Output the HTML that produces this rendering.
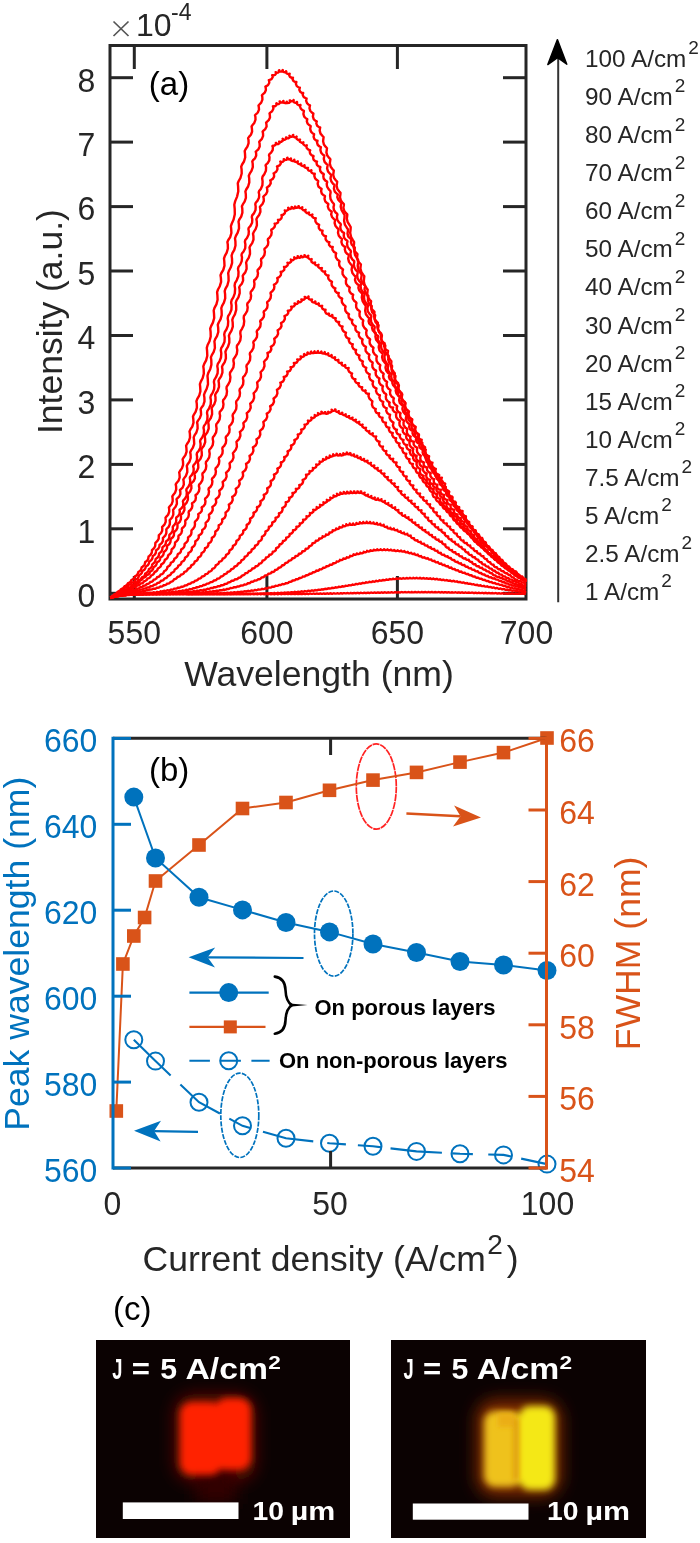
<!DOCTYPE html>
<html><head><meta charset="utf-8"><style>
html,body{margin:0;padding:0;background:#fff;}
svg{display:block;font-family:"Liberation Sans", sans-serif;filter:blur(0.5px);}
</style></head><body>
<svg width="700" height="1543" viewBox="0 0 700 1543">
<rect width="700" height="1543" fill="#fff"/>
<g stroke="#262626" stroke-width="3" fill="none">
<path d="M110,45.6 H526 V599 H110 Z"/>
<path d="M134.3,45.6 V69"/><path d="M134.3,599 V576"/>
<path d="M266.9,45.6 V69"/><path d="M266.9,599 V576"/>
<path d="M397.4,45.6 V69"/><path d="M397.4,599 V576"/>
<path d="M110,593.3 H133"/><path d="M526,593.3 H503"/>
<path d="M110,528.8 H133"/><path d="M526,528.8 H503"/>
<path d="M110,464.4 H133"/><path d="M526,464.4 H503"/>
<path d="M110,399.9 H133"/><path d="M526,399.9 H503"/>
<path d="M110,335.5 H133"/><path d="M526,335.5 H503"/>
<path d="M110,271.0 H133"/><path d="M526,271.0 H503"/>
<path d="M110,206.6 H133"/><path d="M526,206.6 H503"/>
<path d="M110,142.1 H133"/><path d="M526,142.1 H503"/>
<path d="M110,77.7 H133"/><path d="M526,77.7 H503"/>
</g>
<g fill="none" stroke="#FF0000" stroke-width="2.4" stroke-linejoin="round">
<path d="M110.5,597.3 L110.9,596.8 L111.7,596.6 L112.6,596.1 L113.4,595.4 L113.9,594.7 L114.4,594.3 L115.1,594.1 L116.1,593.6 L116.9,592.8 L117.4,592.1 L117.8,591.7 L118.5,591.4 L119.5,590.9 L120.4,590.1 L120.8,589.4 L121.2,589.0 L122.0,588.7 L123.0,588.2 L123.8,587.4 L124.3,586.6 L124.6,586.2 L125.4,585.9 L126.4,585.4 L127.3,584.5 L127.7,583.6 L128.1,583.2 L128.8,582.9 L129.9,582.3 L130.8,581.3 L131.2,580.4 L131.5,579.9 L132.2,579.6 L133.4,579.0 L134.2,577.9 L134.6,576.9 L134.9,576.3 L135.7,575.9 L136.8,575.2 L137.7,573.9 L138.1,572.7 L138.3,572.0 L139.1,571.5 L140.3,570.6 L141.2,569.3 L141.5,568.0 L141.7,567.2 L142.5,566.7 L143.7,565.8 L144.7,564.3 L145.0,562.9 L145.2,562.1 L145.9,561.6 L147.2,560.6 L148.2,559.0 L148.4,557.5 L148.6,556.5 L149.4,555.9 L150.7,554.7 L151.7,552.9 L151.9,551.2 L152.0,550.1 L152.8,549.3 L154.2,548.0 L155.2,546.0 L155.3,544.1 L155.4,542.9 L156.2,542.1 L157.6,540.7 L158.7,538.6 L158.8,536.6 L158.8,535.4 L159.6,534.5 L161.1,533.0 L162.2,530.7 L162.3,528.4 L162.1,527.1 L163.0,526.1 L164.6,524.4 L165.7,521.8 L165.7,519.3 L165.5,517.7 L166.4,516.6 L168.1,514.7 L169.2,511.8 L169.2,509.1 L168.9,507.5 L169.8,506.3 L171.6,504.3 L172.7,501.2 L172.6,498.2 L172.3,496.4 L173.2,495.0 L175.0,492.8 L176.2,489.4 L176.1,486.3 L175.7,484.4 L176.6,483.0 L178.5,480.8 L179.7,477.4 L179.5,474.2 L179.2,472.3 L180.1,470.8 L181.9,468.4 L183.1,464.9 L183.0,461.5 L182.6,459.4 L183.5,457.7 L185.4,455.1 L186.6,451.5 L186.4,448.0 L186.1,445.7 L187.0,444.0 L188.8,441.3 L190.0,437.5 L189.9,433.8 L189.5,431.4 L190.4,429.4 L192.3,426.6 L193.5,422.7 L193.3,419.0 L193.0,416.6 L193.9,414.6 L195.7,411.7 L196.9,407.7 L196.8,403.9 L196.4,401.2 L197.3,398.9 L199.2,395.7 L200.4,391.3 L200.2,387.1 L199.9,384.1 L200.8,381.6 L202.6,378.2 L203.8,373.7 L203.7,369.4 L203.3,366.4 L204.2,363.9 L206.1,360.4 L207.3,355.7 L207.1,351.2 L206.8,347.8 L207.6,345.0 L209.5,341.3 L210.7,336.5 L210.6,331.9 L210.2,328.7 L211.1,326.1 L212.9,322.6 L214.2,318.0 L214.0,313.6 L213.7,310.5 L214.5,307.9 L216.4,304.4 L217.6,299.8 L217.4,295.3 L217.1,292.1 L218.0,289.5 L219.8,286.2 L221.1,281.9 L220.9,277.9 L220.5,275.2 L221.4,273.0 L223.3,269.9 L224.5,265.7 L224.3,261.5 L224.0,258.5 L224.9,255.9 L226.7,252.7 L227.9,248.5 L227.8,244.6 L227.4,242.0 L228.3,240.0 L230.2,237.1 L231.4,233.0 L231.2,229.1 L230.9,226.2 L231.8,223.5 L233.6,219.6 L234.8,214.3 L234.7,208.9 L234.3,204.7 L235.2,201.1 L237.1,196.6 L238.3,191.2 L238.1,186.4 L237.8,183.3 L238.7,181.0 L240.5,177.8 L241.7,173.5 L241.6,169.5 L241.2,166.7 L242.1,164.5 L244.0,161.5 L245.2,157.4 L245.0,153.6 L244.7,151.0 L245.6,149.2 L247.4,146.6 L248.6,143.1 L248.5,140.0 L248.1,138.1 L249.0,136.9 L250.9,134.8 L252.1,131.5 L251.9,128.5 L251.6,126.5 L252.5,125.1 L254.3,122.9 L255.5,119.7 L255.4,116.8 L255.0,115.3 L255.9,114.3 L257.8,112.5 L259.0,109.6 L258.8,106.9 L258.5,105.5 L259.4,104.5 L261.2,102.6 L262.4,99.6 L262.3,96.8 L261.9,95.3 L262.8,94.4 L264.7,92.7 L265.9,90.0 L265.7,87.6 L265.4,86.6 L266.3,86.2 L268.1,85.0 L269.3,82.8 L269.1,80.8 L268.8,80.1 L269.6,80.0 L271.5,79.1 L272.7,77.2 L272.5,75.5 L272.2,75.2 L273.0,75.5 L274.9,74.9 L276.1,73.4 L275.9,72.1 L275.6,72.1 L276.4,72.7 L278.3,72.5 L279.5,71.2 L279.3,70.2 L278.9,70.5 L279.8,71.5 L281.7,71.6 L282.9,70.5 L282.7,70.0 L282.3,70.6 L283.2,71.9 L285.1,72.3 L286.3,71.7 L286.1,71.2 L285.7,72.0 L286.6,73.4 L288.5,74.1 L289.7,73.8 L289.5,73.8 L289.1,75.0 L290.0,76.9 L291.8,77.9 L293.0,77.8 L292.9,77.9 L292.5,79.1 L293.4,80.9 L295.2,82.0 L296.4,82.0 L296.3,82.3 L295.9,83.9 L296.8,86.1 L298.6,87.4 L299.8,87.7 L299.7,88.1 L299.3,89.7 L300.2,91.8 L302.0,93.0 L303.2,93.0 L303.1,93.3 L302.7,94.8 L303.6,96.9 L305.4,98.1 L306.6,98.4 L306.5,98.9 L306.1,100.7 L307.0,103.2 L308.8,104.8 L310.0,105.4 L309.8,106.2 L309.5,108.3 L310.4,111.0 L312.2,112.8 L313.4,113.6 L313.2,114.5 L312.9,116.7 L313.8,119.4 L315.6,120.9 L316.8,121.3 L316.6,121.8 L316.3,123.4 L317.2,125.7 L319.0,127.1 L320.2,127.5 L320.0,128.3 L319.7,130.6 L320.5,133.6 L322.4,135.8 L323.6,137.0 L323.4,138.5 L323.1,141.2 L323.9,144.5 L325.8,146.9 L327.0,148.2 L326.8,149.7 L326.4,152.4 L327.3,155.6 L329.2,157.9 L330.4,159.2 L330.2,160.7 L329.8,163.4 L330.7,166.7 L332.6,169.2 L333.8,170.5 L333.6,172.0 L333.2,174.8 L334.1,178.1 L336.0,180.5 L337.2,181.7 L337.0,183.2 L336.6,185.9 L337.5,189.2 L339.4,191.6 L340.5,192.9 L340.4,194.4 L340.0,197.2 L340.9,200.6 L342.7,202.9 L343.9,204.1 L343.8,205.4 L343.4,207.9 L344.3,211.0 L346.1,213.2 L347.3,214.4 L347.2,215.8 L346.8,218.6 L347.7,222.2 L349.5,225.0 L350.7,227.0 L350.6,229.3 L350.2,232.9 L351.1,237.0 L352.9,240.2 L354.1,242.2 L354.0,244.2 L353.6,247.3 L354.5,250.6 L356.3,253.0 L357.5,254.1 L357.3,255.4 L357.0,257.9 L357.9,261.0 L359.7,263.2 L360.9,264.3 L360.7,265.7 L360.4,268.5 L361.3,271.9 L363.1,274.6 L364.3,276.3 L364.1,278.2 L363.8,281.4 L364.7,285.2 L366.5,288.0 L367.7,289.7 L367.5,291.4 L367.2,294.3 L368.0,297.6 L369.9,300.0 L371.1,301.2 L370.9,302.6 L370.6,305.3 L371.4,308.4 L373.3,310.7 L374.5,311.9 L374.3,313.3 L374.0,316.0 L374.8,319.3 L376.7,321.6 L377.9,322.8 L377.7,324.2 L377.3,326.9 L378.2,330.1 L380.1,332.4 L381.3,333.6 L381.1,335.0 L380.7,337.6 L381.6,340.6 L383.5,342.6 L384.7,343.3 L384.5,344.1 L384.1,346.1 L385.0,348.6 L386.9,350.3 L388.0,350.9 L387.9,351.9 L387.5,354.3 L388.4,357.4 L390.2,359.8 L391.4,361.2 L391.3,362.9 L390.9,365.8 L391.8,369.3 L393.6,371.8 L394.8,373.2 L394.7,374.6 L394.3,377.1 L395.2,380.1 L397.0,382.2 L398.2,383.2 L398.1,384.4 L397.7,386.8 L398.6,389.8 L400.4,391.9 L401.6,392.9 L401.4,394.0 L401.0,396.3 L401.9,399.1 L403.8,401.1 L404.9,401.9 L404.8,403.0 L404.4,405.3 L405.3,408.2 L407.1,410.1 L408.3,410.9 L408.1,411.9 L407.8,414.1 L408.6,416.8 L410.5,418.5 L411.7,419.1 L411.5,419.9 L411.1,421.9 L412.0,424.4 L413.8,426.1 L415.0,426.6 L414.8,427.4 L414.5,429.4 L415.3,431.9 L417.2,433.5 L418.4,433.8 L418.2,434.2 L417.8,435.9 L418.7,438.1 L420.5,439.4 L421.7,439.7 L421.6,440.2 L421.2,442.1 L422.1,444.6 L423.9,446.4 L425.1,447.3 L424.9,448.3 L424.5,450.7 L425.4,453.6 L427.3,455.5 L428.4,456.3 L428.3,457.2 L427.9,459.1 L428.8,461.5 L430.6,462.9 L431.8,463.2 L431.6,463.7 L431.3,465.4 L432.1,467.7 L434.0,469.0 L435.2,469.3 L435.0,469.7 L434.6,471.5 L435.5,473.7 L437.3,474.8 L438.5,474.6 L438.3,474.5 L438.0,475.6 L438.8,477.3 L440.7,478.0 L441.9,477.8 L441.7,477.9 L441.3,479.5 L442.2,481.7 L444.0,483.2 L445.2,483.7 L445.0,484.4 L444.7,486.3 L445.6,488.8 L447.4,490.4 L448.6,490.8 L448.4,491.4 L448.0,493.0 L448.9,495.2 L450.7,496.4 L451.9,496.5 L451.8,496.9 L451.4,498.4 L452.3,500.5 L454.1,501.7 L455.2,501.8 L455.1,502.1 L454.8,503.6 L455.7,505.6 L457.4,506.8 L458.6,507.0 L458.5,507.4 L458.2,508.9 L459.1,510.9 L460.8,512.1 L461.9,512.3 L461.8,512.7 L461.6,514.1 L462.4,515.9 L464.1,517.0 L465.2,517.2 L465.2,517.6 L465.0,519.0 L465.8,520.9 L467.4,521.9 L468.5,522.1 L468.5,522.5 L468.4,523.8 L469.2,525.5 L470.8,526.4 L471.8,526.5 L471.9,526.8 L471.8,528.0 L472.6,529.6 L474.1,530.5 L475.2,530.6 L475.2,530.9 L475.1,532.1 L476.0,533.6 L477.5,534.5 L478.5,534.6 L478.6,534.9 L478.5,536.0 L479.3,537.5 L480.8,538.4 L481.8,538.5 L481.9,538.8 L481.9,539.9 L482.7,541.4 L484.1,542.3 L485.2,542.5 L485.3,542.9 L485.3,544.1 L486.1,545.6 L487.5,546.5 L488.5,546.7 L488.6,547.1 L488.7,548.1 L489.5,549.5 L490.8,550.3 L491.8,550.6 L492.0,550.9 L492.1,552.0 L492.8,553.3 L494.2,554.2 L495.1,554.4 L495.3,554.7 L495.4,555.7 L496.2,556.9 L497.5,557.7 L498.5,557.9 L498.7,558.2 L498.8,559.2 L499.6,560.4 L500.9,561.1 L501.8,561.3 L502.0,561.6 L502.2,562.5 L503.0,563.6 L504.2,564.3 L505.1,564.4 L505.4,564.6 L505.6,565.3 L506.3,566.3 L507.6,566.9 L508.5,567.0 L508.7,567.2 L509.0,568.0 L509.7,569.0 L510.9,569.6 L511.8,569.8 L512.1,570.0 L512.3,570.7 L513.1,571.7 L514.3,572.2 L515.1,572.4 L515.5,572.6 L515.7,573.3 L516.5,574.2 L517.6,574.7 L518.5,574.7 L518.8,574.8 L519.1,575.3 L519.8,576.0 L520.9,576.4 L521.8,576.4 L522.2,576.5 L522.5,577.1 L523.2,578.0 L524.3,578.6 L525.1,578.8 L525.5,579.1 L525.8,579.8"/>
<path d="M110.6,597.5 L111.2,596.9 L111.6,596.6 L112.3,596.3 L113.3,596.0 L114.1,595.3 L114.6,594.7 L115.0,594.4 L115.8,594.2 L116.7,593.8 L117.6,593.1 L118.1,592.5 L118.5,592.2 L119.2,592.0 L120.2,591.6 L121.0,590.9 L121.5,590.2 L121.9,589.9 L122.6,589.7 L123.7,589.3 L124.5,588.6 L125.0,587.9 L125.3,587.5 L126.1,587.3 L127.1,586.9 L128.0,586.1 L128.4,585.3 L128.8,584.9 L129.5,584.7 L130.6,584.3 L131.4,583.5 L131.9,582.8 L132.2,582.5 L132.9,582.4 L134.0,581.9 L134.9,581.0 L135.3,580.2 L135.6,579.7 L136.4,579.3 L137.5,578.6 L138.4,577.3 L138.8,576.1 L139.1,575.4 L139.8,574.8 L140.9,574.0 L141.9,572.7 L142.2,571.5 L142.5,570.9 L143.2,570.5 L144.4,569.7 L145.3,568.4 L145.7,567.2 L145.9,566.5 L146.6,566.0 L147.9,565.2 L148.8,563.7 L149.1,562.4 L149.3,561.5 L150.1,561.0 L151.3,560.1 L152.3,558.5 L152.6,557.0 L152.7,556.2 L153.5,555.6 L154.8,554.6 L155.8,552.8 L156.0,551.2 L156.1,550.2 L156.9,549.7 L158.3,548.7 L159.3,547.0 L159.5,545.5 L159.5,544.7 L160.3,544.2 L161.7,543.1 L162.8,541.2 L163.0,539.3 L162.9,538.1 L163.7,537.2 L165.2,535.7 L166.3,533.3 L166.4,531.0 L166.3,529.5 L167.1,528.4 L168.7,526.8 L169.8,524.2 L169.9,521.8 L169.7,520.3 L170.5,519.3 L172.2,517.4 L173.3,514.6 L173.3,511.8 L173.1,510.0 L173.9,508.8 L175.6,506.8 L176.9,503.7 L176.8,500.9 L176.5,499.3 L177.3,498.4 L179.1,496.7 L180.4,494.0 L180.3,491.4 L179.9,490.1 L180.7,489.3 L182.6,487.6 L183.8,484.6 L183.7,481.6 L183.3,479.6 L184.2,478.1 L186.0,475.7 L187.3,472.0 L187.2,468.5 L186.8,466.1 L187.6,464.3 L189.5,461.7 L190.7,458.0 L190.6,454.5 L190.2,452.2 L191.1,450.4 L192.9,447.7 L194.2,443.8 L194.0,440.0 L193.7,437.4 L194.5,435.4 L196.4,432.5 L197.6,428.5 L197.5,424.7 L197.1,422.3 L198.0,420.6 L199.8,418.1 L201.1,414.6 L200.9,411.3 L200.6,409.2 L201.4,407.7 L203.3,405.2 L204.5,401.4 L204.4,397.6 L204.0,394.8 L204.9,392.4 L206.7,388.8 L208.0,384.1 L207.8,379.4 L207.5,375.8 L208.3,372.9 L210.2,369.2 L211.4,364.6 L211.3,360.2 L210.9,357.4 L211.8,355.1 L213.6,352.1 L214.9,348.0 L214.7,344.1 L214.4,341.4 L215.2,339.2 L217.0,336.2 L218.3,332.0 L218.2,327.8 L217.8,324.8 L218.7,322.5 L220.5,319.3 L221.7,315.1 L221.6,311.0 L221.3,308.1 L222.1,305.9 L223.9,302.7 L225.2,298.4 L225.1,294.2 L224.7,291.2 L225.5,288.7 L227.4,285.3 L228.6,280.7 L228.5,276.4 L228.2,273.2 L229.0,270.7 L230.8,267.3 L232.1,262.8 L232.0,258.6 L231.6,255.6 L232.4,253.2 L234.3,249.9 L235.5,245.5 L235.4,241.3 L235.0,238.3 L235.9,235.9 L237.7,232.7 L239.0,228.4 L238.9,224.3 L238.5,221.6 L239.3,219.5 L241.2,216.6 L242.4,212.6 L242.3,208.8 L241.9,206.3 L242.8,204.4 L244.6,201.7 L245.9,197.8 L245.8,194.1 L245.4,191.5 L246.2,189.5 L248.1,186.5 L249.3,182.4 L249.2,178.4 L248.8,175.7 L249.7,173.7 L251.5,170.9 L252.8,167.1 L252.7,163.6 L252.3,161.5 L253.1,160.2 L255.0,158.4 L256.2,155.5 L256.1,152.9 L255.7,151.6 L256.6,150.9 L258.4,149.3 L259.7,146.4 L259.6,143.6 L259.2,141.9 L260.0,140.8 L261.9,138.9 L263.1,135.9 L263.0,133.1 L262.6,131.6 L263.5,130.7 L265.3,129.1 L266.6,126.4 L266.4,123.9 L266.1,122.7 L266.9,121.9 L268.7,120.2 L270.0,117.4 L269.8,114.7 L269.5,113.3 L270.3,112.6 L272.1,111.2 L273.4,108.8 L273.2,106.8 L272.9,106.2 L273.7,106.5 L275.5,106.0 L276.8,104.5 L276.6,103.3 L276.3,103.4 L277.1,104.1 L278.9,104.0 L280.2,102.7 L280.0,101.5 L279.6,101.5 L280.5,102.4 L282.3,102.5 L283.6,101.6 L283.4,100.9 L283.0,101.5 L283.9,102.8 L285.7,103.2 L286.9,102.4 L286.8,101.7 L286.4,102.2 L287.3,103.0 L289.1,102.9 L290.3,101.6 L290.2,100.4 L289.8,100.5 L290.7,101.2 L292.5,101.3 L293.7,100.4 L293.6,99.9 L293.2,100.8 L294.0,102.3 L295.9,102.9 L297.1,102.4 L297.0,102.0 L296.6,103.0 L297.4,104.5 L299.3,105.3 L300.5,105.0 L300.4,105.0 L300.0,106.4 L300.8,108.7 L302.7,110.3 L303.9,110.9 L303.8,111.8 L303.4,113.9 L304.2,116.7 L306.1,118.5 L307.3,119.0 L307.2,119.6 L306.8,121.2 L307.6,123.7 L309.5,125.3 L310.7,126.0 L310.6,126.8 L310.2,128.9 L311.0,131.6 L312.8,133.5 L314.1,134.1 L314.0,134.9 L313.6,136.8 L314.4,139.1 L316.2,140.5 L317.5,140.7 L317.4,141.1 L317.0,142.7 L317.8,145.0 L319.6,146.5 L320.9,147.0 L320.7,147.8 L320.4,150.0 L321.2,152.8 L323.0,154.8 L324.3,155.6 L324.1,156.7 L323.8,159.0 L324.6,161.9 L326.4,163.9 L327.7,164.9 L327.5,166.0 L327.1,168.4 L328.0,171.4 L329.8,173.6 L331.1,174.7 L330.9,176.0 L330.5,178.5 L331.4,181.6 L333.2,183.9 L334.4,185.0 L334.3,186.3 L333.9,188.7 L334.8,191.6 L336.6,193.5 L337.8,194.2 L337.7,195.0 L337.3,197.0 L338.2,199.7 L340.0,201.6 L341.2,202.6 L341.1,203.8 L340.7,206.6 L341.6,210.2 L343.4,213.1 L344.6,215.1 L344.5,217.3 L344.1,220.7 L344.9,224.7 L346.8,227.7 L348.0,229.4 L347.9,231.0 L347.5,233.6 L348.3,236.6 L350.2,238.5 L351.4,239.2 L351.3,239.9 L350.9,241.9 L351.7,244.6 L353.6,246.5 L354.8,247.4 L354.7,248.8 L354.3,251.6 L355.1,255.2 L357.0,258.2 L358.2,260.2 L358.1,262.4 L357.7,265.9 L358.5,269.9 L360.4,272.9 L361.6,274.6 L361.5,276.2 L361.1,278.9 L361.9,282.1 L363.7,284.4 L365.0,285.6 L364.9,286.9 L364.5,289.4 L365.3,292.5 L367.1,294.8 L368.4,296.0 L368.2,297.4 L367.9,300.0 L368.7,303.0 L370.5,305.1 L371.8,306.0 L371.6,307.0 L371.3,309.2 L372.1,312.1 L373.9,314.1 L375.2,315.1 L375.0,316.4 L374.6,319.0 L375.5,322.1 L377.3,324.3 L378.6,325.3 L378.4,326.5 L378.0,328.9 L378.9,332.0 L380.7,334.1 L381.9,335.2 L381.8,336.5 L381.4,339.0 L382.3,342.1 L384.1,344.4 L385.3,345.5 L385.2,346.8 L384.8,349.4 L385.7,352.5 L387.5,354.7 L388.7,355.8 L388.6,357.0 L388.2,359.4 L389.1,362.5 L390.9,364.7 L392.1,365.8 L392.0,367.1 L391.6,369.6 L392.4,372.6 L394.3,374.8 L395.5,375.8 L395.4,376.9 L395.0,379.3 L395.8,382.2 L397.7,384.2 L398.9,385.2 L398.8,386.3 L398.4,388.6 L399.2,391.4 L401.0,393.4 L402.3,394.3 L402.1,395.3 L401.7,397.5 L402.6,400.3 L404.4,402.2 L405.6,403.0 L405.5,403.9 L405.1,406.1 L405.9,408.8 L407.7,410.6 L409.0,411.4 L408.8,412.3 L408.4,414.3 L409.3,417.0 L411.1,418.7 L412.3,419.3 L412.2,420.0 L411.8,422.0 L412.6,424.5 L414.5,426.2 L415.7,426.8 L415.6,427.6 L415.2,429.6 L416.0,432.2 L417.8,434.0 L419.0,434.7 L418.9,435.6 L418.5,437.7 L419.3,440.4 L421.2,442.1 L422.4,442.7 L422.3,443.5 L421.9,445.3 L422.7,447.7 L424.5,449.3 L425.8,449.7 L425.6,450.2 L425.2,452.0 L426.1,454.3 L427.9,455.8 L429.1,456.1 L429.0,456.7 L428.6,458.5 L429.4,460.8 L431.2,462.3 L432.5,462.6 L432.3,463.1 L431.9,464.8 L432.8,467.0 L434.6,468.5 L435.8,468.8 L435.7,469.2 L435.3,470.9 L436.1,473.3 L438.0,474.8 L439.2,475.1 L439.0,475.7 L438.7,477.4 L439.5,479.7 L441.3,481.2 L442.5,481.5 L442.4,481.9 L442.0,483.5 L442.8,485.6 L444.7,486.9 L445.9,486.9 L445.8,487.2 L445.4,488.6 L446.2,490.6 L448.0,491.8 L449.3,491.9 L449.1,492.2 L448.7,493.7 L449.6,495.9 L451.4,497.2 L452.6,497.3 L452.5,497.6 L452.1,499.2 L452.9,501.2 L454.7,502.5 L455.9,502.6 L455.8,502.9 L455.5,504.3 L456.3,506.2 L458.1,507.2 L459.2,507.1 L459.2,507.2 L458.9,508.4 L459.7,510.1 L461.4,511.0 L462.6,511.0 L462.5,511.3 L462.3,512.7 L463.1,514.6 L464.7,515.9 L465.9,516.2 L465.9,516.8 L465.7,518.3 L466.5,520.3 L468.1,521.5 L469.2,521.8 L469.2,522.1 L469.1,523.4 L469.9,525.1 L471.4,526.2 L472.5,526.4 L472.6,526.8 L472.4,528.1 L473.2,529.8 L474.8,530.9 L475.8,531.1 L475.9,531.4 L475.8,532.6 L476.6,534.1 L478.1,535.1 L479.2,535.2 L479.3,535.5 L479.2,536.6 L480.0,538.1 L481.5,539.0 L482.5,539.2 L482.6,539.4 L482.6,540.5 L483.4,542.0 L484.8,542.8 L485.8,543.0 L486.0,543.2 L486.0,544.2 L486.7,545.6 L488.1,546.4 L489.2,546.6 L489.3,546.8 L489.4,547.8 L490.1,549.1 L491.5,549.9 L492.5,550.0 L492.7,550.2 L492.7,551.1 L493.5,552.3 L494.8,553.0 L495.8,553.1 L496.0,553.4 L496.1,554.4 L496.9,555.7 L498.2,556.6 L499.1,556.9 L499.4,557.3 L499.5,558.3 L500.3,559.6 L501.5,560.4 L502.5,560.7 L502.7,561.0 L502.9,561.8 L503.6,563.0 L504.9,563.6 L505.8,563.7 L506.1,563.9 L506.3,564.7 L507.0,565.8 L508.2,566.4 L509.1,566.5 L509.4,566.8 L509.6,567.5 L510.4,568.5 L511.6,569.1 L512.5,569.2 L512.8,569.3 L513.0,569.9 L513.7,570.8 L514.9,571.3 L515.8,571.4 L516.1,571.6 L516.4,572.4 L517.1,573.5 L518.3,574.3 L519.1,574.7 L519.5,575.2 L519.8,576.1 L520.5,577.3 L521.6,578.0 L522.5,578.3 L522.8,578.5 L523.1,579.1 L523.9,579.9 L525.0,580.3 L525.8,580.3 L526.2,580.3"/>
<path d="M110.5,597.5 L111.0,597.1 L111.6,596.9 L112.5,596.7 L113.4,596.1 L114.0,595.5 L114.4,595.2 L115.0,595.1 L116.0,594.8 L116.9,594.3 L117.5,593.7 L117.9,593.4 L118.5,593.2 L119.4,593.0 L120.3,592.5 L120.9,591.9 L121.3,591.5 L121.9,591.4 L122.9,591.2 L123.8,590.7 L124.4,590.1 L124.7,589.7 L125.3,589.7 L126.3,589.5 L127.3,588.9 L127.8,588.3 L128.2,587.9 L128.8,587.8 L129.8,587.5 L130.7,586.8 L131.3,586.0 L131.6,585.5 L132.2,585.3 L133.2,584.9 L134.2,584.2 L134.7,583.3 L135.0,582.8 L135.6,582.6 L136.7,582.3 L137.7,581.5 L138.2,580.7 L138.5,580.2 L139.1,580.0 L140.1,579.7 L141.1,578.9 L141.6,577.9 L141.9,577.3 L142.5,577.0 L143.6,576.5 L144.6,575.5 L145.1,574.3 L145.3,573.6 L145.9,573.2 L147.0,572.5 L148.1,571.4 L148.6,570.1 L148.8,569.3 L149.3,568.9 L150.5,568.3 L151.6,567.0 L152.0,565.5 L152.2,564.5 L152.7,563.9 L153.9,563.1 L155.0,561.7 L155.5,560.1 L155.6,559.1 L156.2,558.6 L157.4,557.8 L158.5,556.3 L159.0,554.7 L159.0,553.6 L159.6,553.0 L160.8,552.1 L162.0,550.5 L162.4,548.7 L162.4,547.5 L163.0,546.8 L164.3,546.0 L165.5,544.4 L165.9,542.6 L165.9,541.6 L166.4,541.1 L167.7,540.2 L169.0,538.5 L169.4,536.6 L169.3,535.2 L169.8,534.4 L171.2,533.2 L172.5,531.1 L172.9,528.7 L172.7,527.0 L173.2,526.1 L174.6,524.7 L176.0,522.4 L176.3,519.8 L176.1,518.1 L176.5,517.3 L178.1,516.1 L179.5,513.9 L179.8,511.5 L179.5,510.0 L179.9,509.4 L181.5,508.3 L183.1,506.0 L183.3,503.2 L182.9,501.4 L183.3,500.4 L185.0,498.7 L186.6,495.8 L186.8,492.4 L186.3,490.1 L186.7,488.7 L188.4,486.8 L190.0,483.6 L190.2,480.2 L189.8,477.9 L190.2,476.7 L191.9,474.9 L193.5,471.9 L193.7,468.7 L193.2,466.4 L193.6,465.1 L195.3,463.3 L196.9,460.2 L197.1,456.8 L196.7,454.3 L197.1,452.8 L198.8,450.8 L200.4,447.5 L200.6,443.9 L200.1,441.3 L200.5,439.7 L202.2,437.6 L203.8,434.1 L204.0,430.4 L203.5,427.7 L204.0,425.9 L205.7,423.6 L207.3,419.9 L207.5,415.9 L207.0,412.9 L207.4,410.8 L209.1,408.3 L210.7,404.5 L210.9,400.4 L210.4,397.5 L210.9,395.5 L212.6,392.9 L214.1,389.1 L214.4,385.0 L213.9,382.0 L214.3,379.8 L216.0,377.2 L217.6,373.3 L217.8,369.1 L217.3,366.1 L217.8,363.9 L219.5,361.3 L221.0,357.5 L221.3,353.4 L220.8,350.3 L221.2,348.2 L222.9,345.5 L224.5,341.7 L224.7,337.5 L224.2,334.4 L224.7,332.2 L226.4,329.5 L227.9,325.6 L228.2,321.5 L227.7,318.4 L228.1,316.2 L229.8,313.6 L231.4,309.7 L231.6,305.5 L231.1,302.4 L231.6,300.2 L233.3,297.4 L234.8,293.3 L235.1,288.9 L234.6,285.6 L235.0,283.2 L236.7,280.3 L238.3,276.3 L238.5,272.0 L238.0,268.9 L238.5,266.9 L240.2,264.6 L241.7,261.1 L242.0,257.5 L241.5,255.0 L241.9,253.5 L243.6,251.5 L245.2,248.2 L245.4,244.5 L244.9,241.8 L245.3,240.0 L247.0,237.9 L248.6,234.6 L248.8,231.2 L248.4,229.0 L248.8,227.7 L250.5,225.9 L252.1,222.8 L252.3,219.4 L251.8,217.0 L252.2,215.4 L253.9,213.4 L255.5,210.1 L255.7,206.6 L255.3,204.2 L255.7,202.8 L257.4,200.9 L259.0,197.8 L259.2,194.5 L258.7,192.3 L259.1,191.0 L260.8,188.9 L262.4,185.3 L262.6,181.4 L262.2,178.5 L262.6,176.5 L264.3,174.2 L265.9,170.8 L266.1,167.4 L265.6,165.4 L266.0,164.6 L267.7,163.1 L269.3,160.3 L269.5,157.2 L269.0,155.2 L269.4,154.1 L271.1,152.6 L272.7,150.0 L272.9,147.3 L272.4,146.0 L272.8,145.8 L274.5,145.5 L276.1,144.3 L276.3,143.0 L275.8,142.9 L276.2,143.8 L277.9,144.2 L279.5,143.3 L279.7,142.0 L279.2,141.6 L279.6,141.9 L281.3,141.8 L282.9,140.5 L283.1,139.1 L282.6,138.8 L283.0,139.4 L284.7,139.7 L286.3,138.7 L286.5,137.5 L286.0,137.4 L286.4,138.2 L288.1,138.4 L289.6,137.4 L289.9,136.1 L289.4,135.8 L289.8,136.6 L291.5,136.9 L293.0,136.0 L293.2,135.0 L292.8,135.3 L293.2,136.5 L294.9,137.4 L296.4,137.1 L296.6,136.6 L296.2,137.3 L296.6,138.8 L298.3,140.0 L299.8,139.9 L300.0,139.5 L299.5,140.2 L300.0,141.8 L301.7,142.8 L303.2,142.6 L303.4,142.2 L302.9,142.8 L303.4,144.4 L305.0,145.6 L306.6,145.6 L306.8,145.3 L306.3,146.3 L306.8,148.2 L308.4,149.7 L310.0,150.1 L310.2,150.2 L309.7,151.4 L310.1,153.6 L311.8,155.3 L313.4,155.8 L313.6,156.1 L313.1,157.4 L313.5,159.6 L315.2,161.2 L316.8,161.5 L317.0,161.6 L316.5,162.7 L316.9,164.8 L318.6,166.4 L320.2,166.9 L320.4,167.1 L319.9,168.6 L320.3,171.1 L322.0,173.1 L323.6,173.9 L323.8,174.4 L323.3,176.0 L323.7,178.6 L325.4,180.6 L327.0,181.5 L327.2,182.2 L326.7,183.9 L327.1,186.7 L328.8,189.4 L330.4,191.0 L330.6,192.5 L330.1,195.2 L330.5,198.9 L332.2,202.0 L333.8,203.7 L334.0,205.0 L333.5,207.1 L333.9,210.0 L335.6,212.5 L337.1,213.7 L337.4,214.7 L336.9,216.8 L337.3,219.8 L339.0,222.4 L340.5,223.7 L340.8,224.7 L340.3,226.8 L340.7,229.7 L342.4,232.0 L343.9,232.9 L344.1,233.5 L343.7,235.1 L344.1,237.7 L345.8,239.8 L347.3,240.7 L347.5,241.5 L347.0,243.5 L347.5,246.6 L349.2,249.2 L350.7,250.6 L350.9,251.7 L350.4,253.8 L350.9,257.0 L352.5,259.6 L354.1,261.0 L354.3,262.1 L353.8,264.3 L354.3,267.4 L355.9,270.1 L357.5,271.6 L357.7,272.8 L357.2,275.2 L357.6,278.4 L359.3,281.2 L360.9,282.7 L361.1,283.9 L360.6,286.1 L361.0,289.2 L362.7,292.0 L364.3,293.5 L364.5,294.8 L364.0,297.1 L364.4,300.5 L366.1,303.2 L367.7,304.8 L367.9,306.0 L367.4,308.2 L367.8,311.3 L369.5,313.9 L371.1,315.4 L371.3,316.6 L370.8,319.0 L371.2,322.2 L372.9,324.9 L374.5,326.4 L374.7,327.5 L374.2,329.6 L374.6,332.6 L376.3,334.9 L377.9,335.8 L378.1,336.3 L377.6,337.8 L378.0,340.2 L379.7,342.2 L381.3,343.1 L381.5,343.8 L381.0,345.7 L381.4,348.7 L383.1,351.4 L384.6,353.0 L384.9,354.4 L384.4,356.8 L384.8,360.2 L386.5,363.1 L388.0,364.7 L388.3,365.8 L387.8,367.9 L388.2,370.7 L389.9,373.0 L391.4,374.0 L391.6,374.6 L391.2,376.3 L391.6,378.9 L393.3,381.0 L394.8,381.9 L395.0,382.6 L394.5,384.4 L395.0,387.2 L396.7,389.4 L398.2,390.4 L398.4,391.0 L397.9,392.7 L398.3,395.3 L400.0,397.4 L401.6,398.3 L401.8,398.9 L401.3,400.6 L401.7,403.3 L403.4,405.5 L404.9,406.5 L405.1,407.1 L404.6,408.8 L405.1,411.5 L406.7,413.6 L408.3,414.5 L408.5,415.1 L408.0,416.8 L408.4,419.4 L410.1,421.6 L411.6,422.6 L411.9,423.4 L411.4,425.3 L411.8,428.1 L413.4,430.3 L415.0,431.3 L415.2,431.9 L414.7,433.6 L415.1,436.0 L416.8,437.9 L418.4,438.4 L418.6,438.6 L418.1,439.8 L418.5,441.9 L420.2,443.6 L421.7,444.0 L421.9,444.3 L421.4,445.7 L421.8,448.2 L423.5,450.4 L425.1,451.5 L425.3,452.5 L424.8,454.5 L425.2,457.5 L426.9,460.0 L428.4,461.1 L428.6,461.7 L428.1,463.3 L428.6,465.5 L430.2,467.2 L431.8,467.5 L432.0,467.5 L431.5,468.6 L431.9,470.5 L433.6,472.0 L435.1,472.3 L435.3,472.4 L434.8,473.6 L435.3,475.8 L436.9,477.4 L438.5,477.7 L438.7,477.7 L438.2,478.7 L438.6,480.7 L440.3,482.2 L441.9,482.4 L442.1,482.5 L441.6,483.6 L442.0,485.8 L443.7,487.4 L445.2,487.7 L445.4,487.7 L444.9,488.7 L445.3,490.7 L447.0,492.2 L448.6,492.4 L448.8,492.5 L448.3,493.6 L448.7,495.7 L450.4,497.4 L451.9,498.0 L452.1,498.4 L451.7,499.8 L452.1,502.1 L453.7,503.9 L455.2,504.5 L455.5,504.7 L455.0,505.9 L455.5,507.8 L457.1,509.2 L458.5,509.4 L458.8,509.4 L458.4,510.3 L458.9,512.1 L460.4,513.4 L461.9,513.6 L462.1,513.7 L461.8,514.7 L462.3,516.4 L463.8,517.8 L465.2,518.1 L465.5,518.2 L465.2,519.1 L465.6,520.8 L467.1,522.1 L468.5,522.4 L468.8,522.5 L468.6,523.4 L469.0,525.1 L470.5,526.3 L471.8,526.5 L472.1,526.6 L471.9,527.4 L472.4,528.9 L473.8,530.0 L475.2,530.3 L475.5,530.3 L475.3,531.2 L475.8,532.8 L477.2,533.9 L478.5,534.2 L478.8,534.3 L478.7,535.1 L479.2,536.5 L480.6,537.6 L481.8,537.9 L482.2,538.0 L482.1,538.8 L482.6,540.3 L483.9,541.5 L485.1,542.0 L485.5,542.3 L485.4,543.2 L486.0,544.8 L487.3,546.1 L488.5,546.5 L488.9,546.7 L488.8,547.6 L489.3,548.9 L490.6,550.0 L491.8,550.3 L492.2,550.6 L492.2,551.4 L492.7,552.8 L494.0,553.8 L495.1,554.2 L495.5,554.4 L495.6,555.1 L496.1,556.3 L497.3,557.2 L498.5,557.4 L498.9,557.4 L498.9,557.9 L499.5,559.0 L500.7,559.7 L501.8,559.9 L502.2,560.0 L502.3,560.6 L502.9,561.8 L504.0,562.9 L505.1,563.4 L505.6,563.8 L505.7,564.8 L506.2,566.2 L507.4,567.3 L508.5,567.8 L508.9,568.1 L509.1,568.8 L509.6,569.8 L510.7,570.5 L511.8,570.6 L512.3,570.6 L512.4,571.1 L513.0,571.9 L514.1,572.5 L515.1,572.6 L515.6,572.7 L515.8,573.2 L516.4,574.1 L517.4,574.8 L518.5,575.1 L519.0,575.2 L519.2,575.7 L519.7,576.6 L520.8,577.3 L521.8,577.5 L522.3,577.6 L522.5,578.0 L523.1,578.9 L524.2,579.5 L525.1,579.6 L525.6,579.7 L525.9,580.1"/>
<path d="M110.5,597.9 L111.3,597.3 L111.9,596.7 L112.3,596.5 L113.0,596.4 L114.0,596.1 L114.8,595.5 L115.3,595.0 L115.7,594.7 L116.5,594.7 L117.4,594.4 L118.3,593.9 L118.8,593.3 L119.2,593.1 L119.9,593.1 L120.9,592.9 L121.7,592.4 L122.2,591.9 L122.6,591.7 L123.3,591.7 L124.3,591.4 L125.2,590.8 L125.7,590.2 L126.1,590.0 L126.8,589.9 L127.8,589.6 L128.6,589.0 L129.1,588.4 L129.5,588.1 L130.2,588.1 L131.2,587.8 L132.1,587.2 L132.6,586.5 L132.9,586.3 L133.6,586.2 L134.7,585.9 L135.6,585.2 L136.0,584.4 L136.4,584.0 L137.1,583.8 L138.1,583.3 L139.0,582.3 L139.5,581.3 L139.8,580.8 L140.5,580.5 L141.6,579.9 L142.5,579.0 L142.9,578.1 L143.2,577.7 L143.9,577.6 L145.1,577.1 L146.0,576.3 L146.4,575.5 L146.6,575.1 L147.4,574.9 L148.5,574.4 L149.5,573.4 L149.8,572.3 L150.1,571.7 L150.8,571.3 L152.0,570.5 L152.9,569.3 L153.3,568.0 L153.5,567.2 L154.2,566.8 L155.4,566.0 L156.4,564.6 L156.7,563.3 L156.9,562.6 L157.6,562.1 L158.9,561.3 L159.9,559.8 L160.2,558.4 L160.3,557.6 L161.1,557.1 L162.4,556.2 L163.4,554.6 L163.7,553.0 L163.7,552.1 L164.5,551.5 L165.8,550.4 L166.9,548.7 L167.1,546.9 L167.1,545.9 L167.9,545.2 L169.3,544.1 L170.4,542.2 L170.6,540.3 L170.5,539.2 L171.3,538.5 L172.8,537.3 L173.9,535.3 L174.0,533.3 L173.9,532.2 L174.7,531.5 L176.2,530.2 L177.4,527.9 L177.5,525.7 L177.3,524.3 L178.1,523.4 L179.7,521.9 L180.9,519.3 L181.0,516.8 L180.7,515.3 L181.5,514.3 L183.2,512.6 L184.4,509.9 L184.4,507.3 L184.1,505.7 L184.9,504.6 L186.6,502.7 L187.9,499.6 L187.9,496.5 L187.5,494.7 L188.3,493.5 L190.1,491.5 L191.4,488.4 L191.3,485.5 L190.9,483.8 L191.7,482.9 L193.6,481.2 L194.9,478.3 L194.8,475.5 L194.4,473.9 L195.2,472.9 L197.0,470.9 L198.3,467.7 L198.2,464.5 L197.8,462.5 L198.6,461.0 L200.5,458.7 L201.8,455.3 L201.7,451.9 L201.3,449.6 L202.1,448.1 L203.9,445.7 L205.2,442.1 L205.1,438.7 L204.7,436.4 L205.5,434.7 L207.4,432.2 L208.7,428.5 L208.6,424.8 L208.2,422.4 L209.0,420.6 L210.8,418.0 L212.1,414.2 L212.0,410.6 L211.6,408.3 L212.4,406.7 L214.2,404.3 L215.5,400.7 L215.5,397.3 L215.1,395.0 L215.9,393.3 L217.7,390.7 L219.0,386.9 L218.9,383.2 L218.5,380.7 L219.3,379.0 L221.1,376.4 L222.4,372.7 L222.4,369.2 L222.0,366.8 L222.8,365.0 L224.6,362.3 L225.9,358.4 L225.8,354.6 L225.4,351.8 L226.2,349.7 L228.0,346.7 L229.3,342.6 L229.3,338.5 L228.9,335.7 L229.7,333.6 L231.5,330.6 L232.8,326.6 L232.7,322.7 L232.3,319.8 L233.1,317.5 L234.9,314.3 L236.2,309.9 L236.2,305.7 L235.8,302.6 L236.5,300.3 L238.4,297.3 L239.7,293.2 L239.6,289.5 L239.2,287.3 L240.0,285.8 L241.8,283.8 L243.1,280.6 L243.0,277.7 L242.7,275.8 L243.4,274.6 L245.3,272.4 L246.6,268.8 L246.5,265.1 L246.1,262.6 L246.9,260.6 L248.7,257.9 L250.0,253.9 L249.9,250.1 L249.5,247.5 L250.3,245.7 L252.2,243.1 L253.5,239.5 L253.4,236.0 L253.0,233.7 L253.8,231.9 L255.6,229.2 L256.9,225.3 L256.8,221.6 L256.4,219.2 L257.2,217.5 L259.1,215.1 L260.4,211.8 L260.3,208.7 L259.9,207.0 L260.7,205.9 L262.5,204.0 L263.8,201.1 L263.7,198.3 L263.3,196.7 L264.1,195.8 L266.0,194.2 L267.3,191.4 L267.2,188.8 L266.8,187.5 L267.6,187.0 L269.4,185.7 L270.7,183.4 L270.6,181.2 L270.2,180.3 L270.9,180.0 L272.8,178.9 L274.1,176.6 L274.0,174.4 L273.6,173.4 L274.3,173.0 L276.2,171.8 L277.4,169.5 L277.4,167.3 L277.0,166.4 L277.7,166.2 L279.6,165.4 L280.8,163.5 L280.8,161.9 L280.3,161.6 L281.1,162.0 L282.9,161.7 L284.2,160.4 L284.1,159.2 L283.7,159.2 L284.5,160.0 L286.3,159.9 L287.6,158.6 L287.5,157.6 L287.1,157.9 L287.9,159.0 L289.7,159.5 L291.0,158.9 L290.9,158.4 L290.5,159.2 L291.3,160.6 L293.1,161.1 L294.4,160.4 L294.3,159.7 L293.9,160.3 L294.7,161.6 L296.5,162.2 L297.8,161.7 L297.7,161.3 L297.3,162.1 L298.1,163.7 L299.9,164.3 L301.2,163.9 L301.1,163.5 L300.7,164.3 L301.5,165.6 L303.3,166.2 L304.6,165.5 L304.5,165.1 L304.1,165.9 L304.9,167.4 L306.7,168.2 L308.0,167.9 L307.9,167.8 L307.5,168.8 L308.3,170.3 L310.1,171.0 L311.4,170.5 L311.3,170.2 L310.9,171.1 L311.7,172.7 L313.5,173.7 L314.8,173.7 L314.7,174.1 L314.3,175.8 L315.1,178.3 L316.9,180.1 L318.2,180.9 L318.1,181.7 L317.7,183.8 L318.4,186.5 L320.3,188.2 L321.6,188.8 L321.5,189.3 L321.1,191.1 L321.8,193.6 L323.7,195.3 L325.0,196.0 L324.9,196.7 L324.5,198.7 L325.2,201.3 L327.1,203.1 L328.3,203.7 L328.3,204.5 L327.8,206.4 L328.6,209.0 L330.4,210.8 L331.7,211.5 L331.6,212.3 L331.2,214.3 L332.0,217.0 L333.8,218.9 L335.1,219.7 L335.0,220.6 L334.6,222.9 L335.4,225.8 L337.2,228.0 L338.5,229.1 L338.4,230.3 L338.0,232.7 L338.8,235.8 L340.6,237.9 L341.9,238.9 L341.8,239.9 L341.4,242.0 L342.2,244.6 L344.0,246.3 L345.3,246.9 L345.2,247.6 L344.8,249.5 L345.6,252.2 L347.4,254.1 L348.7,255.0 L348.6,256.2 L348.2,258.7 L349.0,261.9 L350.8,264.3 L352.1,265.7 L352.0,267.1 L351.6,269.8 L352.4,273.0 L354.2,275.4 L355.5,276.5 L355.4,277.6 L355.0,279.8 L355.8,282.5 L357.6,284.4 L358.9,285.0 L358.8,285.8 L358.4,287.8 L359.2,290.5 L361.0,292.5 L362.3,293.5 L362.2,294.8 L361.8,297.5 L362.6,301.1 L364.4,304.0 L365.7,305.7 L365.6,307.6 L365.2,310.7 L365.9,314.2 L367.8,316.8 L369.1,318.1 L369.0,319.1 L368.6,321.2 L369.3,323.7 L371.2,325.3 L372.5,325.6 L372.4,326.1 L372.0,327.8 L372.7,330.3 L374.6,332.1 L375.8,333.0 L375.8,334.2 L375.4,336.6 L376.1,339.8 L378.0,342.1 L379.2,343.4 L379.1,344.7 L378.7,347.2 L379.5,350.4 L381.3,352.6 L382.6,353.6 L382.5,354.7 L382.1,357.2 L382.9,360.3 L384.7,362.6 L386.0,363.9 L385.9,365.2 L385.5,367.7 L386.3,370.8 L388.1,373.0 L389.4,374.0 L389.3,374.9 L388.9,376.8 L389.7,379.2 L391.5,380.7 L392.8,380.9 L392.7,381.3 L392.3,382.9 L393.1,385.2 L394.9,386.9 L396.2,387.6 L396.1,388.5 L395.7,390.7 L396.5,393.6 L398.3,395.8 L399.6,396.8 L399.5,397.9 L399.1,400.1 L399.8,403.0 L401.7,405.0 L402.9,405.8 L402.8,406.7 L402.4,408.9 L403.2,411.8 L405.0,414.0 L406.3,415.1 L406.2,416.3 L405.8,418.6 L406.6,421.5 L408.4,423.5 L409.7,424.3 L409.6,425.0 L409.1,426.7 L409.9,429.1 L411.7,430.6 L413.0,430.9 L412.9,431.3 L412.5,433.0 L413.3,435.3 L415.1,436.8 L416.4,437.3 L416.3,437.9 L415.9,439.6 L416.6,442.0 L418.4,443.4 L419.7,443.7 L419.6,444.1 L419.2,445.7 L420.0,447.9 L421.8,449.4 L423.1,449.8 L423.0,450.4 L422.6,452.2 L423.3,454.7 L425.2,456.4 L426.4,456.9 L426.3,457.5 L425.9,459.4 L426.7,461.8 L428.5,463.4 L429.8,463.8 L429.7,464.2 L429.3,465.8 L430.1,467.9 L431.9,469.2 L433.2,469.3 L433.1,469.5 L432.6,470.9 L433.4,473.0 L435.2,474.4 L436.5,474.6 L436.4,475.0 L436.0,476.6 L436.8,478.8 L438.6,480.2 L439.9,480.4 L439.8,480.8 L439.4,482.3 L440.1,484.5 L441.9,485.9 L443.2,486.1 L443.1,486.4 L442.7,487.9 L443.5,490.0 L445.3,491.4 L446.6,491.5 L446.5,491.8 L446.1,493.3 L446.8,495.4 L448.7,496.7 L449.9,496.8 L449.8,497.1 L449.4,498.5 L450.2,500.6 L452.0,501.9 L453.2,502.0 L453.2,502.3 L452.8,503.7 L453.6,505.7 L455.3,507.0 L456.6,507.1 L456.5,507.3 L456.2,508.6 L457.0,510.4 L458.7,511.4 L459.9,511.4 L459.9,511.5 L459.6,512.6 L460.4,514.4 L462.0,515.4 L463.2,515.5 L463.2,515.8 L463.0,517.0 L463.8,518.9 L465.4,520.0 L466.5,520.3 L466.6,520.6 L466.4,521.9 L467.1,523.6 L468.7,524.7 L469.8,524.9 L469.9,525.1 L469.8,526.3 L470.5,528.0 L472.1,529.0 L473.2,529.2 L473.3,529.4 L473.2,530.6 L473.9,532.2 L475.4,533.2 L476.5,533.3 L476.6,533.6 L476.5,534.8 L477.3,536.5 L478.7,537.8 L479.8,538.2 L480.0,538.7 L479.9,540.0 L480.7,541.7 L482.1,542.8 L483.2,543.0 L483.3,543.2 L483.3,544.0 L484.0,545.2 L485.4,545.8 L486.5,545.6 L486.7,545.6 L486.7,546.3 L487.4,547.4 L488.8,548.1 L489.8,548.2 L490.0,548.4 L490.1,549.3 L490.8,550.6 L492.1,551.4 L493.1,551.6 L493.4,551.8 L493.4,552.7 L494.2,553.9 L495.5,554.7 L496.5,554.9 L496.7,555.2 L496.8,556.1 L497.5,557.4 L498.8,558.4 L499.8,558.7 L500.1,559.1 L500.2,560.0 L500.9,561.3 L502.2,562.1 L503.1,562.4 L503.4,562.6 L503.6,563.4 L504.3,564.5 L505.5,565.3 L506.5,565.4 L506.8,565.7 L506.9,566.5 L507.7,567.5 L508.9,568.2 L509.8,568.4 L510.1,568.6 L510.3,569.2 L511.0,570.1 L512.2,570.6 L513.1,570.6 L513.5,570.6 L513.7,571.1 L514.4,572.0 L515.6,572.5 L516.5,572.6 L516.8,572.8 L517.1,573.6 L517.8,574.7 L518.9,575.5 L519.8,575.9 L520.2,576.3 L520.4,577.1 L521.2,578.1 L522.3,578.7 L523.1,578.9 L523.5,579.0 L523.8,579.5 L524.5,580.2 L525.6,580.6 L526.5,580.5"/>
<path d="M110.2,597.8 L111.1,597.6 L112.0,597.2 L112.7,596.6 L113.1,596.3 L113.7,596.2 L114.5,596.0 L115.5,595.6 L116.1,595.1 L116.5,594.8 L117.1,594.7 L118.0,594.6 L118.9,594.2 L119.6,593.7 L120.0,593.4 L120.5,593.4 L121.4,593.2 L122.4,592.8 L123.0,592.2 L123.4,591.9 L124.0,591.9 L124.9,591.8 L125.8,591.4 L126.5,590.9 L126.9,590.6 L127.4,590.6 L128.3,590.5 L129.3,590.1 L129.9,589.5 L130.3,589.1 L130.8,589.0 L131.8,588.9 L132.8,588.4 L133.4,587.8 L133.7,587.4 L134.3,587.3 L135.2,587.1 L136.2,586.6 L136.8,585.9 L137.2,585.5 L137.7,585.4 L138.7,585.3 L139.7,584.7 L140.3,584.0 L140.6,583.5 L141.1,583.4 L142.1,583.2 L143.1,582.6 L143.8,581.8 L144.1,581.2 L144.6,581.1 L145.5,580.8 L146.6,580.1 L147.2,579.2 L147.5,578.6 L148.0,578.4 L149.0,578.1 L150.1,577.3 L150.7,576.3 L150.9,575.6 L151.4,575.4 L152.4,575.0 L153.5,574.1 L154.2,573.0 L154.4,572.3 L154.8,571.9 L155.9,571.5 L157.0,570.6 L157.6,569.4 L157.8,568.6 L158.3,568.2 L159.3,567.7 L160.5,566.7 L161.1,565.4 L161.2,564.5 L161.7,564.1 L162.8,563.5 L164.0,562.4 L164.6,561.0 L164.7,560.0 L165.1,559.6 L166.2,559.1 L167.4,557.9 L168.0,556.5 L168.1,555.4 L168.5,554.9 L169.7,554.3 L170.9,552.9 L171.5,551.1 L171.5,549.8 L171.9,549.0 L173.1,548.2 L174.4,546.5 L175.0,544.5 L175.0,543.0 L175.3,542.3 L176.5,541.4 L177.9,539.8 L178.5,537.8 L178.4,536.3 L178.7,535.5 L180.0,534.7 L181.4,532.9 L182.0,530.7 L181.8,529.1 L182.1,528.3 L183.4,527.3 L184.9,525.4 L185.4,522.9 L185.2,521.2 L185.5,520.2 L186.9,519.1 L188.4,516.9 L188.9,514.2 L188.6,512.3 L188.9,511.3 L190.3,510.2 L191.9,508.0 L192.4,505.4 L192.0,503.7 L192.2,503.0 L193.7,502.2 L195.4,500.2 L195.9,497.6 L195.5,495.8 L195.6,495.0 L197.2,493.9 L198.9,491.4 L199.4,488.2 L198.9,485.9 L199.1,484.7 L200.6,483.2 L202.3,480.4 L202.8,477.1 L202.4,474.7 L202.5,473.4 L204.1,471.9 L205.8,469.1 L206.3,465.8 L205.8,463.3 L206.0,461.9 L207.5,460.2 L209.2,457.3 L209.7,453.8 L209.3,451.2 L209.4,449.7 L211.0,448.0 L212.7,445.1 L213.2,441.6 L212.7,438.9 L212.9,437.3 L214.4,435.4 L216.1,432.3 L216.6,428.6 L216.2,425.8 L216.3,424.2 L217.9,422.3 L219.6,419.3 L220.1,415.8 L219.6,413.3 L219.8,411.9 L221.3,410.3 L223.0,407.6 L223.5,404.2 L223.0,401.7 L223.2,400.1 L224.8,398.3 L226.5,395.1 L227.0,391.3 L226.5,388.4 L226.7,386.6 L228.2,384.5 L229.9,381.2 L230.4,377.3 L229.9,374.4 L230.1,372.5 L231.6,370.5 L233.4,367.3 L233.9,363.5 L233.4,360.7 L233.6,359.0 L235.1,357.0 L236.8,353.9 L237.3,350.2 L236.8,347.4 L237.0,345.6 L238.5,343.7 L240.3,340.4 L240.8,336.5 L240.3,333.3 L240.5,331.2 L242.0,328.8 L243.7,325.2 L244.2,321.1 L243.7,318.0 L243.9,316.0 L245.4,314.0 L247.2,310.9 L247.7,307.4 L247.2,304.8 L247.4,303.4 L248.9,301.8 L250.6,299.0 L251.1,295.7 L250.6,293.2 L250.8,291.8 L252.3,290.1 L254.1,287.2 L254.5,283.9 L254.1,281.5 L254.2,280.3 L255.8,279.0 L257.5,276.4 L258.0,273.3 L257.5,271.1 L257.7,269.9 L259.2,268.5 L261.0,265.9 L261.4,262.6 L261.0,260.3 L261.1,259.0 L262.7,257.6 L264.4,255.0 L264.9,251.8 L264.4,249.6 L264.6,248.6 L266.1,247.4 L267.9,245.1 L268.3,242.1 L267.8,240.0 L268.0,238.9 L269.5,237.7 L271.2,235.2 L271.7,232.3 L271.2,230.3 L271.4,229.6 L272.9,228.8 L274.6,226.9 L275.1,224.7 L274.6,223.6 L274.8,223.7 L276.3,223.6 L278.0,222.5 L278.5,220.7 L278.0,219.8 L278.2,220.0 L279.7,219.8 L281.4,218.3 L281.9,216.2 L281.4,215.0 L281.6,215.0 L283.1,214.7 L284.8,213.3 L285.3,211.3 L284.8,210.4 L285.0,210.6 L286.5,210.7 L288.2,209.7 L288.7,208.2 L288.2,207.8 L288.4,208.5 L289.9,209.0 L291.6,208.4 L292.1,207.2 L291.6,207.0 L291.8,207.9 L293.3,208.5 L295.0,208.0 L295.5,206.8 L295.0,206.5 L295.1,207.3 L296.7,207.9 L298.4,207.4 L298.9,206.3 L298.4,206.2 L298.5,207.2 L300.1,208.1 L301.8,207.9 L302.3,207.2 L301.8,207.5 L301.9,208.9 L303.5,210.2 L305.2,210.3 L305.6,209.8 L305.2,210.2 L305.3,211.7 L306.8,213.0 L308.6,213.0 L309.0,212.4 L308.6,212.7 L308.7,214.0 L310.2,215.1 L312.0,215.1 L312.4,214.5 L312.0,214.8 L312.1,216.4 L313.6,217.9 L315.4,218.3 L315.8,218.3 L315.3,219.3 L315.5,221.6 L317.0,223.7 L318.7,224.5 L319.2,224.9 L318.7,226.1 L318.9,228.3 L320.4,230.2 L322.1,230.7 L322.6,230.8 L322.1,231.7 L322.3,233.7 L323.8,235.6 L325.5,236.2 L326.0,236.3 L325.5,237.4 L325.7,239.5 L327.2,241.5 L328.9,242.2 L329.4,242.3 L328.9,243.1 L329.1,245.0 L330.6,246.6 L332.3,247.0 L332.8,246.9 L332.3,247.8 L332.5,249.9 L334.0,252.0 L335.7,252.9 L336.2,253.4 L335.7,254.8 L335.9,257.4 L337.4,259.7 L339.1,260.8 L339.6,261.4 L339.1,262.9 L339.3,265.5 L340.8,267.8 L342.5,269.0 L343.0,269.6 L342.5,271.3 L342.6,274.1 L344.2,276.7 L345.9,278.2 L346.4,279.0 L345.9,280.7 L346.0,283.5 L347.6,286.0 L349.3,287.1 L349.8,287.6 L349.3,288.9 L349.4,291.3 L351.0,293.5 L352.7,294.4 L353.2,294.8 L352.7,296.1 L352.8,298.7 L354.4,301.1 L356.1,302.3 L356.5,303.0 L356.1,304.6 L356.2,307.3 L357.7,309.8 L359.5,311.0 L359.9,311.7 L359.5,313.3 L359.6,316.1 L361.1,318.6 L362.9,319.9 L363.3,320.7 L362.8,322.4 L363.0,325.3 L364.5,328.0 L366.2,329.5 L366.7,330.4 L366.2,332.2 L366.4,335.0 L367.9,337.6 L369.6,338.8 L370.1,339.5 L369.6,341.0 L369.8,343.6 L371.3,346.0 L373.0,347.2 L373.5,347.8 L373.0,349.3 L373.2,352.0 L374.7,354.4 L376.4,355.7 L376.9,356.4 L376.4,358.0 L376.6,360.8 L378.1,363.3 L379.8,364.6 L380.3,365.3 L379.8,366.9 L380.0,369.6 L381.5,372.1 L383.2,373.3 L383.7,373.9 L383.2,375.4 L383.4,378.0 L384.9,380.4 L386.6,381.5 L387.1,382.1 L386.6,383.6 L386.8,386.2 L388.3,388.6 L390.0,389.7 L390.5,390.3 L390.0,391.8 L390.2,394.3 L391.7,396.7 L393.4,397.8 L393.9,398.4 L393.4,399.8 L393.5,402.3 L395.1,404.6 L396.8,405.7 L397.3,406.1 L396.8,407.5 L396.9,409.9 L398.4,412.0 L400.2,412.9 L400.6,413.3 L400.1,414.6 L400.3,417.0 L401.8,419.2 L403.5,420.2 L404.0,420.8 L403.5,422.3 L403.6,425.0 L405.2,427.4 L406.9,428.6 L407.3,429.3 L406.8,430.7 L407.0,433.3 L408.5,435.5 L410.2,436.3 L410.7,436.5 L410.2,437.5 L410.4,439.4 L411.9,441.2 L413.6,441.7 L414.1,441.6 L413.6,442.5 L413.7,444.6 L415.2,446.6 L416.9,447.5 L417.4,447.9 L416.9,449.3 L417.1,451.8 L418.6,454.2 L420.3,455.3 L420.8,455.8 L420.3,457.2 L420.4,459.6 L421.9,461.6 L423.7,462.4 L424.1,462.4 L423.6,463.3 L423.8,465.3 L425.3,467.0 L427.0,467.5 L427.5,467.4 L427.0,468.3 L427.1,470.3 L428.7,472.2 L430.4,472.8 L430.8,473.0 L430.3,474.1 L430.5,476.3 L432.0,478.3 L433.7,479.0 L434.2,479.2 L433.7,480.3 L433.9,482.4 L435.4,484.2 L437.1,484.8 L437.5,484.8 L437.1,485.7 L437.2,487.7 L438.7,489.4 L440.4,489.9 L440.9,489.8 L440.4,490.7 L440.6,492.6 L442.1,494.4 L443.8,494.9 L444.3,494.9 L443.8,495.7 L443.9,497.7 L445.4,499.4 L447.1,499.9 L447.6,499.9 L447.1,500.8 L447.3,502.6 L448.8,504.3 L450.4,504.8 L450.9,504.8 L450.5,505.7 L450.7,507.6 L452.2,509.2 L453.8,509.8 L454.3,509.8 L453.9,510.7 L454.1,512.5 L455.5,514.0 L457.1,514.5 L457.6,514.4 L457.3,515.0 L457.5,516.5 L458.9,517.8 L460.4,518.0 L460.9,517.9 L460.6,518.4 L460.9,520.0 L462.2,521.4 L463.8,521.8 L464.3,521.9 L464.0,522.8 L464.3,524.5 L465.6,526.0 L467.1,526.6 L467.6,526.8 L467.4,527.6 L467.7,529.2 L469.0,530.6 L470.4,531.0 L470.9,531.1 L470.8,531.8 L471.1,533.4 L472.3,534.7 L473.7,535.2 L474.3,535.3 L474.1,536.1 L474.4,537.5 L475.7,538.8 L477.1,539.2 L477.6,539.2 L477.5,539.8 L477.8,541.1 L479.1,542.3 L480.4,542.6 L480.9,542.6 L480.9,543.2 L481.2,544.5 L482.4,545.6 L483.7,546.1 L484.3,546.2 L484.2,547.0 L484.6,548.4 L485.8,549.7 L487.1,550.3 L487.6,550.6 L487.6,551.3 L488.0,552.6 L489.1,553.8 L490.4,554.1 L490.9,554.0 L491.0,554.4 L491.4,555.4 L492.5,556.2 L493.7,556.3 L494.3,556.2 L494.3,556.5 L494.7,557.5 L495.9,558.5 L497.1,558.9 L497.6,558.9 L497.7,559.4 L498.1,560.4 L499.2,561.3 L500.4,561.6 L501.0,561.6 L501.1,562.0 L501.5,563.0 L502.6,564.0 L503.7,564.3 L504.3,564.4 L504.4,564.9 L504.9,566.0 L505.9,566.9 L507.1,567.2 L507.7,567.4 L507.8,567.9 L508.3,568.8 L509.3,569.7 L510.4,570.0 L511.0,570.2 L511.2,570.8 L511.6,571.8 L512.7,572.8 L513.7,573.2 L514.3,573.4 L514.5,573.9 L515.0,574.9 L516.0,575.7 L517.1,575.9 L517.7,575.9 L517.9,576.2 L518.4,577.0 L519.4,577.6 L520.4,577.7 L521.0,577.7 L521.3,578.0 L521.8,578.7 L522.7,579.4 L523.8,579.6 L524.4,579.6 L524.6,580.0 L525.1,580.7 L526.1,581.3"/>
<path d="M110.4,598.0 L111.3,597.6 L111.9,597.1 L112.4,596.8 L113.0,596.7 L113.9,596.6 L114.8,596.2 L115.4,595.7 L115.8,595.5 L116.4,595.5 L117.3,595.4 L118.2,595.1 L118.9,594.6 L119.3,594.4 L119.9,594.4 L120.8,594.4 L121.7,594.0 L122.3,593.6 L122.7,593.3 L123.3,593.4 L124.2,593.3 L125.1,593.0 L125.8,592.5 L126.1,592.3 L126.7,592.3 L127.7,592.3 L128.6,591.9 L129.2,591.4 L129.6,591.2 L130.2,591.2 L131.1,591.2 L132.1,590.9 L132.7,590.4 L133.0,590.2 L133.6,590.2 L134.6,590.2 L135.5,589.8 L136.1,589.2 L136.5,588.9 L137.0,588.9 L138.0,588.8 L139.0,588.3 L139.6,587.7 L139.9,587.4 L140.5,587.3 L141.5,587.2 L142.4,586.7 L143.0,586.1 L143.4,585.7 L143.9,585.7 L144.9,585.6 L145.9,585.0 L146.5,584.4 L146.8,584.0 L147.4,584.0 L148.3,583.8 L149.4,583.2 L149.9,582.5 L150.2,582.0 L150.8,581.9 L151.8,581.7 L152.8,581.0 L153.4,580.2 L153.7,579.7 L154.2,579.6 L155.2,579.3 L156.3,578.6 L156.9,577.7 L157.1,577.2 L157.6,577.0 L158.7,576.8 L159.7,576.0 L160.3,575.1 L160.5,574.6 L161.1,574.4 L162.1,574.1 L163.2,573.3 L163.8,572.2 L164.0,571.4 L164.5,571.0 L165.6,570.5 L166.7,569.3 L167.2,568.0 L167.4,567.0 L167.9,566.6 L169.0,566.0 L170.2,564.9 L170.7,563.6 L170.8,562.8 L171.3,562.5 L172.5,562.0 L173.6,561.0 L174.2,559.7 L174.3,558.8 L174.8,558.5 L175.9,557.9 L177.1,556.7 L177.6,555.2 L177.7,554.2 L178.2,553.9 L179.4,553.3 L180.6,552.1 L181.1,550.5 L181.1,549.6 L181.6,549.1 L182.8,548.5 L184.1,547.0 L184.6,545.3 L184.5,544.0 L185.0,543.5 L186.3,542.6 L187.6,541.0 L188.1,539.0 L188.0,537.7 L188.4,537.1 L189.7,536.2 L191.1,534.5 L191.5,532.3 L191.4,530.8 L191.8,529.9 L193.1,528.8 L194.6,526.6 L195.0,524.1 L194.8,522.3 L195.2,521.4 L196.6,520.2 L198.1,518.1 L198.5,515.7 L198.2,514.2 L198.6,513.7 L200.0,513.0 L201.6,511.2 L202.0,509.0 L201.6,507.6 L201.9,507.1 L203.5,506.2 L205.1,504.0 L205.5,501.2 L205.0,499.3 L205.3,498.4 L206.9,497.1 L208.6,494.5 L209.0,491.4 L208.5,489.4 L208.8,488.3 L210.4,487.0 L212.0,484.4 L212.4,481.4 L211.9,479.4 L212.2,478.4 L213.8,477.0 L215.5,474.4 L215.9,471.3 L215.4,469.2 L215.7,468.1 L217.3,466.7 L218.9,463.9 L219.3,460.8 L218.8,458.7 L219.1,457.7 L220.7,456.3 L222.4,453.7 L222.7,450.6 L222.3,448.5 L222.6,447.4 L224.2,445.9 L225.8,443.1 L226.2,439.9 L225.7,437.7 L226.0,436.6 L227.6,435.1 L229.3,432.4 L229.6,429.3 L229.2,427.1 L229.4,426.0 L231.1,424.4 L232.7,421.6 L233.1,418.2 L232.6,415.7 L232.9,414.2 L234.5,412.2 L236.2,409.0 L236.5,405.4 L236.1,402.8 L236.3,401.2 L238.0,399.3 L239.6,396.3 L240.0,392.9 L239.5,390.4 L239.8,389.0 L241.4,387.3 L243.1,384.3 L243.4,380.8 L242.9,378.4 L243.2,377.0 L244.9,375.3 L246.5,372.3 L246.9,368.9 L246.4,366.4 L246.7,365.0 L248.3,363.2 L250.0,360.1 L250.3,356.6 L249.8,354.1 L250.1,352.7 L251.8,350.9 L253.4,348.0 L253.8,344.7 L253.3,342.5 L253.6,341.3 L255.2,339.8 L256.9,337.1 L257.2,333.9 L256.7,331.8 L257.0,330.7 L258.6,329.2 L260.3,326.5 L260.7,323.4 L260.2,321.4 L260.5,320.5 L262.1,319.2 L263.8,316.8 L264.1,314.0 L263.6,312.1 L263.9,311.3 L265.5,310.1 L267.2,307.7 L267.6,304.8 L267.1,302.8 L267.3,301.9 L269.0,300.6 L270.6,298.0 L271.0,295.1 L270.5,293.2 L270.7,292.4 L272.3,291.3 L274.0,289.0 L274.4,286.4 L273.9,284.9 L274.1,284.5 L275.7,283.7 L277.4,281.7 L277.7,279.4 L277.2,278.1 L277.5,277.8 L279.1,277.2 L280.8,275.3 L281.1,273.1 L280.6,271.9 L280.9,271.8 L282.5,271.5 L284.2,269.9 L284.5,267.9 L284.0,266.9 L284.3,267.1 L285.9,266.8 L287.6,265.4 L287.9,263.5 L287.4,262.7 L287.7,263.0 L289.3,263.0 L291.0,261.7 L291.3,260.1 L290.8,259.5 L291.1,260.0 L292.7,260.2 L294.4,259.1 L294.7,257.7 L294.2,257.3 L294.5,258.0 L296.1,258.4 L297.8,257.6 L298.1,256.4 L297.6,256.3 L297.9,257.2 L299.5,257.8 L301.1,257.1 L301.5,256.1 L301.0,255.9 L301.3,256.8 L302.9,257.3 L304.5,256.5 L304.9,255.4 L304.4,255.3 L304.7,256.2 L306.3,257.0 L307.9,256.5 L308.3,255.8 L307.8,256.2 L308.1,257.8 L309.7,259.2 L311.3,259.4 L311.7,259.1 L311.2,259.9 L311.5,261.7 L313.1,263.0 L314.7,263.0 L315.1,262.4 L314.6,262.9 L314.9,264.3 L316.5,265.4 L318.1,265.3 L318.5,264.8 L318.0,265.3 L318.2,266.9 L319.8,268.2 L321.5,268.3 L321.9,268.0 L321.4,268.6 L321.6,270.3 L323.2,271.6 L324.9,271.6 L325.2,271.3 L324.8,272.0 L325.0,273.7 L326.6,275.2 L328.3,275.5 L328.6,275.5 L328.1,276.5 L328.4,278.8 L330.0,280.7 L331.7,281.5 L332.0,281.9 L331.5,283.2 L331.8,285.5 L333.4,287.5 L335.1,288.1 L335.4,288.1 L334.9,289.1 L335.2,291.1 L336.8,292.7 L338.5,293.0 L338.8,293.0 L338.3,293.9 L338.6,295.9 L340.2,297.7 L341.9,298.3 L342.2,298.6 L341.7,300.0 L342.0,302.5 L343.6,304.8 L345.3,305.9 L345.6,306.6 L345.1,308.2 L345.4,310.8 L347.0,313.0 L348.6,313.9 L349.0,314.2 L348.5,315.4 L348.8,317.6 L350.4,319.4 L352.0,319.9 L352.4,320.0 L351.9,321.1 L352.2,323.3 L353.8,325.2 L355.4,326.0 L355.8,326.4 L355.3,327.7 L355.6,330.0 L357.2,331.9 L358.8,332.5 L359.2,332.7 L358.7,333.9 L359.0,336.2 L360.6,338.2 L362.2,339.0 L362.6,339.5 L362.1,341.0 L362.4,343.5 L364.0,345.7 L365.6,346.6 L366.0,347.1 L365.5,348.6 L365.7,351.1 L367.4,353.3 L369.0,354.3 L369.4,354.8 L368.9,356.4 L369.1,359.0 L370.7,361.3 L372.4,362.3 L372.7,363.0 L372.3,364.6 L372.5,367.2 L374.1,369.5 L375.8,370.4 L376.1,371.0 L375.6,372.5 L375.9,375.0 L377.5,377.2 L379.2,378.2 L379.5,378.7 L379.0,380.2 L379.3,382.8 L380.9,385.0 L382.6,385.9 L382.9,386.4 L382.4,388.0 L382.7,390.6 L384.3,393.0 L386.0,394.1 L386.3,394.8 L385.8,396.4 L386.1,399.1 L387.7,401.3 L389.4,402.3 L389.7,402.6 L389.2,403.8 L389.5,405.8 L391.1,407.3 L392.8,407.6 L393.1,407.4 L392.6,408.3 L392.9,410.3 L394.5,412.0 L396.1,412.7 L396.5,413.2 L396.0,414.7 L396.3,417.2 L397.9,419.5 L399.5,420.5 L399.9,421.1 L399.4,422.7 L399.6,425.3 L401.2,427.4 L402.9,428.3 L403.2,428.6 L402.7,429.9 L403.0,432.1 L404.6,434.0 L406.2,434.7 L406.6,434.9 L406.1,436.1 L406.4,438.3 L408.0,440.2 L409.6,440.9 L409.9,441.3 L409.4,442.7 L409.7,445.2 L411.3,447.4 L413.0,448.4 L413.3,449.0 L412.8,450.5 L413.1,453.0 L414.7,455.0 L416.3,455.7 L416.7,455.9 L416.2,457.0 L416.4,459.2 L418.0,460.9 L419.7,461.4 L420.0,461.5 L419.5,462.5 L419.8,464.6 L421.4,466.4 L423.0,466.9 L423.4,467.1 L422.9,468.3 L423.1,470.6 L424.7,472.6 L426.4,473.4 L426.7,473.7 L426.2,475.0 L426.5,477.3 L428.1,479.2 L429.7,479.7 L430.1,479.8 L429.6,480.6 L429.9,482.4 L431.4,483.8 L433.1,483.9 L433.4,483.6 L432.9,484.2 L433.2,486.0 L434.8,487.5 L436.5,487.8 L436.8,487.8 L436.3,488.8 L436.6,490.8 L438.2,492.4 L439.8,492.8 L440.2,492.7 L439.6,493.7 L439.9,495.6 L441.5,497.2 L443.2,497.6 L443.5,497.6 L443.0,498.7 L443.3,500.9 L444.9,502.8 L446.5,503.5 L446.8,503.8 L446.4,505.1 L446.7,507.2 L448.2,508.9 L449.8,509.3 L450.2,509.2 L449.8,510.0 L450.1,511.6 L451.6,512.9 L453.1,513.0 L453.5,512.7 L453.1,513.4 L453.5,514.9 L455.0,516.2 L456.4,516.5 L456.8,516.4 L456.5,517.2 L456.9,518.8 L458.3,520.1 L459.8,520.4 L460.2,520.3 L459.9,521.0 L460.3,522.5 L461.7,523.8 L463.1,524.1 L463.5,524.2 L463.3,525.1 L463.6,526.8 L465.0,528.3 L466.4,528.9 L466.9,529.2 L466.6,530.1 L467.0,531.8 L468.4,533.2 L469.8,533.6 L470.2,533.6 L470.0,534.3 L470.4,535.8 L471.7,537.0 L473.1,537.3 L473.5,537.3 L473.4,538.0 L473.8,539.4 L475.1,540.5 L476.4,540.9 L476.9,540.9 L476.8,541.5 L477.2,542.8 L478.5,543.9 L479.7,544.1 L480.2,544.1 L480.1,544.7 L480.6,545.9 L481.8,546.9 L483.1,547.2 L483.5,547.3 L483.5,547.9 L483.9,549.1 L485.2,550.1 L486.4,550.4 L486.9,550.4 L486.9,551.0 L487.3,552.2 L488.5,553.2 L489.7,553.5 L490.2,553.6 L490.2,554.2 L490.7,555.4 L491.9,556.5 L493.1,556.8 L493.6,557.0 L493.6,557.6 L494.1,558.8 L495.2,559.8 L496.4,560.1 L496.9,560.2 L497.0,560.7 L497.5,561.7 L498.6,562.5 L499.7,562.7 L500.3,562.7 L500.4,563.1 L500.8,564.1 L502.0,564.9 L503.1,565.2 L503.6,565.2 L503.7,565.8 L504.2,566.8 L505.3,567.6 L506.4,567.9 L506.9,567.9 L507.1,568.4 L507.6,569.4 L508.7,570.2 L509.8,570.5 L510.3,570.5 L510.5,571.0 L511.0,571.9 L512.0,572.7 L513.1,572.9 L513.6,572.9 L513.8,573.4 L514.3,574.2 L515.4,574.9 L516.4,575.2 L517.0,575.2 L517.2,575.7 L517.7,576.5 L518.7,577.2 L519.8,577.4 L520.3,577.4 L520.6,577.8 L521.1,578.6 L522.1,579.2 L523.1,579.4 L523.7,579.5 L523.9,579.8 L524.5,580.5 L525.5,581.1 L526.5,581.2"/>
<path d="M110.3,598.0 L111.2,597.8 L112.0,597.3 L112.5,596.9 L113.0,596.7 L113.7,596.7 L114.7,596.5 L115.5,596.1 L116.0,595.7 L116.4,595.6 L117.2,595.7 L118.1,595.5 L118.9,595.1 L119.4,594.8 L119.9,594.7 L120.6,594.8 L121.6,594.7 L122.4,594.3 L122.9,593.9 L123.3,593.9 L124.1,594.0 L125.0,593.9 L125.8,593.5 L126.3,593.2 L126.8,593.1 L127.5,593.2 L128.5,593.1 L129.3,592.7 L129.8,592.4 L130.2,592.4 L130.9,592.5 L131.9,592.4 L132.8,592.0 L133.2,591.6 L133.6,591.6 L134.4,591.7 L135.4,591.6 L136.2,591.2 L136.7,590.8 L137.1,590.7 L137.8,590.8 L138.8,590.6 L139.7,590.1 L140.1,589.7 L140.5,589.6 L141.3,589.6 L142.3,589.4 L143.1,589.0 L143.6,588.5 L144.0,588.5 L144.7,588.6 L145.7,588.4 L146.6,587.9 L147.0,587.5 L147.4,587.4 L148.2,587.5 L149.2,587.3 L150.0,586.7 L150.5,586.2 L150.8,586.1 L151.6,586.2 L152.6,585.9 L153.5,585.3 L153.9,584.8 L154.3,584.7 L155.0,584.7 L156.1,584.4 L156.9,583.7 L157.4,583.1 L157.7,582.9 L158.5,582.8 L159.6,582.5 L160.4,581.7 L160.8,581.0 L161.1,580.8 L161.9,580.7 L163.0,580.3 L163.9,579.5 L164.3,578.8 L164.6,578.5 L165.3,578.4 L166.5,577.9 L167.3,577.0 L167.7,576.2 L168.0,575.9 L168.8,575.7 L169.9,575.2 L170.8,574.3 L171.2,573.4 L171.4,572.9 L172.2,572.6 L173.4,572.0 L174.3,570.9 L174.6,569.8 L174.9,569.3 L175.6,569.0 L176.8,568.3 L177.8,567.2 L178.1,566.2 L178.3,565.7 L179.1,565.4 L180.3,564.7 L181.2,563.5 L181.5,562.3 L181.7,561.8 L182.5,561.5 L183.8,560.7 L184.7,559.4 L185.0,558.1 L185.1,557.5 L185.9,557.2 L187.2,556.3 L188.2,554.9 L188.4,553.6 L188.5,552.9 L189.3,552.5 L190.7,551.6 L191.7,550.0 L191.9,548.4 L191.9,547.6 L192.8,547.0 L194.2,545.8 L195.2,544.0 L195.3,542.3 L195.3,541.3 L196.2,540.7 L197.6,539.6 L198.7,537.8 L198.8,536.1 L198.7,535.4 L199.6,535.0 L201.1,534.0 L202.2,532.3 L202.2,530.6 L202.2,529.9 L203.0,529.4 L204.6,528.2 L205.7,526.1 L205.7,524.0 L205.6,522.9 L206.4,522.2 L208.1,520.6 L209.2,518.2 L209.1,515.9 L208.9,514.7 L209.8,514.0 L211.5,512.5 L212.7,510.1 L212.6,507.9 L212.3,506.9 L213.2,506.3 L215.0,504.9 L216.2,502.5 L216.0,500.2 L215.7,499.2 L216.6,498.5 L218.5,497.0 L219.7,494.3 L219.5,491.9 L219.2,490.7 L220.1,490.0 L221.9,488.4 L223.1,485.7 L222.9,483.2 L222.6,481.9 L223.5,481.2 L225.4,479.5 L226.6,476.6 L226.4,474.1 L226.0,472.7 L227.0,471.9 L228.8,470.1 L230.0,467.3 L229.8,464.7 L229.5,463.3 L230.4,462.4 L232.3,460.6 L233.5,457.6 L233.3,454.8 L232.9,453.2 L233.9,452.0 L235.7,449.8 L236.9,446.6 L236.7,443.6 L236.4,441.9 L237.3,440.8 L239.2,438.8 L240.4,435.8 L240.2,433.2 L239.8,431.9 L240.8,431.2 L242.6,429.5 L243.8,426.8 L243.6,424.4 L243.3,423.1 L244.2,422.2 L246.1,420.4 L247.2,417.4 L247.1,414.7 L246.7,413.2 L247.7,412.4 L249.5,410.6 L250.7,407.7 L250.5,405.1 L250.2,403.7 L251.1,402.8 L253.0,400.9 L254.1,397.9 L254.0,395.0 L253.6,393.4 L254.6,392.3 L256.4,390.2 L257.6,387.0 L257.4,384.2 L257.1,382.6 L258.0,381.5 L259.9,379.6 L261.0,376.7 L260.9,373.9 L260.5,372.3 L261.5,371.2 L263.3,369.2 L264.5,366.0 L264.3,363.2 L264.0,361.7 L264.9,360.7 L266.8,358.9 L267.9,356.2 L267.7,354.0 L267.4,353.0 L268.3,352.7 L270.2,351.6 L271.3,349.4 L271.1,347.4 L270.8,346.6 L271.7,346.3 L273.6,344.9 L274.7,342.3 L274.5,339.9 L274.2,338.7 L275.1,338.0 L276.9,336.4 L278.1,333.7 L277.9,331.3 L277.6,330.2 L278.5,329.7 L280.3,328.4 L281.5,326.1 L281.3,324.0 L281.0,323.1 L281.9,322.6 L283.7,321.3 L284.9,318.9 L284.7,316.7 L284.4,316.0 L285.3,315.8 L287.1,314.8 L288.3,312.8 L288.1,311.1 L287.8,310.7 L288.7,310.8 L290.5,310.1 L291.7,308.3 L291.5,306.8 L291.1,306.6 L292.1,306.9 L293.9,306.3 L295.1,304.7 L294.9,303.4 L294.5,303.4 L295.5,304.0 L297.3,303.7 L298.5,302.3 L298.3,301.3 L297.9,301.5 L298.9,302.2 L300.7,302.0 L301.9,300.7 L301.7,299.5 L301.3,299.5 L302.2,300.0 L304.1,299.5 L305.3,298.1 L305.1,296.9 L304.7,297.0 L305.6,297.8 L307.5,297.8 L308.6,296.9 L308.5,296.5 L308.1,297.5 L309.0,299.1 L310.9,299.8 L312.0,299.5 L311.8,299.4 L311.5,300.6 L312.4,302.1 L314.3,302.5 L315.4,301.8 L315.2,301.4 L314.9,302.2 L315.8,303.6 L317.7,304.1 L318.8,303.5 L318.6,303.3 L318.3,304.2 L319.2,305.7 L321.1,306.2 L322.2,305.8 L322.0,305.7 L321.7,307.0 L322.6,308.9 L324.5,309.9 L325.6,309.8 L325.4,310.0 L325.1,311.4 L326.0,313.3 L327.8,314.1 L329.0,313.7 L328.8,313.5 L328.5,314.3 L329.4,315.6 L331.2,316.0 L332.4,315.3 L332.2,314.9 L331.9,315.8 L332.8,317.4 L334.6,318.2 L335.8,318.1 L335.6,318.1 L335.3,319.4 L336.2,321.2 L338.0,322.1 L339.2,321.9 L339.0,322.0 L338.7,323.4 L339.6,325.3 L341.4,326.4 L342.6,326.4 L342.4,326.8 L342.0,328.5 L343.0,330.8 L344.8,332.2 L346.0,332.6 L345.8,333.2 L345.4,335.0 L346.4,337.2 L348.2,338.5 L349.4,338.6 L349.2,339.0 L348.8,340.6 L349.7,342.8 L351.6,344.0 L352.8,344.1 L352.6,344.6 L352.2,346.2 L353.1,348.4 L355.0,349.7 L356.1,349.9 L356.0,350.3 L355.6,352.0 L356.5,354.1 L358.4,355.3 L359.5,355.4 L359.3,355.8 L359.0,357.4 L359.9,359.7 L361.8,361.0 L362.9,361.3 L362.7,361.8 L362.4,363.6 L363.3,366.0 L365.2,367.4 L366.3,367.7 L366.1,368.3 L365.8,370.1 L366.7,372.4 L368.6,373.8 L369.7,374.2 L369.5,374.9 L369.2,376.8 L370.1,379.3 L372.0,380.9 L373.1,381.4 L372.9,382.2 L372.6,384.1 L373.5,386.6 L375.3,388.0 L376.5,388.4 L376.3,389.0 L376.0,390.9 L376.9,393.3 L378.7,394.8 L379.9,395.2 L379.7,395.8 L379.4,397.7 L380.3,400.1 L382.1,401.5 L383.3,401.8 L383.1,402.4 L382.8,404.2 L383.7,406.5 L385.5,407.9 L386.7,408.2 L386.5,408.8 L386.2,410.6 L387.1,412.9 L388.9,414.3 L390.1,414.7 L389.9,415.4 L389.5,417.5 L390.5,420.2 L392.3,421.9 L393.5,422.6 L393.3,423.5 L392.9,425.5 L393.9,428.0 L395.7,429.5 L396.9,429.7 L396.7,430.1 L396.3,431.7 L397.2,433.6 L399.1,434.7 L400.2,434.6 L400.0,434.8 L399.7,436.3 L400.6,438.4 L402.4,439.7 L403.6,439.9 L403.4,440.3 L403.0,441.8 L404.0,443.8 L405.8,444.9 L407.0,444.9 L406.8,445.2 L406.4,446.7 L407.3,448.8 L409.2,450.0 L410.3,450.2 L410.1,450.7 L409.8,452.3 L410.7,454.5 L412.5,455.8 L413.7,455.9 L413.5,456.4 L413.1,458.0 L414.0,460.2 L415.9,461.4 L417.0,461.6 L416.8,462.3 L416.5,464.3 L417.4,466.8 L419.2,468.5 L420.4,469.1 L420.2,470.0 L419.8,471.9 L420.7,474.3 L422.6,475.6 L423.7,475.7 L423.5,475.9 L423.2,477.2 L424.1,479.1 L425.9,479.9 L427.1,479.7 L426.9,479.8 L426.5,481.2 L427.5,483.1 L429.3,484.1 L430.4,484.2 L430.2,484.4 L429.9,486.0 L430.8,488.0 L432.7,489.1 L433.8,489.1 L433.6,489.4 L433.3,490.9 L434.2,492.9 L436.0,494.0 L437.2,494.0 L437.0,494.2 L436.6,495.7 L437.5,497.7 L439.4,498.8 L440.5,498.8 L440.3,499.1 L440.0,500.6 L440.9,502.5 L442.7,503.5 L443.8,503.5 L443.7,503.6 L443.4,504.8 L444.3,506.5 L446.0,507.3 L447.1,507.1 L447.0,507.1 L446.8,508.3 L447.7,510.0 L449.4,510.9 L450.5,510.9 L450.4,511.2 L450.2,512.6 L451.0,514.5 L452.7,515.6 L453.8,515.8 L453.7,516.2 L453.5,517.6 L454.4,519.3 L456.1,520.3 L457.1,520.2 L457.1,520.4 L456.9,521.6 L457.8,523.1 L459.4,523.9 L460.5,523.8 L460.4,523.9 L460.3,525.1 L461.2,526.6 L462.7,527.4 L463.8,527.4 L463.8,527.6 L463.7,528.8 L464.5,530.3 L466.1,531.1 L467.1,531.1 L467.1,531.4 L467.1,532.5 L467.9,533.9 L469.4,534.7 L470.4,534.8 L470.5,535.0 L470.5,536.2 L471.3,537.7 L472.8,538.6 L473.8,538.7 L473.8,539.0 L473.8,540.1 L474.7,541.6 L476.1,542.3 L477.1,542.4 L477.2,542.5 L477.2,543.5 L478.0,544.7 L479.5,545.3 L480.4,545.3 L480.6,545.4 L480.6,546.3 L481.4,547.5 L482.8,548.2 L483.8,548.3 L483.9,548.5 L484.0,549.5 L484.8,550.7 L486.1,551.5 L487.1,551.5 L487.3,551.8 L487.4,552.7 L488.2,553.9 L489.5,554.6 L490.4,554.7 L490.6,554.9 L490.7,555.7 L491.5,556.9 L492.8,557.5 L493.8,557.5 L494.0,557.7 L494.1,558.5 L494.9,559.6 L496.2,560.2 L497.1,560.3 L497.3,560.6 L497.5,561.5 L498.3,562.6 L499.5,563.3 L500.4,563.5 L500.7,563.8 L500.9,564.6 L501.7,565.7 L502.9,566.3 L503.8,566.4 L504.0,566.6 L504.2,567.3 L505.0,568.2 L506.2,568.7 L507.1,568.7 L507.4,568.9 L507.6,569.5 L508.4,570.5 L509.6,571.0 L510.4,571.1 L510.7,571.3 L511.0,572.0 L511.8,573.0 L512.9,573.5 L513.8,573.7 L514.1,573.9 L514.4,574.6 L515.1,575.5 L516.3,576.0 L517.1,576.0 L517.5,576.2 L517.7,576.8 L518.5,577.7 L519.6,578.1 L520.5,578.2 L520.8,578.3 L521.1,578.9 L521.9,579.7 L523.0,580.1 L523.8,580.1 L524.2,580.3 L524.5,580.8 L525.2,581.5 L526.3,581.9"/>
<path d="M110.5,598.1 L111.3,597.6 L111.8,597.2 L112.3,597.1 L113.0,597.1 L114.0,596.9 L114.8,596.5 L115.3,596.1 L115.7,596.1 L116.5,596.1 L117.4,596.0 L118.2,595.6 L118.7,595.3 L119.2,595.3 L119.9,595.4 L120.9,595.2 L121.7,594.9 L122.2,594.6 L122.6,594.6 L123.4,594.7 L124.4,594.6 L125.1,594.3 L125.6,594.0 L126.1,594.0 L126.8,594.1 L127.8,594.1 L128.6,593.7 L129.1,593.4 L129.5,593.5 L130.3,593.6 L131.3,593.5 L132.1,593.2 L132.5,592.9 L133.0,593.0 L133.7,593.2 L134.7,593.1 L135.5,592.7 L136.0,592.5 L136.4,592.5 L137.2,592.6 L138.1,592.5 L139.0,592.1 L139.4,591.7 L139.8,591.7 L140.6,591.8 L141.6,591.6 L142.4,591.2 L142.9,590.9 L143.3,590.9 L144.0,591.0 L145.1,590.9 L145.9,590.5 L146.3,590.2 L146.7,590.2 L147.5,590.3 L148.5,590.2 L149.3,589.7 L149.8,589.4 L150.2,589.4 L150.9,589.5 L152.0,589.4 L152.8,589.0 L153.2,588.6 L153.6,588.7 L154.4,588.8 L155.4,588.7 L156.2,588.2 L156.7,587.8 L157.0,587.7 L157.8,587.8 L158.9,587.6 L159.7,587.0 L160.1,586.6 L160.5,586.5 L161.3,586.6 L162.3,586.3 L163.1,585.8 L163.5,585.3 L163.9,585.1 L164.7,585.2 L165.8,584.9 L166.6,584.3 L167.0,583.7 L167.4,583.6 L168.1,583.6 L169.2,583.3 L170.1,582.6 L170.4,582.0 L170.8,581.8 L171.6,581.6 L172.7,581.2 L173.5,580.3 L173.9,579.5 L174.2,579.2 L175.0,579.0 L176.1,578.6 L177.0,577.7 L177.3,577.0 L177.7,576.8 L178.5,576.7 L179.6,576.3 L180.4,575.5 L180.8,574.8 L181.1,574.6 L181.9,574.5 L183.0,574.0 L183.9,573.1 L184.2,572.2 L184.5,571.9 L185.3,571.7 L186.5,571.1 L187.4,570.0 L187.7,569.1 L187.9,568.7 L188.8,568.5 L190.0,567.8 L190.9,566.7 L191.1,565.7 L191.4,565.2 L192.2,565.0 L193.4,564.3 L194.3,563.1 L194.6,562.0 L194.8,561.5 L195.6,561.3 L196.9,560.5 L197.8,559.2 L198.0,558.0 L198.2,557.5 L199.0,557.2 L200.4,556.3 L201.3,554.9 L201.5,553.6 L201.6,553.0 L202.5,552.6 L203.8,551.7 L204.8,550.2 L204.9,548.8 L205.0,548.2 L205.9,547.9 L207.3,547.0 L208.3,545.4 L208.4,544.0 L208.4,543.4 L209.3,543.0 L210.8,542.0 L211.7,540.3 L211.8,538.7 L211.8,537.9 L212.7,537.4 L214.2,536.2 L215.2,534.3 L215.3,532.5 L215.3,531.6 L216.1,531.1 L217.7,529.8 L218.7,527.8 L218.7,526.0 L218.7,525.2 L219.6,524.9 L221.2,523.7 L222.2,521.8 L222.2,520.0 L222.1,519.3 L223.0,518.9 L224.7,517.7 L225.7,515.5 L225.6,513.5 L225.5,512.5 L226.4,511.9 L228.1,510.4 L229.2,507.9 L229.1,505.7 L228.8,504.6 L229.8,504.0 L231.6,502.5 L232.7,500.0 L232.5,497.8 L232.2,496.8 L233.2,496.2 L235.1,494.7 L236.2,492.1 L236.0,489.8 L235.7,488.7 L236.7,488.1 L238.5,486.6 L239.7,484.0 L239.4,481.7 L239.1,480.6 L240.1,480.0 L242.0,478.4 L243.1,475.7 L242.9,473.4 L242.6,472.2 L243.6,471.6 L245.4,470.0 L246.5,467.3 L246.3,464.9 L246.0,463.8 L247.0,463.2 L248.9,461.7 L250.0,459.1 L249.8,456.8 L249.5,455.8 L250.5,455.2 L252.3,453.6 L253.4,450.9 L253.2,448.5 L252.9,447.4 L253.9,446.8 L255.8,445.3 L256.9,442.7 L256.7,440.4 L256.4,439.3 L257.3,438.7 L259.2,437.2 L260.3,434.5 L260.1,432.1 L259.8,431.0 L260.8,430.2 L262.7,428.5 L263.8,425.7 L263.6,423.2 L263.3,421.9 L264.2,421.2 L266.1,419.5 L267.2,416.9 L267.0,414.6 L266.7,413.6 L267.7,413.1 L269.5,411.6 L270.6,409.2 L270.4,407.0 L270.1,406.1 L271.1,405.7 L272.9,404.3 L274.0,401.8 L273.8,399.6 L273.5,398.5 L274.5,397.9 L276.3,396.2 L277.4,393.4 L277.2,391.0 L276.9,389.8 L277.8,389.2 L279.7,387.7 L280.8,385.3 L280.6,383.3 L280.3,382.6 L281.2,382.4 L283.1,381.4 L284.2,379.3 L284.0,377.5 L283.7,376.9 L284.6,376.9 L286.5,375.9 L287.6,373.8 L287.4,372.0 L287.1,371.5 L288.0,371.6 L289.9,370.8 L291.0,368.9 L290.8,367.4 L290.5,367.1 L291.4,367.3 L293.3,366.5 L294.4,364.7 L294.2,363.2 L293.8,362.9 L294.8,363.2 L296.7,362.5 L297.8,360.8 L297.6,359.5 L297.2,359.4 L298.2,359.8 L300.1,359.3 L301.2,357.7 L301.0,356.4 L300.6,356.5 L301.6,357.0 L303.4,356.6 L304.6,355.2 L304.3,354.1 L304.0,354.3 L305.0,355.0 L306.8,354.7 L308.0,353.4 L307.7,352.4 L307.4,352.8 L308.4,353.6 L310.2,353.5 L311.4,352.4 L311.1,351.6 L310.8,352.0 L311.8,353.0 L313.6,353.0 L314.7,352.0 L314.5,351.3 L314.2,351.8 L315.2,352.8 L317.0,352.8 L318.1,351.8 L317.9,351.1 L317.6,351.7 L318.6,352.7 L320.4,352.9 L321.5,352.0 L321.3,351.5 L321.0,352.2 L322.0,353.3 L323.8,353.5 L324.9,352.6 L324.7,352.1 L324.4,352.8 L325.3,354.0 L327.2,354.3 L328.3,353.7 L328.1,353.3 L327.8,354.2 L328.7,355.6 L330.6,356.0 L331.7,355.3 L331.5,355.0 L331.2,356.0 L332.1,357.4 L334.0,357.9 L335.1,357.4 L334.9,357.2 L334.6,358.3 L335.5,359.8 L337.4,360.4 L338.5,360.0 L338.3,359.8 L338.0,361.0 L338.9,362.6 L340.8,363.2 L341.9,362.9 L341.7,362.8 L341.3,363.9 L342.3,365.4 L344.2,365.9 L345.3,365.3 L345.1,365.0 L344.7,366.1 L345.7,367.6 L347.6,368.3 L348.7,368.0 L348.5,368.1 L348.1,369.6 L349.1,371.8 L351.0,373.1 L352.1,373.4 L351.8,374.0 L351.5,375.8 L352.5,378.0 L354.3,379.2 L355.5,379.1 L355.2,379.3 L354.9,380.6 L355.9,382.5 L357.7,383.3 L358.9,383.1 L358.6,383.2 L358.3,384.5 L359.3,386.4 L361.1,387.3 L362.2,387.2 L362.0,387.4 L361.7,388.7 L362.7,390.3 L364.5,390.9 L365.6,390.5 L365.4,390.3 L365.1,391.4 L366.1,393.1 L367.9,393.9 L369.0,393.8 L368.8,394.2 L368.5,396.1 L369.5,398.7 L371.3,400.4 L372.4,401.2 L372.2,402.3 L371.9,404.5 L372.8,407.1 L374.7,408.6 L375.8,408.9 L375.6,409.2 L375.3,410.7 L376.2,412.6 L378.1,413.5 L379.2,413.3 L379.0,413.5 L378.7,414.9 L379.6,416.8 L381.5,417.8 L382.6,417.8 L382.4,418.2 L382.1,419.7 L383.0,421.8 L384.9,422.8 L386.0,422.8 L385.8,423.0 L385.5,424.5 L386.4,426.6 L388.3,427.6 L389.4,427.7 L389.2,428.1 L388.9,429.7 L389.8,431.8 L391.7,432.9 L392.8,433.0 L392.6,433.3 L392.2,435.0 L393.2,437.0 L395.1,438.2 L396.2,438.2 L396.0,438.6 L395.6,440.2 L396.6,442.2 L398.4,443.3 L399.6,443.4 L399.3,443.7 L399.0,445.2 L400.0,447.3 L401.8,448.4 L402.9,448.4 L402.7,448.8 L402.4,450.4 L403.3,452.5 L405.2,453.7 L406.3,453.8 L406.0,454.3 L405.7,455.9 L406.7,458.0 L408.5,459.2 L409.6,459.2 L409.4,459.5 L409.1,461.0 L410.0,463.0 L411.9,464.0 L413.0,463.9 L412.8,464.2 L412.4,465.6 L413.4,467.6 L415.2,468.6 L416.3,468.6 L416.1,468.9 L415.8,470.4 L416.7,472.4 L418.6,473.5 L419.7,473.5 L419.5,473.8 L419.1,475.4 L420.1,477.4 L421.9,478.4 L423.1,478.4 L422.8,478.6 L422.5,480.1 L423.5,482.0 L425.3,482.9 L426.4,482.7 L426.2,482.9 L425.9,484.3 L426.8,486.1 L428.7,487.1 L429.8,487.0 L429.5,487.2 L429.2,488.8 L430.2,490.9 L432.0,492.2 L433.1,492.4 L432.9,492.9 L432.6,494.6 L433.5,496.7 L435.4,497.8 L436.5,497.7 L436.3,497.9 L435.9,499.3 L436.9,501.0 L438.7,501.8 L439.8,501.6 L439.6,501.7 L439.3,502.9 L440.3,504.6 L442.1,505.4 L443.1,505.3 L443.0,505.5 L442.7,506.8 L443.6,508.4 L445.4,509.2 L446.5,509.0 L446.3,509.1 L446.1,510.3 L447.0,511.9 L448.7,512.7 L449.8,512.6 L449.7,512.8 L449.5,514.1 L450.4,515.9 L452.1,516.8 L453.1,516.8 L453.0,517.1 L452.9,518.4 L453.8,520.1 L455.4,520.9 L456.4,520.9 L456.4,521.1 L456.2,522.3 L457.2,523.8 L458.8,524.6 L459.8,524.5 L459.7,524.7 L459.6,525.9 L460.5,527.4 L462.1,528.1 L463.1,528.1 L463.1,528.3 L463.0,529.3 L463.9,530.7 L465.4,531.3 L466.4,531.1 L466.4,531.1 L466.4,532.1 L467.3,533.4 L468.8,534.0 L469.8,534.0 L469.8,534.2 L469.8,535.3 L470.6,536.8 L472.1,537.6 L473.1,537.7 L473.2,538.0 L473.2,539.2 L474.0,540.6 L475.5,541.3 L476.4,541.4 L476.5,541.6 L476.5,542.5 L477.4,543.7 L478.8,544.3 L479.8,544.3 L479.9,544.4 L479.9,545.3 L480.8,546.4 L482.2,547.1 L483.1,547.1 L483.2,547.3 L483.3,548.2 L484.1,549.5 L485.5,550.1 L486.4,550.2 L486.6,550.4 L486.7,551.3 L487.5,552.5 L488.8,553.1 L489.8,553.2 L489.9,553.4 L490.1,554.3 L490.9,555.5 L492.2,556.2 L493.1,556.3 L493.3,556.5 L493.4,557.4 L494.3,558.6 L495.5,559.2 L496.4,559.3 L496.6,559.5 L496.8,560.4 L497.6,561.4 L498.9,562.0 L499.8,562.1 L500.0,562.3 L500.2,563.1 L501.0,564.2 L502.2,564.7 L503.1,564.8 L503.3,565.0 L503.6,565.9 L504.4,566.9 L505.6,567.5 L506.4,567.6 L506.7,567.9 L506.9,568.7 L507.7,569.6 L508.9,570.2 L509.8,570.3 L510.1,570.5 L510.3,571.3 L511.1,572.2 L512.3,572.8 L513.1,572.9 L513.4,573.2 L513.7,574.0 L514.5,574.9 L515.6,575.4 L516.4,575.5 L516.8,575.6 L517.1,576.3 L517.8,577.0 L519.0,577.4 L519.8,577.4 L520.1,577.5 L520.4,578.1 L521.2,578.8 L522.3,579.2 L523.1,579.2 L523.5,579.4 L523.8,579.9 L524.6,580.7 L525.7,581.0 L526.5,581.0"/>
<path d="M110.4,598.1 L111.3,597.8 L112.0,597.3 L112.4,597.1 L113.0,597.1 L113.9,597.0 L114.8,596.7 L115.4,596.3 L115.8,596.1 L116.4,596.2 L117.3,596.2 L118.2,596.0 L118.9,595.6 L119.3,595.4 L119.9,595.5 L120.7,595.6 L121.7,595.4 L122.3,595.0 L122.7,594.9 L123.3,595.1 L124.2,595.1 L125.1,594.9 L125.8,594.6 L126.2,594.5 L126.7,594.7 L127.6,594.8 L128.6,594.6 L129.2,594.3 L129.6,594.2 L130.2,594.3 L131.1,594.5 L132.0,594.3 L132.7,594.0 L133.1,593.9 L133.6,594.1 L134.5,594.2 L135.5,594.0 L136.1,593.7 L136.5,593.6 L137.1,593.8 L138.0,593.9 L138.9,593.8 L139.6,593.5 L140.0,593.4 L140.5,593.6 L141.4,593.7 L142.4,593.5 L143.0,593.2 L143.4,593.1 L144.0,593.3 L144.9,593.4 L145.8,593.2 L146.5,592.9 L146.9,592.8 L147.4,593.0 L148.3,593.2 L149.3,593.0 L149.9,592.6 L150.3,592.6 L150.9,592.7 L151.8,592.9 L152.7,592.7 L153.4,592.4 L153.7,592.3 L154.3,592.4 L155.2,592.6 L156.2,592.4 L156.8,592.0 L157.2,591.9 L157.8,592.0 L158.7,592.1 L159.6,591.9 L160.3,591.5 L160.6,591.3 L161.2,591.4 L162.1,591.5 L163.1,591.3 L163.7,590.9 L164.1,590.7 L164.6,590.9 L165.6,591.0 L166.5,590.7 L167.2,590.4 L167.5,590.2 L168.1,590.4 L169.0,590.4 L170.0,590.2 L170.6,589.7 L171.0,589.5 L171.5,589.6 L172.5,589.6 L173.4,589.3 L174.1,588.8 L174.4,588.6 L175.0,588.6 L175.9,588.6 L176.9,588.3 L177.5,587.8 L177.9,587.6 L178.4,587.7 L179.3,587.7 L180.3,587.4 L181.0,586.9 L181.3,586.6 L181.8,586.7 L182.8,586.7 L183.8,586.3 L184.4,585.8 L184.8,585.5 L185.3,585.5 L186.2,585.4 L187.3,585.0 L187.9,584.3 L188.2,584.0 L188.7,584.0 L189.7,583.9 L190.7,583.4 L191.3,582.8 L191.6,582.4 L192.2,582.4 L193.1,582.3 L194.2,581.8 L194.8,581.1 L195.1,580.7 L195.6,580.6 L196.6,580.5 L197.6,579.9 L198.2,579.2 L198.5,578.7 L199.0,578.6 L200.0,578.5 L201.1,577.9 L201.7,577.0 L202.0,576.5 L202.5,576.4 L203.5,576.2 L204.6,575.6 L205.2,574.7 L205.4,574.2 L205.9,574.1 L206.9,573.9 L208.0,573.2 L208.6,572.3 L208.8,571.7 L209.3,571.6 L210.4,571.4 L211.5,570.6 L212.1,569.6 L212.3,568.9 L212.7,568.6 L213.8,568.3 L215.0,567.3 L215.6,566.1 L215.7,565.3 L216.2,565.0 L217.2,564.6 L218.4,563.7 L219.0,562.5 L219.1,561.8 L219.6,561.6 L220.7,561.4 L221.9,560.5 L222.5,559.4 L222.6,558.6 L223.0,558.5 L224.1,558.2 L225.4,557.1 L226.0,555.8 L226.0,554.9 L226.4,554.6 L227.6,554.1 L228.9,553.0 L229.4,551.5 L229.4,550.5 L229.8,550.2 L231.0,549.7 L232.3,548.5 L232.9,547.0 L232.9,546.0 L233.2,545.6 L234.5,545.1 L235.8,543.8 L236.4,542.1 L236.3,541.0 L236.7,540.6 L237.9,540.1 L239.3,538.7 L239.8,537.0 L239.7,535.9 L240.1,535.5 L241.3,535.0 L242.8,533.7 L243.3,531.9 L243.2,530.8 L243.5,530.4 L244.8,529.9 L246.3,528.4 L246.8,526.5 L246.6,525.2 L246.9,524.7 L248.2,524.1 L249.7,522.4 L250.3,520.3 L250.0,518.9 L250.3,518.4 L251.7,517.8 L253.2,516.1 L253.8,514.1 L253.4,512.8 L253.7,512.5 L255.1,512.1 L256.7,510.5 L257.2,508.5 L256.9,507.3 L257.1,507.0 L258.6,506.6 L260.2,504.9 L260.7,502.7 L260.3,501.3 L260.5,501.0 L262.0,500.4 L263.7,498.7 L264.2,496.4 L263.7,495.0 L263.9,494.7 L265.4,494.2 L267.2,492.4 L267.6,490.1 L267.2,488.6 L267.3,488.1 L268.9,487.4 L270.6,485.5 L271.0,483.0 L270.5,481.4 L270.7,480.9 L272.2,480.3 L274.0,478.4 L274.4,476.1 L273.9,474.7 L274.1,474.4 L275.6,473.9 L277.4,472.2 L277.8,469.9 L277.3,468.6 L277.5,468.3 L279.0,467.8 L280.7,466.1 L281.2,463.8 L280.7,462.5 L280.9,462.3 L282.4,462.0 L284.1,460.4 L284.6,458.3 L284.1,457.1 L284.3,457.0 L285.8,456.6 L287.5,454.9 L288.0,452.7 L287.5,451.4 L287.7,451.1 L289.2,450.7 L290.9,449.0 L291.4,446.8 L290.9,445.5 L291.1,445.3 L292.6,444.9 L294.3,443.3 L294.8,441.2 L294.3,440.0 L294.5,439.8 L296.0,439.4 L297.7,437.8 L298.2,435.7 L297.7,434.5 L297.9,434.4 L299.4,434.1 L301.1,432.7 L301.6,430.7 L301.1,429.6 L301.3,429.5 L302.8,429.3 L304.5,427.8 L305.0,425.7 L304.5,424.6 L304.6,424.7 L306.2,424.5 L307.9,423.2 L308.4,421.5 L307.9,420.6 L308.0,420.9 L309.6,421.0 L311.3,419.9 L311.8,418.3 L311.3,417.6 L311.4,418.0 L313.0,418.1 L314.7,417.1 L315.1,415.5 L314.7,414.9 L314.8,415.4 L316.4,415.8 L318.1,414.9 L318.5,413.5 L318.0,413.1 L318.2,413.7 L319.8,414.1 L321.5,413.3 L321.9,412.0 L321.4,411.7 L321.6,412.6 L323.1,413.4 L324.9,413.0 L325.3,412.1 L324.8,412.1 L325.0,413.1 L326.5,413.9 L328.2,413.3 L328.7,412.1 L328.2,411.7 L328.4,412.3 L329.9,412.6 L331.6,411.7 L332.1,410.2 L331.6,409.7 L331.8,410.4 L333.3,410.9 L335.0,410.4 L335.5,409.5 L335.0,409.5 L335.2,410.8 L336.7,411.9 L338.4,411.7 L338.9,411.1 L338.4,411.4 L338.6,412.7 L340.1,413.8 L341.8,413.5 L342.3,412.7 L341.8,412.9 L342.0,414.1 L343.5,415.1 L345.2,415.0 L345.7,414.3 L345.2,414.5 L345.4,415.8 L346.9,416.9 L348.6,416.8 L349.1,416.1 L348.6,416.2 L348.8,417.5 L350.3,418.5 L352.0,418.3 L352.5,417.6 L352.0,417.8 L352.2,419.1 L353.7,420.2 L355.4,420.2 L355.9,419.6 L355.4,419.9 L355.5,421.3 L357.1,422.5 L358.8,422.4 L359.3,421.8 L358.8,422.1 L358.9,423.6 L360.5,424.8 L362.2,424.9 L362.6,424.5 L362.2,424.9 L362.3,426.5 L363.9,427.9 L365.6,428.0 L366.0,427.7 L365.6,428.2 L365.7,429.8 L367.3,431.2 L369.0,431.4 L369.4,431.0 L368.9,431.4 L369.1,432.9 L370.6,434.0 L372.4,434.0 L372.8,433.3 L372.3,433.7 L372.5,435.1 L374.0,436.4 L375.8,436.6 L376.2,436.4 L375.7,437.2 L375.9,439.2 L377.4,441.0 L379.1,441.6 L379.6,441.7 L379.1,442.7 L379.3,444.7 L380.8,446.4 L382.5,446.8 L383.0,446.6 L382.5,447.3 L382.7,449.2 L384.2,450.8 L385.9,451.2 L386.4,451.0 L385.9,451.8 L386.1,453.6 L387.6,455.2 L389.3,455.6 L389.8,455.4 L389.3,456.0 L389.5,457.6 L391.0,459.0 L392.7,459.1 L393.2,458.7 L392.7,459.2 L392.9,460.9 L394.4,462.3 L396.1,462.6 L396.6,462.5 L396.1,463.3 L396.3,465.2 L397.8,466.9 L399.5,467.3 L399.9,467.3 L399.5,468.1 L399.6,470.0 L401.1,471.7 L402.8,472.1 L403.3,471.9 L402.8,472.7 L403.0,474.5 L404.5,476.2 L406.2,476.6 L406.7,476.5 L406.2,477.3 L406.3,479.1 L407.9,480.8 L409.6,481.1 L410.0,481.0 L409.5,481.7 L409.7,483.5 L411.2,485.2 L412.9,485.5 L413.4,485.4 L412.9,486.1 L413.0,488.0 L414.6,489.6 L416.3,489.9 L416.7,489.7 L416.2,490.3 L416.4,492.1 L417.9,493.5 L419.6,493.8 L420.1,493.5 L419.6,494.1 L419.8,495.8 L421.3,497.3 L423.0,497.5 L423.4,497.3 L423.0,497.9 L423.1,499.5 L424.6,500.9 L426.3,501.1 L426.8,500.7 L426.3,501.2 L426.5,502.8 L428.0,504.2 L429.6,504.5 L430.1,504.3 L429.7,505.0 L429.9,506.7 L431.4,508.2 L433.0,508.6 L433.4,508.5 L433.1,509.2 L433.3,510.9 L434.7,512.3 L436.3,512.6 L436.8,512.5 L436.4,513.2 L436.7,514.8 L438.1,516.2 L439.6,516.6 L440.1,516.5 L439.8,517.2 L440.1,518.8 L441.4,520.2 L443.0,520.5 L443.5,520.3 L443.2,520.9 L443.4,522.3 L444.8,523.4 L446.3,523.6 L446.8,523.4 L446.6,523.9 L446.8,525.2 L448.2,526.4 L449.6,526.7 L450.1,526.6 L449.9,527.2 L450.2,528.6 L451.5,529.9 L453.0,530.2 L453.5,530.2 L453.3,530.8 L453.6,532.2 L454.9,533.4 L456.3,533.6 L456.8,533.6 L456.7,534.2 L457.0,535.5 L458.2,536.8 L459.6,537.2 L460.1,537.2 L460.0,537.8 L460.4,539.2 L461.6,540.3 L463.0,540.6 L463.5,540.5 L463.4,541.0 L463.7,542.1 L465.0,543.0 L466.3,543.1 L466.8,542.9 L466.8,543.3 L467.1,544.4 L468.3,545.3 L469.6,545.6 L470.2,545.5 L470.1,546.0 L470.5,547.2 L471.7,548.2 L473.0,548.5 L473.5,548.4 L473.5,548.9 L473.9,550.1 L475.0,551.0 L476.3,551.3 L476.9,551.3 L476.9,551.7 L477.3,552.7 L478.4,553.6 L479.6,553.8 L480.2,553.7 L480.2,554.1 L480.6,555.1 L481.8,556.0 L483.0,556.3 L483.5,556.2 L483.6,556.8 L484.0,557.9 L485.1,558.8 L486.3,559.2 L486.9,559.3 L487.0,559.8 L487.4,560.9 L488.5,561.8 L489.7,562.1 L490.2,562.1 L490.3,562.6 L490.8,563.6 L491.8,564.4 L493.0,564.8 L493.6,564.8 L493.7,565.3 L494.1,566.2 L495.2,567.1 L496.3,567.3 L496.9,567.3 L497.1,567.7 L497.5,568.5 L498.6,569.2 L499.7,569.3 L500.3,569.3 L500.4,569.6 L500.9,570.4 L501.9,571.1 L503.0,571.3 L503.6,571.3 L503.8,571.6 L504.3,572.4 L505.3,573.0 L506.4,573.2 L506.9,573.1 L507.2,573.4 L507.6,574.1 L508.6,574.8 L509.7,575.0 L510.3,575.0 L510.5,575.4 L511.0,576.3 L512.0,577.1 L513.0,577.4 L513.6,577.5 L513.9,578.0 L514.4,578.8 L515.3,579.5 L516.4,579.7 L517.0,579.7 L517.2,579.9 L517.7,580.6 L518.7,581.1 L519.7,581.2 L520.3,581.0 L520.6,581.3 L521.1,581.8 L522.1,582.4 L523.1,582.5 L523.7,582.5 L524.0,582.7 L524.5,583.4 L525.4,584.0 L526.4,584.1"/>
<path d="M110.4,597.8 L110.9,597.7 L111.7,597.6 L112.7,597.4 L113.4,596.9 L113.8,596.7 L114.3,596.7 L115.2,596.7 L116.1,596.5 L116.8,596.1 L117.3,595.9 L117.8,595.9 L118.6,596.0 L119.6,595.8 L120.3,595.5 L120.7,595.3 L121.2,595.4 L122.1,595.5 L123.0,595.3 L123.7,595.0 L124.2,594.9 L124.7,595.0 L125.5,595.1 L126.5,595.0 L127.2,594.7 L127.6,594.5 L128.1,594.7 L129.0,594.8 L129.9,594.7 L130.6,594.4 L131.0,594.3 L131.6,594.4 L132.4,594.6 L133.4,594.5 L134.1,594.2 L134.5,594.1 L135.0,594.2 L135.9,594.4 L136.8,594.3 L137.5,594.0 L137.9,593.9 L138.5,594.1 L139.3,594.3 L140.3,594.2 L141.0,593.9 L141.4,593.7 L141.9,593.9 L142.8,594.1 L143.7,594.0 L144.4,593.7 L144.8,593.6 L145.4,593.8 L146.2,594.0 L147.2,593.9 L147.9,593.6 L148.3,593.5 L148.8,593.6 L149.7,593.8 L150.6,593.7 L151.3,593.4 L151.7,593.3 L152.2,593.5 L153.1,593.6 L154.1,593.5 L154.8,593.2 L155.2,593.1 L155.7,593.3 L156.5,593.4 L157.5,593.3 L158.2,593.0 L158.6,592.9 L159.1,593.1 L160.0,593.2 L161.0,593.1 L161.7,592.8 L162.1,592.7 L162.6,592.8 L163.4,593.0 L164.4,592.9 L165.1,592.6 L165.5,592.4 L166.0,592.6 L166.9,592.7 L167.9,592.6 L168.6,592.3 L169.0,592.1 L169.5,592.3 L170.3,592.4 L171.3,592.3 L172.0,591.9 L172.4,591.8 L172.9,591.9 L173.8,592.1 L174.8,591.9 L175.5,591.5 L175.9,591.4 L176.4,591.5 L177.2,591.6 L178.2,591.5 L178.9,591.1 L179.3,590.9 L179.8,591.0 L180.7,591.2 L181.7,591.0 L182.4,590.6 L182.8,590.4 L183.2,590.5 L184.1,590.6 L185.1,590.4 L185.8,590.0 L186.2,589.7 L186.7,589.8 L187.6,589.9 L188.6,589.7 L189.3,589.3 L189.6,589.0 L190.1,589.1 L191.0,589.2 L192.0,588.9 L192.7,588.4 L193.1,588.1 L193.6,588.2 L194.5,588.2 L195.5,587.9 L196.2,587.4 L196.5,587.1 L197.0,587.1 L197.9,587.2 L198.9,586.9 L199.6,586.4 L200.0,586.1 L200.5,586.1 L201.3,586.2 L202.4,585.8 L203.1,585.3 L203.4,584.9 L203.9,584.9 L204.8,585.0 L205.8,584.6 L206.5,584.0 L206.9,583.6 L207.3,583.6 L208.2,583.6 L209.3,583.2 L210.0,582.5 L210.3,582.1 L210.8,582.1 L211.7,582.1 L212.8,581.6 L213.5,581.0 L213.8,580.5 L214.2,580.5 L215.1,580.4 L216.2,580.0 L216.9,579.2 L217.2,578.7 L217.6,578.6 L218.6,578.6 L219.7,578.0 L220.4,577.2 L220.6,576.6 L221.1,576.5 L222.0,576.4 L223.1,575.8 L223.8,574.9 L224.1,574.3 L224.5,574.1 L225.5,574.0 L226.6,573.4 L227.3,572.5 L227.5,571.9 L227.9,571.8 L228.9,571.6 L230.1,571.0 L230.8,570.1 L231.0,569.4 L231.4,569.2 L232.3,569.0 L233.5,568.4 L234.2,567.4 L234.4,566.6 L234.8,566.5 L235.8,566.3 L237.0,565.6 L237.7,564.5 L237.9,563.8 L238.2,563.5 L239.2,563.3 L240.5,562.5 L241.2,561.3 L241.3,560.5 L241.6,560.2 L242.7,559.9 L243.9,559.0 L244.6,557.7 L244.7,556.8 L245.0,556.6 L246.1,556.3 L247.4,555.4 L248.1,554.2 L248.2,553.3 L248.5,553.0 L249.5,552.8 L250.9,551.9 L251.6,550.6 L251.6,549.6 L251.9,549.3 L253.0,549.0 L254.3,548.1 L255.0,546.7 L255.1,545.7 L255.3,545.4 L256.4,545.2 L257.8,544.2 L258.5,542.8 L258.5,541.7 L258.7,541.4 L259.8,541.1 L261.3,540.0 L262.0,538.3 L261.9,537.0 L262.1,536.5 L263.3,536.0 L264.8,534.7 L265.5,532.9 L265.4,531.7 L265.5,531.3 L266.7,531.0 L268.2,529.9 L268.9,528.2 L268.8,527.1 L268.9,526.8 L270.1,526.6 L271.6,525.5 L272.3,523.8 L272.2,522.6 L272.3,522.3 L273.5,522.0 L275.1,520.9 L275.8,519.1 L275.5,517.9 L275.6,517.7 L276.9,517.6 L278.5,516.5 L279.2,514.7 L278.9,513.5 L279.0,513.2 L280.2,513.0 L281.9,511.7 L282.6,509.6 L282.3,508.2 L282.3,507.8 L283.6,507.4 L285.3,506.0 L286.0,503.9 L285.7,502.5 L285.7,502.3 L287.0,502.1 L288.8,500.9 L289.5,498.9 L289.1,497.7 L289.0,497.6 L290.4,497.5 L292.2,496.3 L292.9,494.4 L292.4,493.1 L292.4,493.0 L293.8,493.0 L295.6,491.8 L296.3,489.9 L295.8,488.8 L295.8,488.9 L297.2,489.0 L299.0,488.0 L299.7,486.1 L299.2,485.0 L299.2,485.0 L300.6,485.0 L302.4,483.6 L303.1,481.5 L302.6,480.1 L302.6,479.8 L303.9,479.5 L305.8,478.1 L306.5,476.0 L306.0,474.7 L306.0,474.6 L307.3,474.7 L309.1,473.7 L309.8,472.0 L309.4,471.0 L309.4,471.2 L310.7,471.4 L312.5,470.5 L313.2,468.9 L312.8,467.9 L312.8,468.1 L314.1,468.3 L315.9,467.3 L316.6,465.6 L316.2,464.5 L316.2,464.7 L317.5,464.9 L319.3,464.0 L320.0,462.3 L319.6,461.4 L319.6,461.7 L320.9,462.0 L322.7,461.2 L323.4,459.7 L323.0,459.0 L323.0,459.4 L324.3,459.9 L326.1,459.2 L326.8,457.8 L326.4,457.1 L326.3,457.6 L327.7,458.1 L329.5,457.5 L330.2,456.1 L329.8,455.5 L329.7,456.0 L331.1,456.7 L332.9,456.1 L333.6,454.9 L333.2,454.3 L333.1,454.9 L334.5,455.6 L336.3,455.2 L337.0,454.1 L336.6,453.7 L336.5,454.6 L337.9,455.5 L339.7,455.2 L340.4,454.2 L340.0,453.9 L339.9,454.7 L341.3,455.5 L343.1,455.1 L343.8,453.8 L343.3,453.2 L343.3,453.9 L344.7,454.5 L346.5,454.0 L347.2,452.8 L346.7,452.4 L346.7,453.3 L348.1,454.3 L349.9,454.1 L350.6,453.3 L350.1,453.1 L350.1,454.2 L351.5,455.4 L353.3,455.3 L354.0,454.5 L353.5,454.4 L353.5,455.5 L354.8,456.6 L356.6,456.6 L357.3,455.8 L356.9,455.7 L356.9,456.9 L358.2,458.0 L360.0,458.1 L360.7,457.3 L360.3,457.3 L360.3,458.5 L361.6,459.7 L363.4,459.7 L364.1,459.0 L363.7,458.9 L363.7,460.1 L365.0,461.3 L366.8,461.3 L367.5,460.6 L367.1,460.7 L367.1,461.9 L368.4,463.2 L370.2,463.4 L370.9,462.8 L370.5,463.0 L370.5,464.3 L371.8,465.7 L373.6,465.9 L374.3,465.4 L373.9,465.5 L373.8,466.9 L375.2,468.3 L377.0,468.5 L377.7,467.9 L377.3,468.1 L377.2,469.4 L378.6,470.8 L380.4,471.0 L381.1,470.5 L380.7,470.7 L380.6,472.1 L382.0,473.5 L383.8,473.9 L384.5,473.5 L384.1,473.9 L384.0,475.4 L385.4,477.0 L387.2,477.4 L387.9,477.0 L387.5,477.4 L387.4,478.9 L388.8,480.4 L390.6,480.7 L391.3,480.3 L390.8,480.6 L390.8,482.0 L392.2,483.5 L394.0,483.9 L394.7,483.4 L394.2,483.7 L394.2,485.2 L395.6,486.8 L397.4,487.3 L398.1,487.0 L397.6,487.5 L397.6,489.2 L398.9,491.0 L400.7,491.5 L401.4,491.3 L401.0,491.7 L400.9,493.3 L402.3,494.8 L404.1,495.2 L404.8,494.7 L404.3,494.9 L404.3,496.3 L405.6,497.7 L407.4,497.9 L408.1,497.5 L407.7,497.7 L407.7,499.2 L409.0,500.8 L410.8,501.1 L411.5,500.7 L411.1,501.0 L411.1,502.4 L412.4,503.8 L414.1,504.1 L414.8,503.8 L414.4,504.1 L414.4,505.6 L415.7,507.0 L417.4,507.4 L418.1,507.1 L417.8,507.4 L417.8,508.8 L419.1,510.2 L420.8,510.6 L421.5,510.3 L421.2,510.6 L421.2,512.1 L422.5,513.5 L424.1,514.0 L424.8,513.8 L424.5,514.3 L424.6,515.8 L425.8,517.4 L427.5,517.9 L428.1,517.8 L427.9,518.2 L428.0,519.6 L429.2,521.0 L430.8,521.3 L431.5,521.1 L431.2,521.5 L431.4,522.8 L432.6,524.1 L434.1,524.5 L434.8,524.3 L434.6,524.6 L434.7,525.9 L435.9,527.2 L437.5,527.5 L438.1,527.2 L438.0,527.5 L438.1,528.6 L439.3,529.8 L440.8,530.1 L441.5,529.8 L441.3,530.1 L441.5,531.3 L442.7,532.5 L444.1,533.0 L444.8,532.9 L444.7,533.4 L444.9,534.7 L446.0,536.0 L447.5,536.5 L448.2,536.5 L448.1,536.9 L448.3,538.1 L449.4,539.2 L450.8,539.5 L451.5,539.3 L451.4,539.6 L451.6,540.7 L452.8,541.7 L454.2,542.0 L454.8,541.8 L454.8,542.1 L455.0,543.2 L456.1,544.3 L457.5,544.6 L458.2,544.5 L458.2,544.7 L458.4,545.7 L459.5,546.7 L460.8,547.0 L461.5,546.9 L461.5,547.2 L461.8,548.2 L462.8,549.2 L464.2,549.6 L464.9,549.6 L464.9,550.0 L465.1,551.1 L466.2,552.2 L467.5,552.6 L468.2,552.5 L468.2,552.9 L468.5,553.9 L469.6,554.9 L470.9,555.1 L471.5,555.0 L471.6,555.2 L471.9,556.1 L472.9,557.0 L474.2,557.3 L474.9,557.1 L475.0,557.4 L475.3,558.3 L476.3,559.2 L477.5,559.6 L478.2,559.6 L478.3,559.9 L478.6,560.9 L479.7,561.9 L480.9,562.3 L481.6,562.3 L481.7,562.6 L482.0,563.5 L483.0,564.4 L484.2,564.6 L484.9,564.5 L485.1,564.8 L485.4,565.6 L486.4,566.4 L487.6,566.6 L488.2,566.5 L488.4,566.8 L488.8,567.6 L489.7,568.4 L490.9,568.7 L491.6,568.6 L491.8,568.9 L492.1,569.7 L493.1,570.5 L494.3,570.8 L494.9,570.7 L495.1,571.0 L495.5,571.7 L496.5,572.5 L497.6,572.7 L498.3,572.7 L498.5,572.9 L498.9,573.7 L499.8,574.4 L500.9,574.6 L501.6,574.6 L501.9,574.8 L502.3,575.5 L503.2,576.2 L504.3,576.4 L505.0,576.4 L505.2,576.6 L505.6,577.2 L506.5,577.8 L507.6,578.0 L508.3,578.0 L508.6,578.2 L509.0,578.8 L509.9,579.4 L511.0,579.6 L511.7,579.6 L511.9,579.7 L512.4,580.3 L513.3,580.9 L514.3,581.1 L515.0,581.0 L515.3,581.2 L515.7,581.7 L516.6,582.3 L517.7,582.6 L518.4,582.6 L518.7,582.8 L519.1,583.5 L520.0,584.1 L521.0,584.3 L521.7,584.3 L522.0,584.5 L522.5,585.1 L523.4,585.6 L524.4,585.7 L525.0,585.6 L525.4,585.8 L525.8,586.2"/>
<path d="M110.6,597.8 L111.0,597.5 L111.6,597.5 L112.5,597.4 L113.4,597.1 L114.0,596.7 L114.4,596.5 L115.0,596.6 L115.9,596.6 L116.9,596.3 L117.5,595.9 L117.9,595.8 L118.5,595.9 L119.4,595.9 L120.3,595.7 L120.9,595.3 L121.3,595.3 L121.9,595.4 L122.8,595.5 L123.8,595.2 L124.4,594.9 L124.8,594.9 L125.4,595.0 L126.3,595.1 L127.2,594.9 L127.8,594.6 L128.2,594.6 L128.8,594.8 L129.7,594.9 L130.7,594.7 L131.3,594.4 L131.7,594.4 L132.3,594.6 L133.2,594.7 L134.1,594.5 L134.7,594.2 L135.1,594.2 L135.7,594.4 L136.6,594.5 L137.6,594.4 L138.2,594.1 L138.6,594.1 L139.2,594.3 L140.1,594.4 L141.0,594.2 L141.6,594.0 L142.0,594.0 L142.6,594.2 L143.5,594.3 L144.5,594.1 L145.1,593.9 L145.5,593.9 L146.1,594.1 L147.0,594.2 L147.9,594.1 L148.5,593.8 L148.9,593.8 L149.5,594.0 L150.4,594.1 L151.3,594.0 L151.9,593.7 L152.3,593.7 L152.9,593.9 L153.9,594.1 L154.8,593.9 L155.4,593.6 L155.8,593.6 L156.4,593.8 L157.3,594.0 L158.2,593.8 L158.8,593.5 L159.2,593.5 L159.8,593.7 L160.8,593.9 L161.7,593.7 L162.3,593.4 L162.7,593.4 L163.3,593.6 L164.2,593.7 L165.1,593.6 L165.7,593.3 L166.1,593.3 L166.7,593.5 L167.7,593.6 L168.6,593.4 L169.2,593.1 L169.6,593.1 L170.2,593.3 L171.1,593.5 L172.0,593.3 L172.6,593.0 L173.0,593.0 L173.6,593.2 L174.6,593.3 L175.5,593.1 L176.1,592.8 L176.5,592.8 L177.1,593.0 L178.0,593.1 L178.9,592.9 L179.5,592.6 L179.9,592.5 L180.5,592.7 L181.5,592.8 L182.4,592.6 L183.0,592.3 L183.4,592.2 L184.0,592.4 L184.9,592.5 L185.8,592.3 L186.4,592.0 L186.8,591.9 L187.4,592.1 L188.3,592.2 L189.3,592.0 L189.9,591.7 L190.3,591.6 L190.9,591.8 L191.8,591.9 L192.7,591.6 L193.3,591.2 L193.7,591.1 L194.3,591.3 L195.2,591.4 L196.2,591.1 L196.8,590.7 L197.2,590.6 L197.7,590.8 L198.7,590.9 L199.6,590.6 L200.2,590.2 L200.6,590.1 L201.2,590.3 L202.1,590.4 L203.1,590.1 L203.7,589.7 L204.0,589.6 L204.6,589.7 L205.6,589.8 L206.5,589.4 L207.1,589.0 L207.5,588.8 L208.1,588.9 L209.0,588.9 L210.0,588.5 L210.6,588.1 L210.9,587.9 L211.5,588.0 L212.5,588.0 L213.5,587.7 L214.0,587.2 L214.4,587.1 L215.0,587.2 L215.9,587.2 L216.9,586.9 L217.5,586.4 L217.8,586.2 L218.4,586.3 L219.4,586.3 L220.4,585.9 L220.9,585.3 L221.3,585.1 L221.8,585.2 L222.8,585.2 L223.8,584.8 L224.4,584.2 L224.7,584.0 L225.3,584.0 L226.3,583.9 L227.3,583.4 L227.8,582.8 L228.1,582.4 L228.7,582.4 L229.7,582.3 L230.7,581.7 L231.3,581.1 L231.6,580.7 L232.1,580.8 L233.2,580.7 L234.2,580.2 L234.8,579.6 L235.0,579.3 L235.6,579.4 L236.6,579.3 L237.7,578.8 L238.2,578.1 L238.5,577.7 L239.0,577.7 L240.1,577.5 L241.1,576.9 L241.7,576.0 L241.9,575.6 L242.5,575.5 L243.5,575.2 L244.6,574.5 L245.1,573.6 L245.3,573.2 L245.9,573.1 L247.0,573.0 L248.0,572.3 L248.6,571.4 L248.8,570.9 L249.3,570.9 L250.4,570.7 L251.5,569.9 L252.0,569.0 L252.2,568.5 L252.7,568.5 L253.9,568.3 L255.0,567.5 L255.5,566.6 L255.6,566.2 L256.2,566.2 L257.3,566.0 L258.4,565.2 L259.0,564.2 L259.1,563.7 L259.6,563.6 L260.8,563.3 L261.9,562.4 L262.4,561.3 L262.5,560.7 L263.0,560.5 L264.2,560.2 L265.4,559.2 L265.9,558.1 L266.0,557.4 L266.5,557.4 L267.6,557.1 L268.8,556.2 L269.3,555.2 L269.3,554.7 L269.8,554.7 L271.0,554.5 L272.2,553.6 L272.7,552.4 L272.7,551.8 L273.2,551.7 L274.4,551.4 L275.7,550.3 L276.1,548.9 L276.1,548.1 L276.6,547.9 L277.8,547.5 L279.1,546.4 L279.5,545.0 L279.5,544.3 L279.9,544.2 L281.2,544.0 L282.5,542.9 L282.9,541.6 L282.9,540.9 L283.3,540.9 L284.6,540.7 L285.9,539.6 L286.3,538.3 L286.2,537.6 L286.7,537.5 L288.0,537.2 L289.3,536.1 L289.8,534.6 L289.6,533.9 L290.0,533.8 L291.4,533.5 L292.7,532.4 L293.2,530.9 L293.0,530.2 L293.4,530.2 L294.8,530.0 L296.2,528.8 L296.6,527.4 L296.4,526.7 L296.8,526.8 L298.2,526.6 L299.6,525.5 L300.0,524.0 L299.7,523.3 L300.1,523.4 L301.6,523.2 L303.0,522.0 L303.4,520.5 L303.1,519.7 L303.5,519.8 L305.0,519.6 L306.4,518.4 L306.8,516.9 L306.5,516.2 L306.9,516.4 L308.4,516.3 L309.8,515.1 L310.2,513.5 L309.9,512.9 L310.2,513.1 L311.7,513.0 L313.3,511.8 L313.6,510.3 L313.2,509.7 L313.6,510.0 L315.1,510.0 L316.7,508.9 L317.0,507.6 L316.6,507.1 L317.0,507.6 L318.5,507.7 L320.1,506.7 L320.4,505.3 L320.0,504.8 L320.3,505.2 L321.9,505.3 L323.5,504.2 L323.8,502.7 L323.4,502.2 L323.7,502.7 L325.3,502.8 L326.9,501.7 L327.2,500.2 L326.8,499.8 L327.1,500.3 L328.7,500.5 L330.3,499.4 L330.6,497.9 L330.2,497.5 L330.5,498.0 L332.1,498.1 L333.7,497.1 L334.0,495.7 L333.5,495.4 L333.9,496.0 L335.5,496.4 L337.1,495.4 L337.4,494.1 L336.9,493.8 L337.3,494.6 L338.9,494.9 L340.5,494.0 L340.8,492.8 L340.3,492.6 L340.6,493.4 L342.3,493.9 L343.9,493.2 L344.2,492.1 L343.7,492.0 L344.0,493.0 L345.7,493.6 L347.3,492.9 L347.6,491.9 L347.1,491.8 L347.4,492.8 L349.1,493.3 L350.7,492.6 L351.0,491.6 L350.5,491.5 L350.8,492.5 L352.5,493.1 L354.1,492.5 L354.4,491.5 L353.9,491.5 L354.2,492.5 L355.9,493.1 L357.5,492.5 L357.8,491.4 L357.3,491.4 L357.6,492.4 L359.2,493.0 L360.9,492.3 L361.2,491.4 L360.7,491.5 L361.0,492.7 L362.6,493.5 L364.3,493.2 L364.6,492.6 L364.1,493.1 L364.4,494.5 L366.0,495.5 L367.7,495.3 L368.0,494.6 L367.5,494.9 L367.8,496.2 L369.4,497.0 L371.1,496.7 L371.4,496.0 L370.9,496.3 L371.2,497.6 L372.8,498.5 L374.4,498.2 L374.8,497.5 L374.3,497.8 L374.6,499.1 L376.2,499.9 L377.8,499.4 L378.1,498.5 L377.7,498.5 L378.0,499.6 L379.6,500.3 L381.2,499.9 L381.5,499.1 L381.1,499.4 L381.4,500.7 L383.0,501.7 L384.6,501.5 L384.9,500.9 L384.5,501.3 L384.8,502.7 L386.4,503.7 L388.0,503.5 L388.3,503.0 L387.9,503.4 L388.2,504.7 L389.8,505.7 L391.3,505.6 L391.7,505.1 L391.3,505.5 L391.6,506.9 L393.2,507.9 L394.7,507.7 L395.1,507.2 L394.7,507.7 L395.0,509.1 L396.6,510.2 L398.1,510.2 L398.4,509.9 L398.1,510.6 L398.4,512.1 L399.9,513.3 L401.4,513.4 L401.8,513.0 L401.4,513.6 L401.8,514.9 L403.3,515.9 L404.8,515.7 L405.1,515.2 L404.8,515.6 L405.2,516.8 L406.6,517.7 L408.1,517.6 L408.5,517.2 L408.2,517.7 L408.5,519.0 L410.0,520.0 L411.5,520.0 L411.8,519.7 L411.5,520.3 L411.9,521.6 L413.4,522.7 L414.8,522.7 L415.2,522.4 L414.9,522.9 L415.3,524.2 L416.7,525.2 L418.1,525.2 L418.5,525.0 L418.3,525.5 L418.7,526.8 L420.1,527.8 L421.5,527.8 L421.9,527.5 L421.6,528.1 L422.0,529.3 L423.4,530.3 L424.8,530.3 L425.2,530.0 L425.0,530.5 L425.4,531.7 L426.8,532.6 L428.1,532.6 L428.5,532.4 L428.4,532.9 L428.8,534.1 L430.1,535.0 L431.5,535.1 L431.9,534.9 L431.7,535.3 L432.2,536.5 L433.5,537.4 L434.8,537.4 L435.2,537.2 L435.1,537.7 L435.5,538.9 L436.9,539.7 L438.2,539.8 L438.6,539.5 L438.5,539.9 L438.9,541.0 L440.2,541.8 L441.5,541.8 L441.9,541.6 L441.8,542.1 L442.3,543.2 L443.6,544.2 L444.8,544.4 L445.3,544.5 L445.2,545.2 L445.7,546.5 L446.9,547.5 L448.2,547.8 L448.6,547.8 L448.6,548.3 L449.0,549.3 L450.3,550.1 L451.5,550.2 L452.0,550.0 L451.9,550.4 L452.4,551.4 L453.6,552.2 L454.9,552.2 L455.3,552.1 L455.3,552.5 L455.8,553.5 L457.0,554.3 L458.2,554.4 L458.7,554.2 L458.7,554.7 L459.2,555.7 L460.4,556.4 L461.5,556.5 L462.0,556.4 L462.0,556.8 L462.5,557.8 L463.7,558.5 L464.9,558.4 L465.4,558.2 L465.4,558.5 L465.9,559.3 L467.1,559.9 L468.2,559.9 L468.7,559.8 L468.8,560.1 L469.3,561.1 L470.4,561.8 L471.6,562.0 L472.0,561.9 L472.1,562.4 L472.6,563.4 L473.8,564.2 L474.9,564.3 L475.4,564.3 L475.5,564.7 L476.0,565.5 L477.1,566.2 L478.2,566.2 L478.7,566.1 L478.9,566.5 L479.4,567.2 L480.5,567.9 L481.6,567.9 L482.1,567.8 L482.2,568.2 L482.8,569.0 L483.8,569.6 L484.9,569.7 L485.4,569.6 L485.6,570.0 L486.1,570.8 L487.2,571.4 L488.3,571.4 L488.8,571.4 L489.0,571.7 L489.5,572.5 L490.6,573.1 L491.6,573.3 L492.1,573.3 L492.3,573.7 L492.9,574.6 L493.9,575.2 L495.0,575.4 L495.5,575.4 L495.7,575.7 L496.2,576.4 L497.3,576.9 L498.3,576.9 L498.8,576.8 L499.1,577.0 L499.6,577.6 L500.6,578.0 L501.7,578.0 L502.2,577.9 L502.4,578.2 L503.0,578.9 L504.0,579.4 L505.0,579.5 L505.5,579.4 L505.8,579.7 L506.3,580.4 L507.3,580.9 L508.3,581.0 L508.9,580.9 L509.2,581.2 L509.7,581.8 L510.7,582.3 L511.7,582.4 L512.2,582.3 L512.5,582.6 L513.1,583.3 L514.1,583.8 L515.0,583.8 L515.6,583.8 L515.9,584.0 L516.4,584.6 L517.4,585.0 L518.4,585.1 L518.9,585.0 L519.2,585.2 L519.8,585.8 L520.8,586.2 L521.7,586.2 L522.3,586.1 L522.6,586.3 L523.2,586.8 L524.1,587.2 L525.1,587.2 L525.6,587.1 L526.0,587.3"/>
<path d="M110.2,597.9 L111.0,597.9 L111.9,597.6 L112.7,597.2 L113.2,596.9 L113.7,596.8 L114.4,596.9 L115.4,596.7 L116.2,596.3 L116.6,596.0 L117.1,596.0 L117.9,596.1 L118.8,596.0 L119.6,595.7 L120.1,595.4 L120.6,595.5 L121.3,595.6 L122.3,595.5 L123.1,595.2 L123.5,595.0 L124.0,595.1 L124.8,595.2 L125.7,595.2 L126.5,594.9 L127.0,594.7 L127.4,594.8 L128.2,594.9 L129.2,594.9 L130.0,594.6 L130.4,594.4 L130.9,594.5 L131.7,594.7 L132.6,594.7 L133.4,594.4 L133.9,594.3 L134.3,594.4 L135.1,594.6 L136.1,594.6 L136.9,594.3 L137.3,594.1 L137.8,594.3 L138.6,594.5 L139.5,594.5 L140.3,594.2 L140.8,594.0 L141.2,594.2 L142.0,594.4 L143.0,594.4 L143.8,594.1 L144.2,594.0 L144.7,594.1 L145.5,594.3 L146.4,594.3 L147.2,594.1 L147.7,593.9 L148.1,594.0 L148.9,594.3 L149.9,594.3 L150.7,594.0 L151.1,593.8 L151.6,594.0 L152.4,594.2 L153.3,594.2 L154.1,594.0 L154.6,593.8 L155.0,593.9 L155.8,594.2 L156.8,594.2 L157.6,593.9 L158.0,593.8 L158.5,593.9 L159.2,594.1 L160.2,594.1 L161.0,593.9 L161.5,593.7 L161.9,593.9 L162.7,594.1 L163.7,594.1 L164.4,593.8 L164.9,593.7 L165.4,593.8 L166.1,594.0 L167.1,594.0 L167.9,593.8 L168.3,593.6 L168.8,593.7 L169.6,594.0 L170.6,594.0 L171.3,593.7 L171.8,593.5 L172.3,593.7 L173.0,593.9 L174.0,593.9 L174.8,593.6 L175.2,593.4 L175.7,593.6 L176.5,593.8 L177.5,593.8 L178.2,593.5 L178.7,593.4 L179.1,593.5 L179.9,593.7 L180.9,593.7 L181.7,593.4 L182.1,593.2 L182.6,593.4 L183.4,593.6 L184.4,593.6 L185.1,593.3 L185.6,593.1 L186.0,593.3 L186.8,593.5 L187.8,593.4 L188.6,593.1 L189.0,592.9 L189.5,593.1 L190.3,593.3 L191.3,593.2 L192.0,593.0 L192.5,592.8 L192.9,592.9 L193.7,593.1 L194.7,593.1 L195.5,592.8 L195.9,592.7 L196.4,592.8 L197.2,593.0 L198.2,593.0 L198.9,592.7 L199.4,592.4 L199.8,592.6 L200.6,592.7 L201.6,592.7 L202.4,592.4 L202.8,592.1 L203.3,592.2 L204.1,592.4 L205.1,592.4 L205.8,592.0 L206.3,591.8 L206.7,591.9 L207.5,592.1 L208.5,592.0 L209.3,591.7 L209.7,591.4 L210.2,591.5 L211.0,591.7 L212.0,591.6 L212.7,591.3 L213.2,591.0 L213.6,591.1 L214.4,591.3 L215.4,591.2 L216.2,590.8 L216.6,590.6 L217.0,590.7 L217.8,590.8 L218.9,590.7 L219.6,590.4 L220.1,590.1 L220.5,590.2 L221.3,590.3 L222.3,590.2 L223.1,589.8 L223.5,589.5 L223.9,589.6 L224.7,589.8 L225.8,589.6 L226.5,589.2 L227.0,588.9 L227.4,588.9 L228.2,589.0 L229.2,588.8 L230.0,588.3 L230.4,588.0 L230.8,588.0 L231.6,588.1 L232.7,587.9 L233.4,587.5 L233.8,587.1 L234.3,587.2 L235.1,587.3 L236.1,587.2 L236.9,586.7 L237.3,586.4 L237.7,586.4 L238.5,586.5 L239.6,586.3 L240.4,585.8 L240.7,585.5 L241.1,585.5 L242.0,585.6 L243.0,585.4 L243.8,584.9 L244.2,584.5 L244.6,584.5 L245.4,584.6 L246.5,584.4 L247.3,583.8 L247.6,583.3 L248.0,583.3 L248.8,583.3 L249.9,583.0 L250.7,582.3 L251.1,581.8 L251.5,581.8 L252.3,581.8 L253.4,581.5 L254.2,580.9 L254.5,580.5 L254.9,580.5 L255.7,580.6 L256.8,580.3 L257.6,579.7 L258.0,579.3 L258.3,579.2 L259.2,579.3 L260.3,578.9 L261.1,578.2 L261.4,577.6 L261.8,577.5 L262.6,577.4 L263.7,577.0 L264.6,576.2 L264.9,575.6 L265.2,575.4 L266.0,575.4 L267.2,575.1 L268.0,574.3 L268.3,573.7 L268.6,573.7 L269.4,573.7 L270.6,573.4 L271.4,572.6 L271.7,572.0 L272.0,571.9 L272.8,572.0 L274.0,571.6 L274.8,570.7 L275.1,570.0 L275.4,569.9 L276.2,569.9 L277.4,569.4 L278.2,568.5 L278.5,567.8 L278.7,567.6 L279.6,567.7 L280.8,567.2 L281.6,566.3 L281.9,565.5 L282.1,565.3 L283.0,565.3 L284.2,564.8 L285.0,563.8 L285.3,563.1 L285.5,562.9 L286.4,562.9 L287.6,562.4 L288.5,561.5 L288.7,560.7 L288.9,560.6 L289.7,560.6 L291.0,560.2 L291.9,559.2 L292.0,558.5 L292.2,558.3 L293.1,558.4 L294.4,557.9 L295.3,556.9 L295.4,556.1 L295.6,556.0 L296.5,556.1 L297.8,555.6 L298.7,554.6 L298.8,553.9 L299.0,553.7 L299.9,553.8 L301.2,553.3 L302.1,552.2 L302.2,551.4 L302.4,551.3 L303.3,551.4 L304.6,550.9 L305.5,549.8 L305.6,549.0 L305.7,548.8 L306.6,548.9 L308.0,548.4 L308.9,547.3 L309.0,546.3 L309.1,546.1 L310.0,546.1 L311.4,545.5 L312.3,544.2 L312.4,543.3 L312.5,543.1 L313.4,543.2 L314.8,542.7 L315.7,541.6 L315.8,540.7 L315.9,540.7 L316.8,540.9 L318.2,540.4 L319.2,539.3 L319.2,538.5 L319.2,538.4 L320.2,538.7 L321.7,538.2 L322.6,537.1 L322.6,536.3 L322.6,536.4 L323.6,536.7 L325.1,536.3 L326.0,535.3 L326.0,534.5 L326.0,534.6 L326.9,534.9 L328.5,534.5 L329.4,533.3 L329.4,532.4 L329.4,532.4 L330.3,532.7 L331.9,532.2 L332.8,531.0 L332.8,530.1 L332.7,530.2 L333.7,530.6 L335.3,530.2 L336.2,529.1 L336.2,528.4 L336.1,528.5 L337.1,529.0 L338.7,528.7 L339.6,527.6 L339.5,526.9 L339.5,527.1 L340.5,527.6 L342.1,527.3 L343.0,526.2 L342.9,525.5 L342.9,525.8 L343.9,526.3 L345.5,526.0 L346.4,525.0 L346.3,524.3 L346.3,524.6 L347.3,525.2 L348.9,525.0 L349.8,524.1 L349.7,523.5 L349.7,524.0 L350.7,524.8 L352.3,524.8 L353.2,524.0 L353.1,523.5 L353.1,523.9 L354.0,524.7 L355.7,524.5 L356.6,523.6 L356.5,522.9 L356.4,523.3 L357.4,523.9 L359.0,523.7 L360.0,522.7 L359.9,522.1 L359.8,522.6 L360.8,523.3 L362.4,523.3 L363.4,522.4 L363.3,521.9 L363.2,522.3 L364.2,523.1 L365.8,523.0 L366.8,522.2 L366.7,521.7 L366.6,522.2 L367.6,523.0 L369.2,523.0 L370.2,522.3 L370.1,521.9 L370.0,522.5 L371.0,523.4 L372.6,523.4 L373.6,522.7 L373.5,522.4 L373.4,523.0 L374.4,523.9 L376.0,524.0 L377.0,523.3 L376.9,522.9 L376.8,523.6 L377.8,524.5 L379.4,524.6 L380.3,524.0 L380.3,523.7 L380.2,524.3 L381.2,525.3 L382.8,525.5 L383.7,524.9 L383.7,524.8 L383.6,525.6 L384.6,526.8 L386.2,527.1 L387.1,526.7 L387.0,526.6 L387.0,527.4 L388.0,528.4 L389.6,528.6 L390.5,528.0 L390.4,527.7 L390.4,528.4 L391.4,529.2 L392.9,529.3 L393.9,528.7 L393.8,528.4 L393.8,529.1 L394.8,530.1 L396.3,530.3 L397.3,529.9 L397.2,529.7 L397.2,530.5 L398.2,531.5 L399.7,531.7 L400.6,531.3 L400.6,531.1 L400.6,531.9 L401.5,532.9 L403.1,533.2 L404.0,532.8 L403.9,532.6 L403.9,533.3 L404.9,534.2 L406.4,534.4 L407.3,534.0 L407.3,533.8 L407.3,534.5 L408.3,535.5 L409.7,535.9 L410.7,535.6 L410.7,535.7 L410.7,536.6 L411.6,537.8 L413.1,538.3 L414.0,538.1 L414.0,538.2 L414.1,539.1 L415.0,540.1 L416.4,540.5 L417.3,540.1 L417.4,540.1 L417.4,540.8 L418.4,541.8 L419.8,542.2 L420.7,541.8 L420.7,541.8 L420.8,542.6 L421.7,543.6 L423.1,543.9 L424.0,543.6 L424.1,543.6 L424.2,544.4 L425.1,545.3 L426.5,545.7 L427.4,545.4 L427.4,545.4 L427.5,546.2 L428.4,547.1 L429.8,547.5 L430.7,547.2 L430.8,547.2 L430.9,547.9 L431.8,548.9 L433.2,549.2 L434.1,548.9 L434.2,548.9 L434.3,549.6 L435.2,550.6 L436.5,550.9 L437.4,550.8 L437.5,550.8 L437.6,551.6 L438.5,552.6 L439.9,553.0 L440.7,552.8 L440.9,552.9 L441.0,553.7 L441.9,554.6 L443.2,554.9 L444.1,554.7 L444.2,554.7 L444.4,555.3 L445.3,556.2 L446.6,556.5 L447.4,556.2 L447.6,556.2 L447.8,556.9 L448.6,557.7 L449.9,558.1 L450.8,557.9 L450.9,558.0 L451.1,558.8 L452.0,559.7 L453.3,560.1 L454.1,560.0 L454.3,560.1 L454.5,560.8 L455.4,561.7 L456.6,562.0 L457.5,561.8 L457.7,561.8 L457.9,562.4 L458.7,563.2 L460.0,563.5 L460.8,563.3 L461.0,563.3 L461.2,564.0 L462.1,564.8 L463.3,565.1 L464.1,564.9 L464.4,565.0 L464.6,565.6 L465.5,566.5 L466.7,566.8 L467.5,566.7 L467.7,566.7 L468.0,567.4 L468.8,568.1 L470.0,568.4 L470.8,568.3 L471.1,568.3 L471.3,568.9 L472.2,569.6 L473.4,569.9 L474.2,569.7 L474.4,569.8 L474.7,570.4 L475.5,571.1 L476.7,571.4 L477.5,571.3 L477.8,571.3 L478.1,571.9 L478.9,572.6 L480.1,573.0 L480.9,572.9 L481.2,572.9 L481.4,573.5 L482.3,574.2 L483.4,574.5 L484.2,574.4 L484.5,574.4 L484.8,575.0 L485.6,575.7 L486.8,576.0 L487.6,575.9 L487.9,576.0 L488.2,576.5 L489.0,577.2 L490.1,577.4 L490.9,577.3 L491.2,577.3 L491.5,577.7 L492.4,578.3 L493.5,578.5 L494.3,578.3 L494.6,578.3 L494.9,578.8 L495.7,579.4 L496.8,579.6 L497.6,579.6 L497.9,579.6 L498.3,580.1 L499.1,580.7 L500.2,581.0 L501.0,580.9 L501.3,581.0 L501.6,581.4 L502.4,582.0 L503.5,582.3 L504.3,582.2 L504.6,582.2 L505.0,582.7 L505.8,583.3 L506.9,583.5 L507.6,583.4 L508.0,583.5 L508.4,583.9 L509.2,584.5 L510.2,584.7 L511.0,584.5 L511.4,584.6 L511.7,585.0 L512.5,585.5 L513.6,585.7 L514.3,585.5 L514.7,585.5 L515.1,585.9 L515.9,586.4 L516.9,586.6 L517.7,586.5 L518.1,586.5 L518.5,586.9 L519.3,587.3 L520.3,587.5 L521.0,587.4 L521.4,587.4 L521.8,587.7 L522.6,588.2 L523.6,588.3 L524.4,588.2 L524.8,588.2 L525.2,588.6 L526.0,589.0"/>
<path d="M110.3,597.8 L110.9,597.7 L111.8,597.7 L112.7,597.3 L113.3,596.9 L113.8,596.7 L114.3,596.7 L115.2,596.7 L116.2,596.5 L116.8,596.1 L117.2,595.9 L117.8,596.0 L118.7,596.1 L119.6,595.8 L120.2,595.5 L120.7,595.3 L121.2,595.5 L122.1,595.6 L123.1,595.4 L123.7,595.0 L124.1,594.9 L124.7,595.1 L125.6,595.2 L126.5,595.0 L127.1,594.7 L127.6,594.6 L128.1,594.8 L129.0,595.0 L130.0,594.8 L130.6,594.5 L131.0,594.4 L131.6,594.6 L132.5,594.8 L133.4,594.6 L134.0,594.3 L134.4,594.3 L135.0,594.5 L135.9,594.6 L136.9,594.5 L137.5,594.2 L137.9,594.2 L138.5,594.4 L139.4,594.5 L140.3,594.4 L140.9,594.1 L141.3,594.1 L141.9,594.3 L142.8,594.5 L143.7,594.3 L144.4,594.1 L144.8,594.0 L145.4,594.2 L146.3,594.4 L147.2,594.3 L147.8,594.0 L148.2,594.0 L148.8,594.2 L149.7,594.4 L150.6,594.2 L151.3,594.0 L151.7,593.9 L152.3,594.2 L153.2,594.3 L154.1,594.2 L154.7,594.0 L155.1,593.9 L155.7,594.1 L156.6,594.3 L157.5,594.2 L158.2,593.9 L158.6,593.9 L159.1,594.1 L160.0,594.3 L161.0,594.2 L161.6,593.9 L162.0,593.9 L162.6,594.1 L163.5,594.3 L164.4,594.2 L165.1,593.9 L165.5,593.9 L166.0,594.1 L166.9,594.3 L167.9,594.1 L168.5,593.9 L168.9,593.8 L169.5,594.1 L170.4,594.3 L171.3,594.1 L172.0,593.9 L172.4,593.8 L172.9,594.1 L173.8,594.2 L174.8,594.1 L175.4,593.9 L175.8,593.8 L176.4,594.0 L177.3,594.2 L178.2,594.1 L178.9,593.8 L179.3,593.8 L179.8,594.0 L180.7,594.2 L181.7,594.1 L182.3,593.8 L182.7,593.8 L183.3,594.0 L184.2,594.2 L185.1,594.0 L185.8,593.8 L186.2,593.7 L186.7,594.0 L187.6,594.1 L188.6,594.0 L189.2,593.8 L189.6,593.7 L190.2,593.9 L191.1,594.1 L192.0,594.0 L192.7,593.7 L193.1,593.7 L193.6,593.9 L194.5,594.1 L195.5,593.9 L196.1,593.7 L196.5,593.6 L197.1,593.9 L198.0,594.0 L198.9,593.9 L199.5,593.6 L200.0,593.6 L200.5,593.8 L201.4,594.0 L202.4,593.8 L203.0,593.6 L203.4,593.5 L204.0,593.7 L204.9,593.9 L205.8,593.8 L206.4,593.5 L206.8,593.4 L207.4,593.7 L208.3,593.8 L209.3,593.7 L209.9,593.4 L210.3,593.4 L210.9,593.6 L211.8,593.7 L212.7,593.6 L213.3,593.3 L213.7,593.2 L214.3,593.5 L215.2,593.6 L216.2,593.5 L216.8,593.2 L217.2,593.1 L217.8,593.3 L218.7,593.5 L219.6,593.3 L220.2,593.1 L220.6,593.0 L221.2,593.2 L222.1,593.4 L223.1,593.2 L223.7,592.9 L224.1,592.8 L224.6,593.0 L225.5,593.2 L226.5,593.0 L227.1,592.7 L227.5,592.6 L228.1,592.8 L229.0,593.0 L229.9,592.8 L230.6,592.5 L231.0,592.4 L231.5,592.6 L232.4,592.7 L233.4,592.6 L234.0,592.2 L234.4,592.2 L235.0,592.4 L235.9,592.5 L236.8,592.3 L237.5,592.0 L237.9,591.9 L238.4,592.1 L239.3,592.2 L240.3,592.0 L240.9,591.7 L241.3,591.6 L241.9,591.8 L242.8,591.9 L243.7,591.7 L244.4,591.3 L244.8,591.2 L245.3,591.4 L246.2,591.5 L247.2,591.3 L247.8,590.9 L248.2,590.8 L248.8,591.0 L249.7,591.1 L250.6,590.9 L251.3,590.5 L251.7,590.4 L252.2,590.6 L253.1,590.7 L254.1,590.4 L254.7,590.1 L255.1,589.9 L255.7,590.1 L256.6,590.2 L257.5,589.9 L258.2,589.5 L258.5,589.4 L259.1,589.6 L260.0,589.6 L261.0,589.4 L261.6,589.0 L262.0,588.8 L262.5,589.0 L263.5,589.1 L264.5,588.8 L265.1,588.4 L265.4,588.2 L266.0,588.4 L266.9,588.5 L267.9,588.2 L268.5,587.7 L268.8,587.5 L269.4,587.6 L270.3,587.6 L271.3,587.3 L271.9,586.8 L272.2,586.6 L272.8,586.7 L273.7,586.8 L274.7,586.4 L275.3,586.0 L275.6,585.8 L276.2,585.9 L277.1,585.9 L278.1,585.6 L278.7,585.1 L279.0,584.9 L279.5,585.0 L280.5,585.0 L281.5,584.7 L282.1,584.2 L282.4,584.0 L282.9,584.1 L283.9,584.2 L284.9,583.8 L285.5,583.3 L285.8,583.1 L286.3,583.2 L287.3,583.2 L288.3,582.8 L288.9,582.2 L289.2,581.9 L289.7,581.9 L290.7,581.8 L291.7,581.4 L292.3,580.7 L292.6,580.4 L293.1,580.5 L294.1,580.5 L295.1,580.1 L295.7,579.5 L296.0,579.2 L296.5,579.3 L297.4,579.3 L298.5,578.8 L299.1,578.2 L299.3,577.9 L299.8,578.0 L300.8,578.0 L301.9,577.5 L302.5,576.9 L302.7,576.5 L303.2,576.6 L304.2,576.6 L305.3,576.1 L305.9,575.4 L306.1,575.1 L306.6,575.2 L307.6,575.2 L308.7,574.7 L309.3,574.0 L309.5,573.6 L310.0,573.7 L311.0,573.7 L312.1,573.2 L312.7,572.5 L312.9,572.1 L313.4,572.2 L314.4,572.2 L315.5,571.7 L316.1,571.0 L316.3,570.6 L316.8,570.8 L317.8,570.8 L318.9,570.3 L319.5,569.6 L319.7,569.2 L320.1,569.4 L321.2,569.4 L322.3,568.8 L322.9,568.1 L323.1,567.7 L323.5,567.8 L324.6,567.8 L325.7,567.2 L326.3,566.5 L326.4,566.1 L326.9,566.2 L328.0,566.2 L329.1,565.7 L329.7,564.9 L329.8,564.6 L330.3,564.7 L331.4,564.8 L332.5,564.3 L333.1,563.5 L333.2,563.1 L333.7,563.3 L334.7,563.3 L335.9,562.7 L336.5,561.9 L336.6,561.5 L337.0,561.6 L338.1,561.6 L339.3,561.0 L339.9,560.2 L340.0,559.8 L340.4,560.0 L341.5,560.1 L342.7,559.6 L343.3,558.8 L343.4,558.4 L343.8,558.7 L344.9,558.8 L346.1,558.3 L346.7,557.6 L346.8,557.2 L347.2,557.5 L348.3,557.6 L349.5,557.1 L350.1,556.2 L350.2,555.8 L350.6,556.0 L351.7,556.1 L352.9,555.5 L353.5,554.7 L353.6,554.3 L354.0,554.6 L355.1,554.8 L356.3,554.3 L356.9,553.6 L356.9,553.4 L357.3,553.8 L358.5,554.1 L359.7,553.7 L360.3,553.0 L360.3,552.8 L360.7,553.1 L361.9,553.4 L363.1,552.9 L363.7,552.1 L363.7,551.8 L364.1,552.1 L365.3,552.3 L366.5,551.9 L367.1,551.1 L367.1,550.8 L367.5,551.2 L368.7,551.5 L369.9,551.1 L370.5,550.4 L370.5,550.1 L370.9,550.6 L372.1,550.9 L373.3,550.5 L373.9,549.7 L373.9,549.6 L374.3,550.0 L375.5,550.4 L376.7,550.0 L377.3,549.4 L377.3,549.3 L377.7,549.8 L378.8,550.2 L380.1,549.9 L380.7,549.3 L380.7,549.2 L381.1,549.8 L382.2,550.2 L383.5,549.8 L384.1,549.2 L384.1,549.2 L384.5,549.7 L385.6,550.2 L386.9,549.9 L387.5,549.3 L387.5,549.3 L387.8,549.9 L389.0,550.3 L390.3,550.1 L390.9,549.5 L390.9,549.5 L391.2,550.1 L392.4,550.6 L393.7,550.4 L394.3,549.9 L394.2,549.9 L394.6,550.6 L395.8,551.1 L397.1,550.8 L397.6,550.2 L397.6,550.2 L398.0,550.8 L399.2,551.2 L400.5,551.0 L401.0,550.4 L401.0,550.4 L401.4,551.1 L402.5,551.6 L403.8,551.5 L404.4,551.0 L404.4,551.1 L404.7,551.8 L405.9,552.4 L407.2,552.3 L407.7,551.8 L407.7,551.9 L408.1,552.6 L409.3,553.2 L410.5,553.1 L411.1,552.7 L411.1,552.8 L411.5,553.5 L412.6,554.0 L413.9,553.9 L414.4,553.5 L414.4,553.7 L414.8,554.4 L416.0,555.0 L417.2,555.0 L417.8,554.6 L417.8,554.8 L418.2,555.6 L419.3,556.3 L420.6,556.3 L421.1,556.0 L421.2,556.2 L421.6,557.0 L422.7,557.6 L423.9,557.5 L424.5,557.2 L424.5,557.3 L424.9,558.0 L426.0,558.5 L427.3,558.5 L427.8,558.1 L427.9,558.3 L428.3,559.0 L429.4,559.6 L430.6,559.6 L431.2,559.4 L431.2,559.6 L431.7,560.4 L432.8,561.0 L433.9,561.0 L434.5,560.8 L434.6,561.0 L435.0,561.8 L436.1,562.4 L437.3,562.4 L437.9,562.1 L438.0,562.3 L438.4,563.0 L439.5,563.7 L440.6,563.7 L441.2,563.4 L441.3,563.6 L441.8,564.3 L442.8,565.0 L444.0,565.0 L444.6,564.8 L444.7,565.0 L445.1,565.7 L446.2,566.3 L447.3,566.4 L447.9,566.1 L448.0,566.4 L448.5,567.1 L449.5,567.7 L450.7,567.7 L451.3,567.5 L451.4,567.7 L451.9,568.4 L452.9,569.1 L454.0,569.1 L454.6,568.9 L454.8,569.1 L455.2,569.8 L456.3,570.4 L457.4,570.4 L458.0,570.2 L458.1,570.4 L458.6,571.1 L459.6,571.7 L460.7,571.7 L461.3,571.5 L461.5,571.7 L462.0,572.4 L463.0,572.9 L464.1,572.9 L464.7,572.7 L464.9,572.9 L465.3,573.5 L466.3,574.0 L467.4,574.0 L468.0,573.9 L468.2,574.0 L468.7,574.7 L469.7,575.2 L470.8,575.2 L471.4,575.1 L471.6,575.3 L472.1,575.9 L473.1,576.5 L474.1,576.6 L474.7,576.4 L474.9,576.6 L475.4,577.2 L476.4,577.7 L477.5,577.8 L478.1,577.6 L478.3,577.8 L478.8,578.3 L479.8,578.8 L480.8,578.9 L481.4,578.7 L481.7,578.9 L482.2,579.4 L483.1,579.9 L484.2,580.0 L484.8,579.8 L485.0,580.0 L485.5,580.5 L486.5,581.0 L487.5,581.1 L488.1,580.9 L488.4,581.1 L488.9,581.6 L489.8,582.1 L490.9,582.1 L491.5,582.0 L491.7,582.1 L492.2,582.6 L493.2,583.1 L494.2,583.1 L494.8,582.9 L495.1,583.1 L495.6,583.6 L496.6,584.0 L497.6,584.1 L498.2,583.9 L498.5,584.0 L499.0,584.5 L499.9,584.9 L500.9,584.9 L501.5,584.8 L501.8,584.9 L502.3,585.4 L503.3,585.8 L504.3,585.9 L504.9,585.7 L505.2,585.9 L505.7,586.4 L506.6,586.8 L507.6,586.8 L508.2,586.7 L508.5,586.8 L509.1,587.3 L510.0,587.7 L511.0,587.7 L511.6,587.5 L511.9,587.6 L512.4,588.0 L513.3,588.4 L514.3,588.4 L514.9,588.2 L515.3,588.3 L515.8,588.7 L516.7,589.1 L517.7,589.1 L518.3,588.9 L518.6,589.0 L519.1,589.4 L520.1,589.8 L521.0,589.7 L521.6,589.6 L522.0,589.7 L522.5,590.1 L523.4,590.4 L524.4,590.4 L525.0,590.2 L525.3,590.2 L525.9,590.6"/>
<path d="M110.3,598.1 L111.3,597.8 L112.0,597.4 L112.5,597.1 L113.0,597.0 L113.8,597.0 L114.7,596.8 L115.5,596.4 L115.9,596.2 L116.4,596.2 L117.2,596.3 L118.2,596.1 L118.9,595.8 L119.4,595.5 L119.9,595.6 L120.7,595.7 L121.6,595.6 L122.4,595.3 L122.8,595.1 L123.3,595.2 L124.1,595.3 L125.1,595.2 L125.8,594.9 L126.3,594.7 L126.7,594.8 L127.6,595.0 L128.5,594.9 L129.3,594.7 L129.7,594.5 L130.2,594.6 L131.0,594.8 L132.0,594.7 L132.7,594.5 L133.2,594.3 L133.6,594.5 L134.4,594.7 L135.4,594.6 L136.2,594.3 L136.6,594.2 L137.1,594.3 L137.9,594.5 L138.9,594.5 L139.6,594.2 L140.1,594.1 L140.5,594.3 L141.3,594.5 L142.3,594.4 L143.1,594.2 L143.5,594.0 L144.0,594.2 L144.8,594.4 L145.8,594.4 L146.5,594.1 L146.9,594.0 L147.4,594.1 L148.2,594.4 L149.2,594.3 L150.0,594.1 L150.4,593.9 L150.9,594.1 L151.7,594.3 L152.7,594.3 L153.4,594.1 L153.8,593.9 L154.3,594.1 L155.1,594.3 L156.1,594.3 L156.9,594.0 L157.3,593.9 L157.8,594.1 L158.6,594.3 L159.6,594.3 L160.3,594.0 L160.7,593.9 L161.2,594.1 L162.0,594.3 L163.0,594.3 L163.7,594.0 L164.2,593.9 L164.7,594.1 L165.5,594.3 L166.4,594.3 L167.2,594.0 L167.6,593.9 L168.1,594.0 L168.9,594.3 L169.9,594.2 L170.6,594.0 L171.1,593.9 L171.6,594.0 L172.4,594.3 L173.3,594.2 L174.1,594.0 L174.5,593.9 L175.0,594.0 L175.8,594.3 L176.8,594.2 L177.5,594.0 L178.0,593.9 L178.5,594.0 L179.3,594.3 L180.2,594.2 L181.0,594.0 L181.4,593.9 L181.9,594.0 L182.7,594.3 L183.7,594.2 L184.4,594.0 L184.9,593.9 L185.4,594.0 L186.2,594.3 L187.1,594.2 L187.9,594.0 L188.3,593.8 L188.8,594.0 L189.6,594.3 L190.6,594.2 L191.3,594.0 L191.8,593.8 L192.2,594.0 L193.1,594.3 L194.0,594.2 L194.8,594.0 L195.2,593.8 L195.7,594.0 L196.5,594.3 L197.5,594.2 L198.2,594.0 L198.7,593.8 L199.1,594.0 L199.9,594.2 L200.9,594.2 L201.7,594.0 L202.1,593.8 L202.6,594.0 L203.4,594.2 L204.4,594.2 L205.1,594.0 L205.6,593.8 L206.0,594.0 L206.8,594.2 L207.8,594.2 L208.6,594.0 L209.0,593.8 L209.5,594.0 L210.3,594.2 L211.3,594.2 L212.0,593.9 L212.5,593.8 L212.9,594.0 L213.7,594.2 L214.7,594.2 L215.5,593.9 L215.9,593.8 L216.4,594.0 L217.2,594.2 L218.2,594.2 L218.9,593.9 L219.3,593.8 L219.8,594.0 L220.6,594.2 L221.6,594.2 L222.4,593.9 L222.8,593.8 L223.3,594.0 L224.1,594.2 L225.1,594.2 L225.8,593.9 L226.2,593.8 L226.7,593.9 L227.5,594.2 L228.5,594.1 L229.3,593.9 L229.7,593.7 L230.2,593.9 L231.0,594.2 L232.0,594.1 L232.7,593.9 L233.1,593.7 L233.6,593.9 L234.4,594.1 L235.4,594.1 L236.1,593.8 L236.6,593.7 L237.1,593.9 L237.9,594.1 L238.8,594.1 L239.6,593.8 L240.0,593.7 L240.5,593.8 L241.3,594.1 L242.3,594.0 L243.0,593.8 L243.5,593.6 L244.0,593.8 L244.8,594.0 L245.7,594.0 L246.5,593.7 L246.9,593.6 L247.4,593.8 L248.2,594.0 L249.2,594.0 L249.9,593.7 L250.4,593.5 L250.9,593.7 L251.7,593.9 L252.6,593.9 L253.4,593.6 L253.8,593.5 L254.3,593.7 L255.1,593.9 L256.1,593.8 L256.8,593.6 L257.3,593.4 L257.7,593.6 L258.6,593.8 L259.5,593.8 L260.3,593.5 L260.7,593.4 L261.2,593.5 L262.0,593.7 L263.0,593.7 L263.7,593.4 L264.2,593.3 L264.6,593.4 L265.5,593.7 L266.4,593.6 L267.2,593.3 L267.6,593.2 L268.1,593.3 L268.9,593.6 L269.8,593.5 L270.6,593.2 L271.0,593.1 L271.5,593.2 L272.3,593.4 L273.2,593.4 L274.0,593.1 L274.4,592.9 L274.8,593.1 L275.7,593.3 L276.6,593.3 L277.4,593.0 L277.8,592.8 L278.2,593.0 L279.0,593.2 L280.0,593.1 L280.8,592.8 L281.2,592.7 L281.6,592.8 L282.4,593.0 L283.4,592.9 L284.1,592.7 L284.6,592.5 L285.0,592.6 L285.8,592.8 L286.8,592.8 L287.5,592.5 L288.0,592.3 L288.4,592.4 L289.2,592.6 L290.2,592.6 L290.9,592.3 L291.4,592.1 L291.8,592.2 L292.6,592.4 L293.6,592.3 L294.3,592.0 L294.7,591.8 L295.2,592.0 L296.0,592.2 L297.0,592.1 L297.7,591.8 L298.1,591.6 L298.6,591.8 L299.4,592.0 L300.4,591.9 L301.1,591.5 L301.5,591.3 L302.0,591.5 L302.8,591.7 L303.8,591.6 L304.5,591.2 L304.9,591.0 L305.4,591.2 L306.2,591.4 L307.2,591.3 L307.9,590.9 L308.3,590.7 L308.8,590.9 L309.6,591.0 L310.6,590.9 L311.3,590.6 L311.7,590.4 L312.2,590.5 L313.0,590.7 L314.0,590.6 L314.7,590.2 L315.1,590.0 L315.5,590.1 L316.4,590.3 L317.4,590.2 L318.1,589.9 L318.5,589.6 L318.9,589.7 L319.7,589.9 L320.7,589.8 L321.5,589.4 L321.9,589.2 L322.3,589.3 L323.1,589.5 L324.1,589.3 L324.9,588.9 L325.3,588.7 L325.7,588.8 L326.5,589.0 L327.5,588.8 L328.3,588.4 L328.7,588.2 L329.1,588.3 L329.9,588.5 L330.9,588.4 L331.7,588.0 L332.1,587.7 L332.5,587.8 L333.3,588.0 L334.3,587.9 L335.1,587.5 L335.5,587.2 L335.9,587.3 L336.7,587.5 L337.7,587.4 L338.5,587.0 L338.8,586.7 L339.3,586.9 L340.1,587.0 L341.1,586.9 L341.9,586.5 L342.2,586.2 L342.7,586.3 L343.5,586.5 L344.5,586.4 L345.3,585.9 L345.6,585.6 L346.0,585.7 L346.9,585.9 L347.9,585.8 L348.7,585.3 L349.0,585.1 L349.4,585.2 L350.3,585.4 L351.3,585.2 L352.1,584.8 L352.4,584.5 L352.8,584.6 L353.7,584.8 L354.7,584.6 L355.5,584.2 L355.8,583.9 L356.2,584.0 L357.0,584.2 L358.1,584.1 L358.9,583.6 L359.2,583.4 L359.6,583.5 L360.4,583.7 L361.5,583.5 L362.3,583.1 L362.6,582.8 L363.0,582.9 L363.8,583.1 L364.9,583.0 L365.7,582.5 L366.0,582.2 L366.4,582.3 L367.2,582.6 L368.3,582.4 L369.0,582.0 L369.4,581.7 L369.8,581.8 L370.6,582.1 L371.7,582.0 L372.4,581.5 L372.8,581.3 L373.2,581.4 L374.0,581.7 L375.1,581.5 L375.8,581.1 L376.2,580.8 L376.5,581.0 L377.4,581.2 L378.5,581.1 L379.2,580.6 L379.6,580.3 L379.9,580.5 L380.8,580.7 L381.9,580.6 L382.6,580.1 L383.0,579.9 L383.3,580.0 L384.2,580.3 L385.3,580.1 L386.0,579.7 L386.3,579.4 L386.7,579.6 L387.6,579.8 L388.7,579.7 L389.4,579.3 L389.7,579.0 L390.1,579.2 L391.0,579.4 L392.1,579.3 L392.8,578.9 L393.1,578.6 L393.5,578.8 L394.4,579.1 L395.5,579.0 L396.2,578.6 L396.5,578.3 L396.9,578.5 L397.7,578.9 L398.8,578.8 L399.6,578.4 L399.9,578.2 L400.2,578.4 L401.1,578.7 L402.2,578.6 L402.9,578.2 L403.2,578.0 L403.6,578.2 L404.4,578.6 L405.5,578.5 L406.3,578.1 L406.6,577.9 L407.0,578.1 L407.8,578.5 L408.9,578.4 L409.7,578.0 L410.0,577.8 L410.3,578.1 L411.2,578.4 L412.3,578.4 L413.0,578.0 L413.3,577.8 L413.7,578.0 L414.5,578.4 L415.6,578.3 L416.4,577.9 L416.7,577.8 L417.0,578.0 L417.9,578.4 L419.0,578.4 L419.7,578.0 L420.0,577.8 L420.4,578.1 L421.2,578.5 L422.3,578.5 L423.1,578.1 L423.4,578.0 L423.7,578.2 L424.6,578.6 L425.7,578.6 L426.4,578.3 L426.7,578.1 L427.1,578.4 L427.9,578.8 L429.0,578.8 L429.8,578.5 L430.1,578.3 L430.5,578.6 L431.3,579.0 L432.4,579.0 L433.2,578.6 L433.5,578.5 L433.8,578.8 L434.7,579.2 L435.8,579.2 L436.5,578.9 L436.8,578.8 L437.2,579.1 L438.0,579.5 L439.1,579.6 L439.9,579.3 L440.2,579.2 L440.5,579.6 L441.4,580.0 L442.5,580.0 L443.2,579.7 L443.5,579.6 L443.9,580.0 L444.7,580.4 L445.8,580.4 L446.6,580.1 L446.9,580.0 L447.3,580.4 L448.1,580.8 L449.2,580.8 L449.9,580.5 L450.2,580.4 L450.6,580.8 L451.5,581.2 L452.5,581.2 L453.3,580.9 L453.6,580.8 L454.0,581.1 L454.8,581.6 L455.9,581.6 L456.6,581.4 L457.0,581.3 L457.3,581.6 L458.2,582.1 L459.2,582.2 L460.0,581.9 L460.3,581.9 L460.7,582.2 L461.5,582.6 L462.6,582.7 L463.3,582.5 L463.7,582.4 L464.1,582.8 L464.9,583.2 L465.9,583.3 L466.7,583.1 L467.0,583.0 L467.4,583.3 L468.2,583.8 L469.3,583.8 L470.0,583.6 L470.4,583.6 L470.8,583.9 L471.6,584.3 L472.6,584.4 L473.4,584.2 L473.7,584.2 L474.1,584.5 L475.0,584.9 L476.0,585.0 L476.7,584.8 L477.1,584.7 L477.5,585.1 L478.3,585.5 L479.4,585.5 L480.1,585.3 L480.5,585.3 L480.9,585.6 L481.7,586.0 L482.7,586.1 L483.5,585.9 L483.8,585.8 L484.2,586.1 L485.0,586.5 L486.1,586.6 L486.8,586.4 L487.2,586.3 L487.6,586.6 L488.4,587.0 L489.4,587.1 L490.2,586.9 L490.5,586.9 L490.9,587.2 L491.8,587.6 L492.8,587.7 L493.5,587.5 L493.9,587.5 L494.3,587.8 L495.1,588.2 L496.1,588.2 L496.9,588.0 L497.2,588.0 L497.7,588.3 L498.5,588.7 L499.5,588.7 L500.2,588.6 L500.6,588.5 L501.0,588.8 L501.8,589.2 L502.8,589.2 L503.6,589.0 L504.0,589.0 L504.4,589.3 L505.2,589.7 L506.2,589.8 L506.9,589.6 L507.3,589.5 L507.7,589.8 L508.5,590.2 L509.5,590.2 L510.3,590.0 L510.7,590.0 L511.1,590.3 L511.9,590.6 L512.9,590.7 L513.6,590.5 L514.0,590.4 L514.5,590.7 L515.3,591.0 L516.3,591.1 L517.0,590.9 L517.4,590.8 L517.8,591.1 L518.6,591.4 L519.6,591.5 L520.3,591.3 L520.7,591.2 L521.2,591.5 L522.0,591.8 L523.0,591.8 L523.7,591.6 L524.1,591.6 L524.5,591.8 L525.3,592.1 L526.3,592.2"/>
<path d="M187.1,594.0 L187.9,594.2 L188.8,594.3 L189.6,594.0 L190.1,593.9 L190.6,594.0 L191.3,594.2 L192.3,594.3 L193.1,594.0 L193.6,593.9 L194.0,594.0 L194.8,594.2 L195.7,594.3 L196.5,594.0 L197.0,593.9 L197.5,594.0 L198.2,594.2 L199.2,594.3 L200.0,594.0 L200.5,593.9 L200.9,594.0 L201.7,594.2 L202.6,594.3 L203.4,594.0 L203.9,593.9 L204.4,594.0 L205.1,594.2 L206.1,594.3 L206.9,594.0 L207.4,593.9 L207.8,594.0 L208.6,594.2 L209.5,594.3 L210.3,594.0 L210.8,593.9 L211.2,594.0 L212.0,594.2 L213.0,594.3 L213.8,594.0 L214.3,593.9 L214.7,594.0 L215.5,594.2 L216.4,594.3 L217.2,594.0 L217.7,593.9 L218.1,594.0 L218.9,594.2 L219.9,594.3 L220.7,594.0 L221.1,593.8 L221.6,594.0 L222.3,594.2 L223.3,594.3 L224.1,594.0 L224.6,593.8 L225.0,594.0 L225.8,594.2 L226.8,594.3 L227.6,594.0 L228.0,593.8 L228.5,594.0 L229.2,594.2 L230.2,594.3 L231.0,594.0 L231.5,593.8 L231.9,594.0 L232.7,594.2 L233.7,594.3 L234.5,594.0 L234.9,593.8 L235.4,594.0 L236.1,594.2 L237.1,594.2 L237.9,594.0 L238.4,593.8 L238.8,594.0 L239.6,594.2 L240.6,594.2 L241.4,594.0 L241.8,593.8 L242.3,594.0 L243.0,594.2 L244.0,594.2 L244.8,594.0 L245.3,593.8 L245.7,594.0 L246.5,594.2 L247.5,594.2 L248.3,594.0 L248.7,593.8 L249.2,594.0 L249.9,594.2 L250.9,594.2 L251.7,594.0 L252.2,593.8 L252.6,594.0 L253.4,594.2 L254.4,594.2 L255.2,594.0 L255.6,593.8 L256.1,594.0 L256.8,594.2 L257.8,594.2 L258.6,594.0 L259.1,593.8 L259.5,593.9 L260.3,594.2 L261.2,594.2 L262.0,594.0 L262.5,593.8 L263.0,593.9 L263.7,594.2 L264.7,594.2 L265.5,594.0 L266.0,593.8 L266.4,593.9 L267.2,594.2 L268.1,594.2 L268.9,594.0 L269.4,593.8 L269.8,593.9 L270.6,594.2 L271.5,594.2 L272.3,594.0 L272.8,593.8 L273.2,593.9 L273.9,594.2 L274.9,594.2 L275.7,593.9 L276.2,593.8 L276.6,593.9 L277.3,594.2 L278.3,594.2 L279.1,593.9 L279.6,593.8 L280.0,593.9 L280.7,594.1 L281.7,594.2 L282.5,593.9 L282.9,593.7 L283.4,593.9 L284.1,594.1 L285.1,594.1 L285.9,593.9 L286.3,593.7 L286.8,593.9 L287.5,594.1 L288.5,594.1 L289.3,593.9 L289.7,593.7 L290.2,593.8 L290.9,594.1 L291.9,594.1 L292.7,593.9 L293.1,593.7 L293.6,593.8 L294.3,594.1 L295.3,594.1 L296.1,593.8 L296.5,593.7 L296.9,593.8 L297.7,594.0 L298.7,594.1 L299.5,593.8 L299.9,593.6 L300.3,593.8 L301.1,594.0 L302.1,594.0 L302.8,593.8 L303.3,593.6 L303.7,593.7 L304.5,594.0 L305.4,594.0 L306.2,593.8 L306.7,593.6 L307.1,593.7 L307.9,594.0 L308.8,594.0 L309.6,593.7 L310.1,593.5 L310.5,593.7 L311.3,593.9 L312.2,593.9 L313.0,593.7 L313.5,593.5 L313.9,593.6 L314.7,593.9 L315.6,593.9 L316.4,593.6 L316.9,593.5 L317.3,593.6 L318.1,593.8 L319.0,593.9 L319.8,593.6 L320.3,593.4 L320.7,593.6 L321.4,593.8 L322.4,593.8 L323.2,593.6 L323.7,593.4 L324.1,593.5 L324.8,593.8 L325.8,593.8 L326.6,593.5 L327.1,593.3 L327.5,593.5 L328.2,593.7 L329.2,593.7 L330.0,593.5 L330.4,593.3 L330.9,593.4 L331.6,593.7 L332.6,593.7 L333.4,593.4 L333.8,593.2 L334.3,593.4 L335.0,593.6 L336.0,593.6 L336.8,593.4 L337.2,593.2 L337.7,593.3 L338.4,593.5 L339.4,593.6 L340.2,593.3 L340.6,593.1 L341.1,593.2 L341.8,593.5 L342.8,593.5 L343.6,593.2 L344.0,593.1 L344.4,593.2 L345.2,593.4 L346.2,593.4 L347.0,593.2 L347.4,593.0 L347.8,593.1 L348.6,593.4 L349.6,593.4 L350.4,593.1 L350.8,592.9 L351.2,593.1 L352.0,593.3 L353.0,593.3 L353.7,593.0 L354.2,592.9 L354.6,593.0 L355.4,593.2 L356.3,593.2 L357.1,593.0 L357.6,592.8 L358.0,592.9 L358.8,593.2 L359.7,593.2 L360.5,592.9 L361.0,592.7 L361.4,592.9 L362.2,593.1 L363.1,593.1 L363.9,592.8 L364.4,592.7 L364.8,592.8 L365.5,593.0 L366.5,593.0 L367.3,592.8 L367.8,592.6 L368.2,592.7 L368.9,593.0 L369.9,593.0 L370.7,592.7 L371.2,592.5 L371.6,592.7 L372.3,592.9 L373.3,592.9 L374.1,592.6 L374.6,592.5 L375.0,592.6 L375.7,592.8 L376.7,592.8 L377.5,592.6 L377.9,592.4 L378.4,592.5 L379.1,592.8 L380.1,592.8 L380.9,592.5 L381.3,592.3 L381.8,592.5 L382.5,592.7 L383.5,592.7 L384.3,592.5 L384.7,592.3 L385.2,592.4 L385.9,592.6 L386.9,592.7 L387.7,592.4 L388.1,592.2 L388.5,592.3 L389.3,592.6 L390.3,592.6 L391.1,592.3 L391.5,592.2 L391.9,592.3 L392.7,592.5 L393.7,592.6 L394.5,592.3 L394.9,592.1 L395.3,592.2 L396.1,592.5 L397.1,592.5 L397.9,592.3 L398.3,592.1 L398.7,592.2 L399.5,592.5 L400.4,592.5 L401.2,592.2 L401.7,592.0 L402.1,592.2 L402.8,592.4 L403.8,592.4 L404.6,592.2 L405.0,592.0 L405.4,592.1 L406.2,592.4 L407.1,592.4 L407.9,592.2 L408.4,592.0 L408.8,592.1 L409.5,592.4 L410.5,592.4 L411.3,592.1 L411.7,591.9 L412.1,592.1 L412.9,592.4 L413.9,592.4 L414.6,592.1 L415.1,591.9 L415.5,592.1 L416.2,592.3 L417.2,592.4 L418.0,592.1 L418.4,591.9 L418.8,592.1 L419.6,592.3 L420.6,592.4 L421.4,592.1 L421.8,591.9 L422.2,592.1 L422.9,592.3 L423.9,592.4 L424.7,592.1 L425.2,591.9 L425.6,592.1 L426.3,592.3 L427.3,592.4 L428.1,592.1 L428.5,591.9 L428.9,592.1 L429.7,592.3 L430.6,592.4 L431.4,592.1 L431.9,591.9 L432.3,592.1 L433.0,592.4 L434.0,592.4 L434.8,592.1 L435.2,592.0 L435.6,592.1 L436.4,592.4 L437.3,592.4 L438.1,592.2 L438.6,592.0 L439.0,592.1 L439.7,592.4 L440.7,592.5 L441.5,592.2 L441.9,592.0 L442.3,592.2 L443.1,592.5 L444.1,592.5 L444.8,592.2 L445.3,592.1 L445.7,592.2 L446.4,592.5 L447.4,592.5 L448.2,592.3 L448.6,592.1 L449.1,592.3 L449.8,592.5 L450.8,592.6 L451.6,592.3 L452.0,592.2 L452.4,592.3 L453.2,592.6 L454.1,592.6 L454.9,592.4 L455.4,592.2 L455.8,592.4 L456.5,592.6 L457.5,592.7 L458.3,592.4 L458.7,592.3 L459.1,592.4 L459.9,592.7 L460.8,592.7 L461.6,592.5 L462.1,592.3 L462.5,592.5 L463.2,592.8 L464.2,592.8 L465.0,592.6 L465.4,592.4 L465.8,592.6 L466.6,592.8 L467.6,592.9 L468.3,592.6 L468.8,592.5 L469.2,592.6 L469.9,592.9 L470.9,592.9 L471.7,592.7 L472.1,592.5 L472.6,592.7 L473.3,593.0 L474.3,593.0 L475.1,592.8 L475.5,592.6 L475.9,592.8 L476.7,593.0 L477.6,593.1 L478.4,592.8 L478.9,592.7 L479.3,592.8 L480.0,593.1 L481.0,593.1 L481.8,592.9 L482.2,592.8 L482.6,592.9 L483.4,593.2 L484.3,593.2 L485.1,593.0 L485.6,592.8 L486.0,593.0 L486.7,593.2 L487.7,593.3 L488.5,593.1 L488.9,592.9 L489.3,593.0 L490.1,593.3 L491.1,593.4 L491.8,593.1 L492.3,593.0 L492.7,593.1 L493.4,593.4 L494.4,593.4 L495.2,593.2 L495.6,593.0 L496.1,593.2 L496.8,593.5 L497.8,593.5 L498.5,593.3 L499.0,593.1 L499.4,593.3 L500.2,593.5 L501.1,593.6 L501.9,593.3 L502.4,593.2 L502.8,593.3 L503.5,593.6 L504.5,593.6 L505.3,593.4 L505.7,593.2 L506.1,593.4 L506.9,593.7 L507.8,593.7 L508.6,593.5 L509.1,593.3 L509.5,593.4 L510.2,593.7 L511.2,593.7 L512.0,593.5 L512.4,593.4 L512.8,593.5 L513.6,593.8 L514.5,593.8 L515.3,593.6 L515.8,593.4 L516.2,593.6 L516.9,593.8 L517.9,593.9 L518.7,593.6 L519.1,593.5 L519.6,593.6 L520.3,593.9 L521.3,593.9 L522.0,593.7 L522.5,593.5 L522.9,593.7 L523.7,593.9 L524.6,594.0 L525.4,593.7 L525.8,593.6"/>
</g>
<text transform="translate(134.3,643.6) scale(1,1.06)" font-size="32" fill="#262626" text-anchor="middle">550</text>
<text transform="translate(266.9,643.6) scale(1,1.06)" font-size="32" fill="#262626" text-anchor="middle">600</text>
<text transform="translate(397.4,643.6) scale(1,1.06)" font-size="32" fill="#262626" text-anchor="middle">650</text>
<text transform="translate(526.5,643.6) scale(1,1.06)" font-size="32" fill="#262626" text-anchor="middle">700</text>
<text transform="translate(95.3,607.1) scale(1,1.06)" font-size="32" fill="#262626" text-anchor="end">0</text>
<text transform="translate(95.3,542.6) scale(1,1.06)" font-size="32" fill="#262626" text-anchor="end">1</text>
<text transform="translate(95.3,478.2) scale(1,1.06)" font-size="32" fill="#262626" text-anchor="end">2</text>
<text transform="translate(95.3,413.7) scale(1,1.06)" font-size="32" fill="#262626" text-anchor="end">3</text>
<text transform="translate(95.3,349.3) scale(1,1.06)" font-size="32" fill="#262626" text-anchor="end">4</text>
<text transform="translate(95.3,284.8) scale(1,1.06)" font-size="32" fill="#262626" text-anchor="end">5</text>
<text transform="translate(95.3,220.4) scale(1,1.06)" font-size="32" fill="#262626" text-anchor="end">6</text>
<text transform="translate(95.3,155.9) scale(1,1.06)" font-size="32" fill="#262626" text-anchor="end">7</text>
<text transform="translate(95.3,91.5) scale(1,1.06)" font-size="32" fill="#262626" text-anchor="end">8</text>
<text x="319.0" y="685.7" font-size="35.6" fill="#262626" text-anchor="middle" font-weight="normal" >Wavelength (nm)</text>
<text transform="translate(61.8,321.6) rotate(-90)" font-size="35.5" fill="#262626" text-anchor="middle">Intensity (a.u.)</text>
<path d="M113.5,21.5 L128.5,36 M113.5,36 L128.5,21.5" stroke="#555" stroke-width="1.7" fill="none"/>
<text x="136.0" y="36.4" font-size="32" fill="#262626" text-anchor="start" font-weight="normal" >10</text>
<text x="171.0" y="20.0" font-size="23" fill="#262626" text-anchor="start" font-weight="normal" >-4</text>
<text x="148.8" y="95.0" font-size="33" fill="#000" text-anchor="start" font-weight="normal" >(a)</text>
<line x1="558.2" y1="602.3" x2="558.2" y2="58" stroke="#333" stroke-width="2"/>
<path d="M557.4,39.6 L566.8,64.3 L557.6,57.6 L547.8,64.6 Z" fill="#000" stroke="#000" stroke-width="1.4" stroke-linejoin="round"/>
<text x="585" y="66.9" font-size="24.3" fill="#262626">100 A/cm<tspan dx="2" dy="-12.6" font-size="19">2</tspan></text>
<text x="585" y="105.0" font-size="24.3" fill="#262626">90 A/cm<tspan dx="2" dy="-12.6" font-size="19">2</tspan></text>
<text x="585" y="143.1" font-size="24.3" fill="#262626">80 A/cm<tspan dx="2" dy="-12.6" font-size="19">2</tspan></text>
<text x="585" y="181.1" font-size="24.3" fill="#262626">70 A/cm<tspan dx="2" dy="-12.6" font-size="19">2</tspan></text>
<text x="585" y="219.2" font-size="24.3" fill="#262626">60 A/cm<tspan dx="2" dy="-12.6" font-size="19">2</tspan></text>
<text x="585" y="257.3" font-size="24.3" fill="#262626">50 A/cm<tspan dx="2" dy="-12.6" font-size="19">2</tspan></text>
<text x="585" y="295.4" font-size="24.3" fill="#262626">40 A/cm<tspan dx="2" dy="-12.6" font-size="19">2</tspan></text>
<text x="585" y="333.5" font-size="24.3" fill="#262626">30 A/cm<tspan dx="2" dy="-12.6" font-size="19">2</tspan></text>
<text x="585" y="371.5" font-size="24.3" fill="#262626">20 A/cm<tspan dx="2" dy="-12.6" font-size="19">2</tspan></text>
<text x="585" y="409.6" font-size="24.3" fill="#262626">15 A/cm<tspan dx="2" dy="-12.6" font-size="19">2</tspan></text>
<text x="585" y="447.7" font-size="24.3" fill="#262626">10 A/cm<tspan dx="2" dy="-12.6" font-size="19">2</tspan></text>
<text x="585" y="485.8" font-size="24.3" fill="#262626">7.5 A/cm<tspan dx="2" dy="-12.6" font-size="19">2</tspan></text>
<text x="585" y="523.9" font-size="24.3" fill="#262626">5 A/cm<tspan dx="2" dy="-12.6" font-size="19">2</tspan></text>
<text x="585" y="561.9" font-size="24.3" fill="#262626">2.5 A/cm<tspan dx="2" dy="-12.6" font-size="19">2</tspan></text>
<text x="585" y="600.0" font-size="24.3" fill="#262626">1 A/cm<tspan dx="2" dy="-12.6" font-size="19">2</tspan></text>
<ellipse cx="333.7" cy="933.6" rx="19.2" ry="42.6" fill="none" stroke="#0072BD" stroke-width="1.7" stroke-dasharray="5 1.3"/>
<ellipse cx="239.8" cy="1115.3" rx="19" ry="42.2" fill="none" stroke="#0072BD" stroke-width="1.7" stroke-dasharray="5 1.3"/>
<ellipse cx="376.3" cy="786.5" rx="20" ry="42.6" fill="none" stroke="#FF2222" stroke-width="1.7" stroke-dasharray="7 0.8"/>
<line x1="303.5" y1="958.0" x2="207.6" y2="957.3" stroke="#0072BD" stroke-width="2.2"/>
<path d="M188.6,957.2 L215.2,947.4 L207.6,957.3 L215.0,967.4 Z" fill="#0072BD"/>
<line x1="198.0" y1="1131.8" x2="154.1" y2="1131.1" stroke="#0072BD" stroke-width="2.2"/>
<path d="M134.0,1130.8 L161.0,1120.8 L154.1,1131.1 L160.6,1141.6 Z" fill="#0072BD"/>
<line x1="406.4" y1="813.4" x2="460.5" y2="816.3" stroke="#D95319" stroke-width="2.5"/>
<path d="M481.0,817.4 L453.0,826.4 L460.5,816.3 L454.1,805.4 Z" fill="#D95319"/>
<polyline points="133.8,1039.7 155.5,1061.1 199.0,1102.2 242.5,1125.8 286.0,1138.3 329.5,1143.2 373.0,1146.3 416.5,1151.4 460.0,1153.8 503.5,1154.9 547.0,1164.1" fill="none" stroke="#0072BD" stroke-width="2.1" stroke-dasharray="51.3 13.4 49.4 10.7 24.0 12.3 51.4 14.1 18.7 12.0 24.1 8.7 51.6 10.3 20.7 15.4 24.0 9.3 38.6 200.0"/>
<circle cx="133.8" cy="1039.7" r="8.5" fill="none" stroke="#0072BD" stroke-width="2"/>
<circle cx="155.5" cy="1061.1" r="8.5" fill="none" stroke="#0072BD" stroke-width="2"/>
<circle cx="199.0" cy="1102.2" r="8.5" fill="none" stroke="#0072BD" stroke-width="2"/>
<circle cx="242.5" cy="1125.8" r="8.5" fill="none" stroke="#0072BD" stroke-width="2"/>
<circle cx="286.0" cy="1138.3" r="8.5" fill="none" stroke="#0072BD" stroke-width="2"/>
<circle cx="329.5" cy="1143.2" r="8.5" fill="none" stroke="#0072BD" stroke-width="2"/>
<circle cx="373.0" cy="1146.3" r="8.5" fill="none" stroke="#0072BD" stroke-width="2"/>
<circle cx="416.5" cy="1151.4" r="8.5" fill="none" stroke="#0072BD" stroke-width="2"/>
<circle cx="460.0" cy="1153.8" r="8.5" fill="none" stroke="#0072BD" stroke-width="2"/>
<circle cx="503.5" cy="1154.9" r="8.5" fill="none" stroke="#0072BD" stroke-width="2"/>
<circle cx="547.0" cy="1164.1" r="8.5" fill="none" stroke="#0072BD" stroke-width="2"/>
<polyline points="116.3,1111.0 122.9,964.0 133.8,936.0 144.6,917.5 155.5,881.0 199.0,845.0 242.5,808.5 286.0,802.5 329.5,790.3 373.0,780.1 416.5,772.4 460.0,762.1 503.5,752.6 547.0,738.0" fill="none" stroke="#D95319" stroke-width="2"/>
<rect x="109.5" y="1104.2" width="13.6" height="13.6" fill="#D95319"/>
<rect x="116.1" y="957.2" width="13.6" height="13.6" fill="#D95319"/>
<rect x="127.0" y="929.2" width="13.6" height="13.6" fill="#D95319"/>
<rect x="137.8" y="910.7" width="13.6" height="13.6" fill="#D95319"/>
<rect x="148.7" y="874.2" width="13.6" height="13.6" fill="#D95319"/>
<rect x="192.2" y="838.2" width="13.6" height="13.6" fill="#D95319"/>
<rect x="235.7" y="801.7" width="13.6" height="13.6" fill="#D95319"/>
<rect x="279.2" y="795.7" width="13.6" height="13.6" fill="#D95319"/>
<rect x="322.7" y="783.5" width="13.6" height="13.6" fill="#D95319"/>
<rect x="366.2" y="773.3" width="13.6" height="13.6" fill="#D95319"/>
<rect x="409.7" y="765.6" width="13.6" height="13.6" fill="#D95319"/>
<rect x="453.2" y="755.3" width="13.6" height="13.6" fill="#D95319"/>
<rect x="496.7" y="745.8" width="13.6" height="13.6" fill="#D95319"/>
<rect x="540.2" y="731.2" width="13.6" height="13.6" fill="#D95319"/>
<polyline points="133.8,797.1 155.5,858.0 199.0,897.3 242.5,909.9 286.0,922.5 329.5,931.9 373.0,944.0 416.5,952.5 460.0,961.5 503.5,965.0 547.0,970.5" fill="none" stroke="#0072BD" stroke-width="2"/>
<circle cx="133.8" cy="797.1" r="9.5" fill="#0072BD"/>
<circle cx="155.5" cy="858.0" r="9.5" fill="#0072BD"/>
<circle cx="199.0" cy="897.3" r="9.5" fill="#0072BD"/>
<circle cx="242.5" cy="909.9" r="9.5" fill="#0072BD"/>
<circle cx="286.0" cy="922.5" r="9.5" fill="#0072BD"/>
<circle cx="329.5" cy="931.9" r="9.5" fill="#0072BD"/>
<circle cx="373.0" cy="944.0" r="9.5" fill="#0072BD"/>
<circle cx="416.5" cy="952.5" r="9.5" fill="#0072BD"/>
<circle cx="460.0" cy="961.5" r="9.5" fill="#0072BD"/>
<circle cx="503.5" cy="965.0" r="9.5" fill="#0072BD"/>
<circle cx="547.0" cy="970.5" r="9.5" fill="#0072BD"/>
<g stroke-width="3" fill="none">
<path d="M113,738.2 H546.5 M113,1168 H546.5" stroke="#262626"/>
<path d="M330.6,738.2 V755 M330.6,1168 V1151" stroke="#262626"/>
<path d="M113,736.7 V1169.5" stroke="#0072BD"/>
<path d="M113,738.4 H131" stroke="#0072BD"/>
<path d="M113,824.3 H131" stroke="#0072BD"/>
<path d="M113,910.2 H131" stroke="#0072BD"/>
<path d="M113,996.2 H131" stroke="#0072BD"/>
<path d="M113,1082.1 H131" stroke="#0072BD"/>
<path d="M113,1168.0 H131" stroke="#0072BD"/>
<path d="M546.5,736.7 V1169.5" stroke="#D95319"/>
<path d="M546.5,738.4 H528.5" stroke="#D95319"/>
<path d="M546.5,810.0 H528.5" stroke="#D95319"/>
<path d="M546.5,881.6 H528.5" stroke="#D95319"/>
<path d="M546.5,953.2 H528.5" stroke="#D95319"/>
<path d="M546.5,1024.8 H528.5" stroke="#D95319"/>
<path d="M546.5,1096.4 H528.5" stroke="#D95319"/>
<path d="M546.5,1168.0 H528.5" stroke="#D95319"/>
</g>
<text transform="translate(97.3,752.4) scale(1,1.06)" font-size="32" fill="#0072BD" text-anchor="end">660</text>
<text transform="translate(97.3,838.3) scale(1,1.06)" font-size="32" fill="#0072BD" text-anchor="end">640</text>
<text transform="translate(97.3,924.2) scale(1,1.06)" font-size="32" fill="#0072BD" text-anchor="end">620</text>
<text transform="translate(97.3,1010.2) scale(1,1.06)" font-size="32" fill="#0072BD" text-anchor="end">600</text>
<text transform="translate(97.3,1096.1) scale(1,1.06)" font-size="32" fill="#0072BD" text-anchor="end">580</text>
<text transform="translate(97.3,1182.0) scale(1,1.06)" font-size="32" fill="#0072BD" text-anchor="end">560</text>
<text transform="translate(559.3,752.4) scale(1,1.06)" font-size="32" fill="#D95319" text-anchor="start">66</text>
<text transform="translate(559.3,824.0) scale(1,1.06)" font-size="32" fill="#D95319" text-anchor="start">64</text>
<text transform="translate(559.3,895.6) scale(1,1.06)" font-size="32" fill="#D95319" text-anchor="start">62</text>
<text transform="translate(559.3,967.2) scale(1,1.06)" font-size="32" fill="#D95319" text-anchor="start">60</text>
<text transform="translate(559.3,1038.8) scale(1,1.06)" font-size="32" fill="#D95319" text-anchor="start">58</text>
<text transform="translate(559.3,1110.4) scale(1,1.06)" font-size="32" fill="#D95319" text-anchor="start">56</text>
<text transform="translate(559.3,1182.0) scale(1,1.06)" font-size="32" fill="#D95319" text-anchor="start">54</text>
<text transform="translate(112.5,1215.3) scale(1,1.06)" font-size="32" fill="#262626" text-anchor="middle">0</text>
<text transform="translate(330.0,1215.3) scale(1,1.06)" font-size="32" fill="#262626" text-anchor="middle">50</text>
<text transform="translate(547.5,1215.3) scale(1,1.06)" font-size="32" fill="#262626" text-anchor="middle">100</text>
<text x="142.5" y="1271" font-size="35.5" fill="#262626">Current density (A/cm<tspan dx="1.5" dy="-17" font-size="28">2</tspan><tspan dx="4" dy="17">)</tspan></text>
<text transform="translate(29,953.7) rotate(-90)" font-size="35.6" fill="#0072BD" text-anchor="middle">Peak wavelength (nm)</text>
<text transform="translate(639.8,953.4) rotate(-90)" font-size="35.6" fill="#D95319" text-anchor="middle">FWHM (nm)</text>
<text x="149.0" y="781.0" font-size="33" fill="#000" text-anchor="start" font-weight="normal" >(b)</text>
<line x1="189.4" y1="992.6" x2="268.7" y2="992.6" stroke="#0072BD" stroke-width="2.3"/>
<circle cx="228.7" cy="992.6" r="9.5" fill="#0072BD"/>
<line x1="189.4" y1="1026.9" x2="265.5" y2="1026.9" stroke="#D95319" stroke-width="2.3"/>
<rect x="223.8" y="1020.4" width="13" height="13" fill="#D95319"/>
<line x1="189.4" y1="1060.8" x2="269.6" y2="1060.8" stroke="#0072BD" stroke-width="2" stroke-dasharray="20.5 10.5"/>
<circle cx="228.7" cy="1060.8" r="8.5" fill="none" stroke="#0072BD" stroke-width="2"/>
<path d="M274.8,976.6 C281.5,977.6 285.2,982 285.5,990 C285.8,998.5 287.5,1002.6 292,1005.2 M292,1005.2 C287.5,1007.8 285.8,1011.9 285.5,1020.4 C285.2,1028.4 281.5,1032.8 274.8,1033.8" fill="none" stroke="#000" stroke-width="2.6" stroke-linecap="round"/>
<path d="M289.5,1003.4 L307.6,1004.9 L289.5,1006.8 Z" fill="#000"/>
<text x="314.5" y="1015.3" font-size="22" fill="#000" text-anchor="start" font-weight="bold" word-spacing="0">On porous layers</text>
<text x="279.0" y="1068.4" font-size="22" fill="#000" text-anchor="start" font-weight="bold" word-spacing="0">On non-porous layers</text>
<text x="113.0" y="1319.6" font-size="33" fill="#000" text-anchor="start" font-weight="normal" >(c)</text>
<defs><filter id="bl" x="-50%" y="-50%" width="200%" height="200%"><feGaussianBlur stdDeviation="3.6"/></filter><filter id="bl2" x="-50%" y="-50%" width="200%" height="200%"><feGaussianBlur stdDeviation="8"/></filter><filter id="bl3" x="-50%" y="-50%" width="200%" height="200%"><feGaussianBlur stdDeviation="2.5"/></filter></defs>
<rect x="96" y="1340" width="254" height="198" fill="#0b0202"/>
<rect x="391" y="1340" width="255" height="198" fill="#0b0202"/>
<g filter="url(#bl2)"><rect x="174" y="1394" width="82" height="88" rx="20" fill="#5a0800"/><rect x="196" y="1466" width="40" height="38" fill="#300400"/></g>
<g filter="url(#bl)"><rect x="180" y="1402" width="42" height="73" rx="12" fill="#FF2400"/><rect x="215" y="1398" width="36" height="72" rx="12" fill="#FF2400"/></g>
<g filter="url(#bl2)"><rect x="476" y="1399" width="86" height="98" rx="20" fill="#7a2800"/></g>
<g filter="url(#bl)"><rect x="484" y="1411" width="37" height="76" rx="11" fill="#EFC21A"/><rect x="519" y="1406" width="36" height="84" rx="11" fill="#F4E816"/></g>
<g filter="url(#bl3)"><rect x="513" y="1418" width="6" height="62" fill="#E0A010"/><rect x="498" y="1413" width="16" height="14" fill="#EBAE14"/></g>
<text x="112.2" y="1379.2" font-size="29.6" fill="#fff" font-weight="bold" textLength="10.2" lengthAdjust="spacingAndGlyphs">J</text>
<text x="131.8" y="1379.2" font-size="29.6" fill="#fff" font-weight="bold" textLength="18.2" lengthAdjust="spacingAndGlyphs">=</text>
<text x="160.3" y="1379.2" font-size="29.6" fill="#fff" font-weight="bold" textLength="16.8" lengthAdjust="spacingAndGlyphs">5</text>
<text x="185.5" y="1379.2" font-size="29.6" fill="#fff" font-weight="bold" textLength="82.5" lengthAdjust="spacingAndGlyphs">A/cm</text>
<text x="268.3" y="1368.6" font-size="18" fill="#fff" font-weight="bold" textLength="12.6" lengthAdjust="spacingAndGlyphs">2</text>
<text x="403.4" y="1379.2" font-size="29.6" fill="#fff" font-weight="bold" textLength="10.2" lengthAdjust="spacingAndGlyphs">J</text>
<text x="423.0" y="1379.2" font-size="29.6" fill="#fff" font-weight="bold" textLength="18.2" lengthAdjust="spacingAndGlyphs">=</text>
<text x="451.5" y="1379.2" font-size="29.6" fill="#fff" font-weight="bold" textLength="16.8" lengthAdjust="spacingAndGlyphs">5</text>
<text x="476.7" y="1379.2" font-size="29.6" fill="#fff" font-weight="bold" textLength="82.5" lengthAdjust="spacingAndGlyphs">A/cm</text>
<text x="559.5" y="1368.6" font-size="18" fill="#fff" font-weight="bold" textLength="12.6" lengthAdjust="spacingAndGlyphs">2</text>
<rect x="122.8" y="1502.4" width="115.7" height="16.6" fill="#fff"/>
<rect x="412.8" y="1503.5" width="115.7" height="16.2" fill="#fff"/>
<text x="252.5" y="1520.0" font-size="26" fill="#fff" font-weight="bold" textLength="31.5" lengthAdjust="spacingAndGlyphs">10</text>
<text x="290.8" y="1520.0" font-size="26" fill="#fff" font-weight="bold" textLength="44.5" lengthAdjust="spacingAndGlyphs">&#181;m</text>
<text x="547.1" y="1520.0" font-size="26" fill="#fff" font-weight="bold" textLength="31.5" lengthAdjust="spacingAndGlyphs">10</text>
<text x="585.4" y="1520.0" font-size="26" fill="#fff" font-weight="bold" textLength="44.5" lengthAdjust="spacingAndGlyphs">&#181;m</text>
</svg></body></html>
